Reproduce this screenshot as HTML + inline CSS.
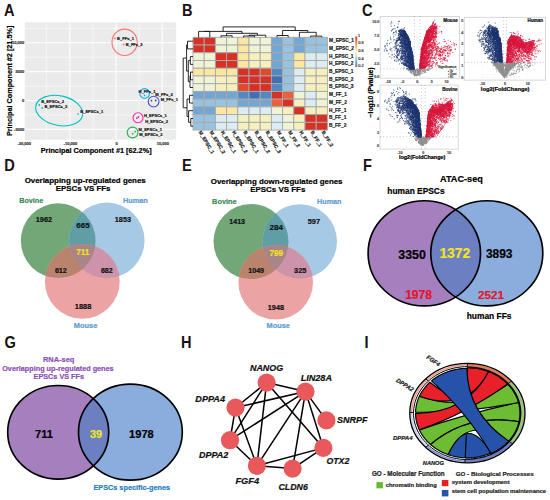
<!DOCTYPE html><html><head><meta charset="utf-8"><style>html,body{margin:0;padding:0;background:#fff;width:550px;height:500px;overflow:hidden}svg{display:block}text{font-family:"Liberation Sans",sans-serif}</style></head><body><svg width="550" height="500" viewBox="0 0 550 500" font-family="Liberation Sans, sans-serif">
<rect width="550" height="500" fill="#fff"/>
<text transform="translate(3.89,15.90) scale(0.9,1)" font-size="16.2" font-weight="bold" fill="#1a1212">A</text>
<rect x="24.8" y="22.3" width="151.4" height="117.4" fill="#ebebeb"/>
<g stroke="#fff">
<line x1="46.7" y1="22.3" x2="46.7" y2="139.7" stroke-width="0.5"/>
<line x1="69.8" y1="22.3" x2="69.8" y2="139.7" stroke-width="1.0"/>
<line x1="92.9" y1="22.3" x2="92.9" y2="139.7" stroke-width="0.5"/>
<line x1="116.0" y1="22.3" x2="116.0" y2="139.7" stroke-width="1.0"/>
<line x1="139.1" y1="22.3" x2="139.1" y2="139.7" stroke-width="0.5"/>
<line x1="162.2" y1="22.3" x2="162.2" y2="139.7" stroke-width="1.0"/>
<line x1="24.8" y1="129.3" x2="176.2" y2="129.3" stroke-width="1.0"/>
<line x1="24.8" y1="114.9" x2="176.2" y2="114.9" stroke-width="0.5"/>
<line x1="24.8" y1="100.5" x2="176.2" y2="100.5" stroke-width="1.0"/>
<line x1="24.8" y1="86.1" x2="176.2" y2="86.1" stroke-width="0.5"/>
<line x1="24.8" y1="71.7" x2="176.2" y2="71.7" stroke-width="1.0"/>
<line x1="24.8" y1="57.2" x2="176.2" y2="57.2" stroke-width="0.5"/>
<line x1="24.8" y1="42.8" x2="176.2" y2="42.8" stroke-width="1.0"/>
<line x1="24.8" y1="28.4" x2="176.2" y2="28.4" stroke-width="0.5"/>
</g>
<text x="24.20" y="145.30" font-size="4.00" font-weight="bold" fill="#3a3a3a" text-anchor="middle" stroke="#3a3a3a" stroke-width="0.2" >-20,000</text>
<text x="70.40" y="145.30" font-size="4.00" font-weight="bold" fill="#3a3a3a" text-anchor="middle" stroke="#3a3a3a" stroke-width="0.2" >-10,000</text>
<text x="116.60" y="145.30" font-size="4.00" font-weight="bold" fill="#3a3a3a" text-anchor="middle" stroke="#3a3a3a" stroke-width="0.2" >0</text>
<text x="162.80" y="145.30" font-size="4.00" font-weight="bold" fill="#3a3a3a" text-anchor="middle" stroke="#3a3a3a" stroke-width="0.2" >10,000</text>
<text x="24.30" y="44.30" font-size="4.00" font-weight="bold" fill="#3a3a3a" text-anchor="end" stroke="#3a3a3a" stroke-width="0.2" >10,000</text>
<text x="24.30" y="73.15" font-size="4.00" font-weight="bold" fill="#3a3a3a" text-anchor="end" stroke="#3a3a3a" stroke-width="0.2" >5000</text>
<text x="24.30" y="102.00" font-size="4.00" font-weight="bold" fill="#3a3a3a" text-anchor="end" stroke="#3a3a3a" stroke-width="0.2" >0</text>
<text x="24.30" y="130.85" font-size="4.00" font-weight="bold" fill="#3a3a3a" text-anchor="end" stroke="#3a3a3a" stroke-width="0.2" >-5000</text>
<text x="40.71" y="152.50" font-size="7.29" font-weight="bold" fill="#000" stroke="#000" stroke-width="0.2" >Principal Component #1 [62.2%]</text>
<text transform="translate(12,80.9) rotate(-90)" font-size="7.25" font-weight="bold" text-anchor="middle" stroke="#000" stroke-width="0.2">Principal Component #2 [21.5%]</text>
<g fill="none" stroke-width="0.9">
<ellipse cx="124.6" cy="42.3" rx="12.6" ry="13.2" stroke="#f8766d" stroke-width="1.1"/>
<ellipse cx="59.2" cy="110.6" rx="23.8" ry="14.8" transform="rotate(12 59.2 110.6)" stroke="#00bfc4" stroke-width="1.1"/>
<circle cx="144.6" cy="93.4" r="4.8" stroke="#00b0f6" stroke-width="1.1"/>
<circle cx="153.6" cy="101.6" r="5.4" stroke="#5050b8" stroke-width="1.1"/>
<circle cx="138" cy="117.8" r="5" stroke="#ff2aa8" stroke-width="1.1"/>
<circle cx="132.6" cy="132.5" r="5.4" stroke="#22b24c" stroke-width="1.1"/>
</g>
<circle cx="114.9" cy="38.4" r="0.9" fill="#f8766d"/>
<circle cx="123.6" cy="44.5" r="0.9" fill="#f8766d"/>
<circle cx="39.3" cy="105" r="0.9" fill="#00bfc4"/>
<circle cx="42.2" cy="107.9" r="0.9" fill="#00bfc4"/>
<circle cx="78" cy="114.1" r="0.9" fill="#00bfc4"/>
<circle cx="144.6" cy="95.4" r="0.9" fill="#00b0f6"/>
<circle cx="151.5" cy="100.6" r="0.9" fill="#3030a0"/>
<circle cx="155.7" cy="100.4" r="0.9" fill="#3030a0"/>
<circle cx="136.8" cy="118.2" r="0.9" fill="#e7298a"/>
<circle cx="138.5" cy="117.0" r="0.9" fill="#e7298a"/>
<circle cx="135.2" cy="131.6" r="0.9" fill="#22b24c"/>
<circle cx="132.6" cy="133.6" r="0.9" fill="#22b24c"/>
<text x="117.03" y="39.80" font-size="4.05" font-weight="bold" fill="#1a1a1a" stroke="#1a1a1a" stroke-width="0.2" >B_FFs_1</text>
<text x="125.73" y="46.00" font-size="4.05" font-weight="bold" fill="#1a1a1a" stroke="#1a1a1a" stroke-width="0.2" >B_FFs_2</text>
<text x="41.13" y="102.80" font-size="4.05" font-weight="bold" fill="#1a1a1a" stroke="#1a1a1a" stroke-width="0.2" >B_EPSCs_2</text>
<text x="44.43" y="107.80" font-size="4.05" font-weight="bold" fill="#1a1a1a" stroke="#1a1a1a" stroke-width="0.2" >B_EPSCs_3</text>
<text x="80.23" y="112.80" font-size="4.05" font-weight="bold" fill="#1a1a1a" stroke="#1a1a1a" stroke-width="0.2" >B_EPSCs_1</text>
<text x="138.53" y="93.40" font-size="4.05" font-weight="bold" fill="#1a1a1a" stroke="#1a1a1a" stroke-width="0.2" >H_FFs_1</text>
<text x="155.33" y="96.00" font-size="4.05" font-weight="bold" fill="#1a1a1a" stroke="#1a1a1a" stroke-width="0.2" >M_FFs_2</text>
<text x="160.73" y="101.20" font-size="4.05" font-weight="bold" fill="#1a1a1a" stroke="#1a1a1a" stroke-width="0.2" >M_FFs_1</text>
<text x="143.93" y="117.40" font-size="4.05" font-weight="bold" fill="#1a1a1a" stroke="#1a1a1a" stroke-width="0.2" >H_EPSCs_1</text>
<text x="145.13" y="122.60" font-size="4.05" font-weight="bold" fill="#1a1a1a" stroke="#1a1a1a" stroke-width="0.2" >H_EPSCs_2</text>
<text x="138.53" y="130.90" font-size="4.05" font-weight="bold" fill="#1a1a1a" stroke="#1a1a1a" stroke-width="0.2" >M_EPSCs_1</text>
<text x="139.13" y="136.00" font-size="4.05" font-weight="bold" fill="#1a1a1a" stroke="#1a1a1a" stroke-width="0.2" >M_EPSCs_2</text>
<text transform="translate(182.12,15.90) scale(0.9,1)" font-size="16.2" font-weight="bold" fill="#1a1212">B</text>
<rect x="193.00" y="37.30" width="11.20" height="7.73" fill="#d73027" stroke="#a8a8a8" stroke-width="0.9"/>
<rect x="204.20" y="37.30" width="11.20" height="7.73" fill="#d73027" stroke="#a8a8a8" stroke-width="0.9"/>
<rect x="215.40" y="37.30" width="11.20" height="7.73" fill="#eff3d7" stroke="#a8a8a8" stroke-width="0.9"/>
<rect x="226.60" y="37.30" width="11.20" height="7.73" fill="#eff3d7" stroke="#a8a8a8" stroke-width="0.9"/>
<rect x="237.80" y="37.30" width="11.20" height="7.73" fill="#fbe7a2" stroke="#a8a8a8" stroke-width="0.9"/>
<rect x="249.00" y="37.30" width="11.20" height="7.73" fill="#eff3d7" stroke="#a8a8a8" stroke-width="0.9"/>
<rect x="260.20" y="37.30" width="11.20" height="7.73" fill="#eff3d7" stroke="#a8a8a8" stroke-width="0.9"/>
<rect x="271.40" y="37.30" width="11.20" height="7.73" fill="#74a6d3" stroke="#a8a8a8" stroke-width="0.9"/>
<rect x="282.60" y="37.30" width="11.20" height="7.73" fill="#98c3e0" stroke="#a8a8a8" stroke-width="0.9"/>
<rect x="293.80" y="37.30" width="11.20" height="7.73" fill="#74a6d3" stroke="#a8a8a8" stroke-width="0.9"/>
<rect x="305.00" y="37.30" width="11.20" height="7.73" fill="#98c3e0" stroke="#a8a8a8" stroke-width="0.9"/>
<rect x="316.20" y="37.30" width="11.20" height="7.73" fill="#98c3e0" stroke="#a8a8a8" stroke-width="0.9"/>
<rect x="193.00" y="45.03" width="11.20" height="7.73" fill="#d73027" stroke="#a8a8a8" stroke-width="0.9"/>
<rect x="204.20" y="45.03" width="11.20" height="7.73" fill="#d73027" stroke="#a8a8a8" stroke-width="0.9"/>
<rect x="215.40" y="45.03" width="11.20" height="7.73" fill="#eff3d7" stroke="#a8a8a8" stroke-width="0.9"/>
<rect x="226.60" y="45.03" width="11.20" height="7.73" fill="#eff3d7" stroke="#a8a8a8" stroke-width="0.9"/>
<rect x="237.80" y="45.03" width="11.20" height="7.73" fill="#fbe7a2" stroke="#a8a8a8" stroke-width="0.9"/>
<rect x="249.00" y="45.03" width="11.20" height="7.73" fill="#eff3d7" stroke="#a8a8a8" stroke-width="0.9"/>
<rect x="260.20" y="45.03" width="11.20" height="7.73" fill="#eff3d7" stroke="#a8a8a8" stroke-width="0.9"/>
<rect x="271.40" y="45.03" width="11.20" height="7.73" fill="#74a6d3" stroke="#a8a8a8" stroke-width="0.9"/>
<rect x="282.60" y="45.03" width="11.20" height="7.73" fill="#98c3e0" stroke="#a8a8a8" stroke-width="0.9"/>
<rect x="293.80" y="45.03" width="11.20" height="7.73" fill="#74a6d3" stroke="#a8a8a8" stroke-width="0.9"/>
<rect x="305.00" y="45.03" width="11.20" height="7.73" fill="#98c3e0" stroke="#a8a8a8" stroke-width="0.9"/>
<rect x="316.20" y="45.03" width="11.20" height="7.73" fill="#98c3e0" stroke="#a8a8a8" stroke-width="0.9"/>
<rect x="193.00" y="52.76" width="11.20" height="7.73" fill="#eff3d7" stroke="#a8a8a8" stroke-width="0.9"/>
<rect x="204.20" y="52.76" width="11.20" height="7.73" fill="#eff3d7" stroke="#a8a8a8" stroke-width="0.9"/>
<rect x="215.40" y="52.76" width="11.20" height="7.73" fill="#d73027" stroke="#a8a8a8" stroke-width="0.9"/>
<rect x="226.60" y="52.76" width="11.20" height="7.73" fill="#d73027" stroke="#a8a8a8" stroke-width="0.9"/>
<rect x="237.80" y="52.76" width="11.20" height="7.73" fill="#fbe7a2" stroke="#a8a8a8" stroke-width="0.9"/>
<rect x="249.00" y="52.76" width="11.20" height="7.73" fill="#f5f0bd" stroke="#a8a8a8" stroke-width="0.9"/>
<rect x="260.20" y="52.76" width="11.20" height="7.73" fill="#f5f0bd" stroke="#a8a8a8" stroke-width="0.9"/>
<rect x="271.40" y="52.76" width="11.20" height="7.73" fill="#74a6d3" stroke="#a8a8a8" stroke-width="0.9"/>
<rect x="282.60" y="52.76" width="11.20" height="7.73" fill="#98c3e0" stroke="#a8a8a8" stroke-width="0.9"/>
<rect x="293.80" y="52.76" width="11.20" height="7.73" fill="#fbe7a2" stroke="#a8a8a8" stroke-width="0.9"/>
<rect x="305.00" y="52.76" width="11.20" height="7.73" fill="#dcedf2" stroke="#a8a8a8" stroke-width="0.9"/>
<rect x="316.20" y="52.76" width="11.20" height="7.73" fill="#dcedf2" stroke="#a8a8a8" stroke-width="0.9"/>
<rect x="193.00" y="60.49" width="11.20" height="7.73" fill="#eff3d7" stroke="#a8a8a8" stroke-width="0.9"/>
<rect x="204.20" y="60.49" width="11.20" height="7.73" fill="#eff3d7" stroke="#a8a8a8" stroke-width="0.9"/>
<rect x="215.40" y="60.49" width="11.20" height="7.73" fill="#d73027" stroke="#a8a8a8" stroke-width="0.9"/>
<rect x="226.60" y="60.49" width="11.20" height="7.73" fill="#d73027" stroke="#a8a8a8" stroke-width="0.9"/>
<rect x="237.80" y="60.49" width="11.20" height="7.73" fill="#fbe7a2" stroke="#a8a8a8" stroke-width="0.9"/>
<rect x="249.00" y="60.49" width="11.20" height="7.73" fill="#f5f0bd" stroke="#a8a8a8" stroke-width="0.9"/>
<rect x="260.20" y="60.49" width="11.20" height="7.73" fill="#f5f0bd" stroke="#a8a8a8" stroke-width="0.9"/>
<rect x="271.40" y="60.49" width="11.20" height="7.73" fill="#74a6d3" stroke="#a8a8a8" stroke-width="0.9"/>
<rect x="282.60" y="60.49" width="11.20" height="7.73" fill="#98c3e0" stroke="#a8a8a8" stroke-width="0.9"/>
<rect x="293.80" y="60.49" width="11.20" height="7.73" fill="#fbe7a2" stroke="#a8a8a8" stroke-width="0.9"/>
<rect x="305.00" y="60.49" width="11.20" height="7.73" fill="#dcedf2" stroke="#a8a8a8" stroke-width="0.9"/>
<rect x="316.20" y="60.49" width="11.20" height="7.73" fill="#dcedf2" stroke="#a8a8a8" stroke-width="0.9"/>
<rect x="193.00" y="68.22" width="11.20" height="7.73" fill="#fbe7a2" stroke="#a8a8a8" stroke-width="0.9"/>
<rect x="204.20" y="68.22" width="11.20" height="7.73" fill="#fbe7a2" stroke="#a8a8a8" stroke-width="0.9"/>
<rect x="215.40" y="68.22" width="11.20" height="7.73" fill="#fbe7a2" stroke="#a8a8a8" stroke-width="0.9"/>
<rect x="226.60" y="68.22" width="11.20" height="7.73" fill="#fbe7a2" stroke="#a8a8a8" stroke-width="0.9"/>
<rect x="237.80" y="68.22" width="11.20" height="7.73" fill="#d73027" stroke="#a8a8a8" stroke-width="0.9"/>
<rect x="249.00" y="68.22" width="11.20" height="7.73" fill="#d73027" stroke="#a8a8a8" stroke-width="0.9"/>
<rect x="260.20" y="68.22" width="11.20" height="7.73" fill="#df4a2e" stroke="#a8a8a8" stroke-width="0.9"/>
<rect x="271.40" y="68.22" width="11.20" height="7.73" fill="#5289c4" stroke="#a8a8a8" stroke-width="0.9"/>
<rect x="282.60" y="68.22" width="11.20" height="7.73" fill="#98c3e0" stroke="#a8a8a8" stroke-width="0.9"/>
<rect x="293.80" y="68.22" width="11.20" height="7.73" fill="#dcedf2" stroke="#a8a8a8" stroke-width="0.9"/>
<rect x="305.00" y="68.22" width="11.20" height="7.73" fill="#f5f0bd" stroke="#a8a8a8" stroke-width="0.9"/>
<rect x="316.20" y="68.22" width="11.20" height="7.73" fill="#f5f0bd" stroke="#a8a8a8" stroke-width="0.9"/>
<rect x="193.00" y="75.95" width="11.20" height="7.73" fill="#eff3d7" stroke="#a8a8a8" stroke-width="0.9"/>
<rect x="204.20" y="75.95" width="11.20" height="7.73" fill="#eff3d7" stroke="#a8a8a8" stroke-width="0.9"/>
<rect x="215.40" y="75.95" width="11.20" height="7.73" fill="#f5f0bd" stroke="#a8a8a8" stroke-width="0.9"/>
<rect x="226.60" y="75.95" width="11.20" height="7.73" fill="#f5f0bd" stroke="#a8a8a8" stroke-width="0.9"/>
<rect x="237.80" y="75.95" width="11.20" height="7.73" fill="#d73027" stroke="#a8a8a8" stroke-width="0.9"/>
<rect x="249.00" y="75.95" width="11.20" height="7.73" fill="#d73027" stroke="#a8a8a8" stroke-width="0.9"/>
<rect x="260.20" y="75.95" width="11.20" height="7.73" fill="#d73027" stroke="#a8a8a8" stroke-width="0.9"/>
<rect x="271.40" y="75.95" width="11.20" height="7.73" fill="#3f71b4" stroke="#a8a8a8" stroke-width="0.9"/>
<rect x="282.60" y="75.95" width="11.20" height="7.73" fill="#98c3e0" stroke="#a8a8a8" stroke-width="0.9"/>
<rect x="293.80" y="75.95" width="11.20" height="7.73" fill="#dcedf2" stroke="#a8a8a8" stroke-width="0.9"/>
<rect x="305.00" y="75.95" width="11.20" height="7.73" fill="#f5f0bd" stroke="#a8a8a8" stroke-width="0.9"/>
<rect x="316.20" y="75.95" width="11.20" height="7.73" fill="#f5f0bd" stroke="#a8a8a8" stroke-width="0.9"/>
<rect x="193.00" y="83.68" width="11.20" height="7.73" fill="#eff3d7" stroke="#a8a8a8" stroke-width="0.9"/>
<rect x="204.20" y="83.68" width="11.20" height="7.73" fill="#eff3d7" stroke="#a8a8a8" stroke-width="0.9"/>
<rect x="215.40" y="83.68" width="11.20" height="7.73" fill="#f5f0bd" stroke="#a8a8a8" stroke-width="0.9"/>
<rect x="226.60" y="83.68" width="11.20" height="7.73" fill="#f5f0bd" stroke="#a8a8a8" stroke-width="0.9"/>
<rect x="237.80" y="83.68" width="11.20" height="7.73" fill="#df4a2e" stroke="#a8a8a8" stroke-width="0.9"/>
<rect x="249.00" y="83.68" width="11.20" height="7.73" fill="#d73027" stroke="#a8a8a8" stroke-width="0.9"/>
<rect x="260.20" y="83.68" width="11.20" height="7.73" fill="#d73027" stroke="#a8a8a8" stroke-width="0.9"/>
<rect x="271.40" y="83.68" width="11.20" height="7.73" fill="#5289c4" stroke="#a8a8a8" stroke-width="0.9"/>
<rect x="282.60" y="83.68" width="11.20" height="7.73" fill="#98c3e0" stroke="#a8a8a8" stroke-width="0.9"/>
<rect x="293.80" y="83.68" width="11.20" height="7.73" fill="#dcedf2" stroke="#a8a8a8" stroke-width="0.9"/>
<rect x="305.00" y="83.68" width="11.20" height="7.73" fill="#f5f0bd" stroke="#a8a8a8" stroke-width="0.9"/>
<rect x="316.20" y="83.68" width="11.20" height="7.73" fill="#f5f0bd" stroke="#a8a8a8" stroke-width="0.9"/>
<rect x="193.00" y="91.41" width="11.20" height="7.73" fill="#74a6d3" stroke="#a8a8a8" stroke-width="0.9"/>
<rect x="204.20" y="91.41" width="11.20" height="7.73" fill="#74a6d3" stroke="#a8a8a8" stroke-width="0.9"/>
<rect x="215.40" y="91.41" width="11.20" height="7.73" fill="#74a6d3" stroke="#a8a8a8" stroke-width="0.9"/>
<rect x="226.60" y="91.41" width="11.20" height="7.73" fill="#74a6d3" stroke="#a8a8a8" stroke-width="0.9"/>
<rect x="237.80" y="91.41" width="11.20" height="7.73" fill="#5289c4" stroke="#a8a8a8" stroke-width="0.9"/>
<rect x="249.00" y="91.41" width="11.20" height="7.73" fill="#3f71b4" stroke="#a8a8a8" stroke-width="0.9"/>
<rect x="260.20" y="91.41" width="11.20" height="7.73" fill="#5289c4" stroke="#a8a8a8" stroke-width="0.9"/>
<rect x="271.40" y="91.41" width="11.20" height="7.73" fill="#d73027" stroke="#a8a8a8" stroke-width="0.9"/>
<rect x="282.60" y="91.41" width="11.20" height="7.73" fill="#e9603c" stroke="#a8a8a8" stroke-width="0.9"/>
<rect x="293.80" y="91.41" width="11.20" height="7.73" fill="#eff3d7" stroke="#a8a8a8" stroke-width="0.9"/>
<rect x="305.00" y="91.41" width="11.20" height="7.73" fill="#dcedf2" stroke="#a8a8a8" stroke-width="0.9"/>
<rect x="316.20" y="91.41" width="11.20" height="7.73" fill="#eff3d7" stroke="#a8a8a8" stroke-width="0.9"/>
<rect x="193.00" y="99.14" width="11.20" height="7.73" fill="#98c3e0" stroke="#a8a8a8" stroke-width="0.9"/>
<rect x="204.20" y="99.14" width="11.20" height="7.73" fill="#98c3e0" stroke="#a8a8a8" stroke-width="0.9"/>
<rect x="215.40" y="99.14" width="11.20" height="7.73" fill="#98c3e0" stroke="#a8a8a8" stroke-width="0.9"/>
<rect x="226.60" y="99.14" width="11.20" height="7.73" fill="#98c3e0" stroke="#a8a8a8" stroke-width="0.9"/>
<rect x="237.80" y="99.14" width="11.20" height="7.73" fill="#74a6d3" stroke="#a8a8a8" stroke-width="0.9"/>
<rect x="249.00" y="99.14" width="11.20" height="7.73" fill="#74a6d3" stroke="#a8a8a8" stroke-width="0.9"/>
<rect x="260.20" y="99.14" width="11.20" height="7.73" fill="#74a6d3" stroke="#a8a8a8" stroke-width="0.9"/>
<rect x="271.40" y="99.14" width="11.20" height="7.73" fill="#e9603c" stroke="#a8a8a8" stroke-width="0.9"/>
<rect x="282.60" y="99.14" width="11.20" height="7.73" fill="#d73027" stroke="#a8a8a8" stroke-width="0.9"/>
<rect x="293.80" y="99.14" width="11.20" height="7.73" fill="#f5f0bd" stroke="#a8a8a8" stroke-width="0.9"/>
<rect x="305.00" y="99.14" width="11.20" height="7.73" fill="#dcedf2" stroke="#a8a8a8" stroke-width="0.9"/>
<rect x="316.20" y="99.14" width="11.20" height="7.73" fill="#eff3d7" stroke="#a8a8a8" stroke-width="0.9"/>
<rect x="193.00" y="106.87" width="11.20" height="7.73" fill="#74a6d3" stroke="#a8a8a8" stroke-width="0.9"/>
<rect x="204.20" y="106.87" width="11.20" height="7.73" fill="#74a6d3" stroke="#a8a8a8" stroke-width="0.9"/>
<rect x="215.40" y="106.87" width="11.20" height="7.73" fill="#fbe7a2" stroke="#a8a8a8" stroke-width="0.9"/>
<rect x="226.60" y="106.87" width="11.20" height="7.73" fill="#fbe7a2" stroke="#a8a8a8" stroke-width="0.9"/>
<rect x="237.80" y="106.87" width="11.20" height="7.73" fill="#dcedf2" stroke="#a8a8a8" stroke-width="0.9"/>
<rect x="249.00" y="106.87" width="11.20" height="7.73" fill="#dcedf2" stroke="#a8a8a8" stroke-width="0.9"/>
<rect x="260.20" y="106.87" width="11.20" height="7.73" fill="#dcedf2" stroke="#a8a8a8" stroke-width="0.9"/>
<rect x="271.40" y="106.87" width="11.20" height="7.73" fill="#eff3d7" stroke="#a8a8a8" stroke-width="0.9"/>
<rect x="282.60" y="106.87" width="11.20" height="7.73" fill="#f5f0bd" stroke="#a8a8a8" stroke-width="0.9"/>
<rect x="293.80" y="106.87" width="11.20" height="7.73" fill="#d73027" stroke="#a8a8a8" stroke-width="0.9"/>
<rect x="305.00" y="106.87" width="11.20" height="7.73" fill="#f5f0bd" stroke="#a8a8a8" stroke-width="0.9"/>
<rect x="316.20" y="106.87" width="11.20" height="7.73" fill="#f5f0bd" stroke="#a8a8a8" stroke-width="0.9"/>
<rect x="193.00" y="114.60" width="11.20" height="7.73" fill="#98c3e0" stroke="#a8a8a8" stroke-width="0.9"/>
<rect x="204.20" y="114.60" width="11.20" height="7.73" fill="#98c3e0" stroke="#a8a8a8" stroke-width="0.9"/>
<rect x="215.40" y="114.60" width="11.20" height="7.73" fill="#dcedf2" stroke="#a8a8a8" stroke-width="0.9"/>
<rect x="226.60" y="114.60" width="11.20" height="7.73" fill="#dcedf2" stroke="#a8a8a8" stroke-width="0.9"/>
<rect x="237.80" y="114.60" width="11.20" height="7.73" fill="#f5f0bd" stroke="#a8a8a8" stroke-width="0.9"/>
<rect x="249.00" y="114.60" width="11.20" height="7.73" fill="#f5f0bd" stroke="#a8a8a8" stroke-width="0.9"/>
<rect x="260.20" y="114.60" width="11.20" height="7.73" fill="#f5f0bd" stroke="#a8a8a8" stroke-width="0.9"/>
<rect x="271.40" y="114.60" width="11.20" height="7.73" fill="#dcedf2" stroke="#a8a8a8" stroke-width="0.9"/>
<rect x="282.60" y="114.60" width="11.20" height="7.73" fill="#eff3d7" stroke="#a8a8a8" stroke-width="0.9"/>
<rect x="293.80" y="114.60" width="11.20" height="7.73" fill="#f5f0bd" stroke="#a8a8a8" stroke-width="0.9"/>
<rect x="305.00" y="114.60" width="11.20" height="7.73" fill="#d73027" stroke="#a8a8a8" stroke-width="0.9"/>
<rect x="316.20" y="114.60" width="11.20" height="7.73" fill="#d73027" stroke="#a8a8a8" stroke-width="0.9"/>
<rect x="193.00" y="122.33" width="11.20" height="7.73" fill="#98c3e0" stroke="#a8a8a8" stroke-width="0.9"/>
<rect x="204.20" y="122.33" width="11.20" height="7.73" fill="#98c3e0" stroke="#a8a8a8" stroke-width="0.9"/>
<rect x="215.40" y="122.33" width="11.20" height="7.73" fill="#dcedf2" stroke="#a8a8a8" stroke-width="0.9"/>
<rect x="226.60" y="122.33" width="11.20" height="7.73" fill="#dcedf2" stroke="#a8a8a8" stroke-width="0.9"/>
<rect x="237.80" y="122.33" width="11.20" height="7.73" fill="#f5f0bd" stroke="#a8a8a8" stroke-width="0.9"/>
<rect x="249.00" y="122.33" width="11.20" height="7.73" fill="#f5f0bd" stroke="#a8a8a8" stroke-width="0.9"/>
<rect x="260.20" y="122.33" width="11.20" height="7.73" fill="#f5f0bd" stroke="#a8a8a8" stroke-width="0.9"/>
<rect x="271.40" y="122.33" width="11.20" height="7.73" fill="#dcedf2" stroke="#a8a8a8" stroke-width="0.9"/>
<rect x="282.60" y="122.33" width="11.20" height="7.73" fill="#eff3d7" stroke="#a8a8a8" stroke-width="0.9"/>
<rect x="293.80" y="122.33" width="11.20" height="7.73" fill="#f5f0bd" stroke="#a8a8a8" stroke-width="0.9"/>
<rect x="305.00" y="122.33" width="11.20" height="7.73" fill="#d73027" stroke="#a8a8a8" stroke-width="0.9"/>
<rect x="316.20" y="122.33" width="11.20" height="7.73" fill="#d73027" stroke="#a8a8a8" stroke-width="0.9"/>
<text x="328.98" y="42.06" font-size="4.80" font-weight="bold" fill="#1a1a1a" stroke="#1a1a1a" stroke-width="0.2" >M_EPSC_1</text>
<text x="328.98" y="49.79" font-size="4.80" font-weight="bold" fill="#1a1a1a" stroke="#1a1a1a" stroke-width="0.2" >M_EPSC_2</text>
<text x="328.98" y="57.52" font-size="4.80" font-weight="bold" fill="#1a1a1a" stroke="#1a1a1a" stroke-width="0.2" >H_EPSC_1</text>
<text x="328.98" y="65.25" font-size="4.80" font-weight="bold" fill="#1a1a1a" stroke="#1a1a1a" stroke-width="0.2" >H_EPSC_2</text>
<text x="328.98" y="72.99" font-size="4.80" font-weight="bold" fill="#1a1a1a" stroke="#1a1a1a" stroke-width="0.2" >B_EPSC_1</text>
<text x="328.98" y="80.72" font-size="4.80" font-weight="bold" fill="#1a1a1a" stroke="#1a1a1a" stroke-width="0.2" >B_EPSC_2</text>
<text x="328.98" y="88.45" font-size="4.80" font-weight="bold" fill="#1a1a1a" stroke="#1a1a1a" stroke-width="0.2" >B_EPSC_3</text>
<text x="328.98" y="96.18" font-size="4.80" font-weight="bold" fill="#1a1a1a" stroke="#1a1a1a" stroke-width="0.2" >M_FF_1</text>
<text x="328.98" y="103.91" font-size="4.80" font-weight="bold" fill="#1a1a1a" stroke="#1a1a1a" stroke-width="0.2" >M_FF_2</text>
<text x="328.98" y="111.64" font-size="4.80" font-weight="bold" fill="#1a1a1a" stroke="#1a1a1a" stroke-width="0.2" >H_FF_1</text>
<text x="328.98" y="119.37" font-size="4.80" font-weight="bold" fill="#1a1a1a" stroke="#1a1a1a" stroke-width="0.2" >B_FF_1</text>
<text x="328.98" y="127.10" font-size="4.80" font-weight="bold" fill="#1a1a1a" stroke="#1a1a1a" stroke-width="0.2" >B_FF_2</text>
<text transform="translate(198.40,132.06) rotate(59)" font-size="4.9" font-weight="bold" fill="#1a1a1a" stroke="#1a1a1a" stroke-width="0.2">M_EPSC_1</text>
<text transform="translate(209.60,132.06) rotate(59)" font-size="4.9" font-weight="bold" fill="#1a1a1a" stroke="#1a1a1a" stroke-width="0.2">M_EPSC_2</text>
<text transform="translate(220.80,132.06) rotate(59)" font-size="4.9" font-weight="bold" fill="#1a1a1a" stroke="#1a1a1a" stroke-width="0.2">H_EPSC_1</text>
<text transform="translate(232.00,132.06) rotate(59)" font-size="4.9" font-weight="bold" fill="#1a1a1a" stroke="#1a1a1a" stroke-width="0.2">H_EPSC_2</text>
<text transform="translate(243.20,132.06) rotate(59)" font-size="4.9" font-weight="bold" fill="#1a1a1a" stroke="#1a1a1a" stroke-width="0.2">B_EPSC_1</text>
<text transform="translate(254.40,132.06) rotate(59)" font-size="4.9" font-weight="bold" fill="#1a1a1a" stroke="#1a1a1a" stroke-width="0.2">B_EPSC_2</text>
<text transform="translate(265.60,132.06) rotate(59)" font-size="4.9" font-weight="bold" fill="#1a1a1a" stroke="#1a1a1a" stroke-width="0.2">B_EPSC_3</text>
<text transform="translate(276.80,132.06) rotate(59)" font-size="4.9" font-weight="bold" fill="#1a1a1a" stroke="#1a1a1a" stroke-width="0.2">M_FF_1</text>
<text transform="translate(288.00,132.06) rotate(59)" font-size="4.9" font-weight="bold" fill="#1a1a1a" stroke="#1a1a1a" stroke-width="0.2">M_FF_2</text>
<text transform="translate(299.20,132.06) rotate(59)" font-size="4.9" font-weight="bold" fill="#1a1a1a" stroke="#1a1a1a" stroke-width="0.2">H_FF_1</text>
<text transform="translate(310.40,132.06) rotate(59)" font-size="4.9" font-weight="bold" fill="#1a1a1a" stroke="#1a1a1a" stroke-width="0.2">B_FF_1</text>
<text transform="translate(321.60,132.06) rotate(59)" font-size="4.9" font-weight="bold" fill="#1a1a1a" stroke="#1a1a1a" stroke-width="0.2">B_FF_2</text>
<g stroke="#111" stroke-width="0.9" fill="none">
<path d="M198.6 37.3V31.4H209.8V37.3"/>
<path d="M221.0 37.3V35.8H232.2V37.3"/>
<path d="M243.4 37.3V36.0H254.6V37.3"/>
<path d="M249.0 36.0V35.2H265.8V37.3"/>
<path d="M226.6 35.8V33.3H257.4V35.2"/>
<path d="M204.2 31.4V31.4H242.0V33.3"/>
<path d="M277.0 37.3V35.5H288.2V37.3"/>
<path d="M310.6 37.3V36.1H321.8V37.3"/>
<path d="M299.4 37.3V32.3H316.2V36.1"/>
<path d="M282.6 35.5V30.5H307.8V32.3"/>
<path d="M223.1 31.4V26.9H295.2V30.5"/>
<path d="M193.0 41.2H187.5V48.9H193.0"/>
<path d="M193.0 56.6H190.3V64.4H193.0"/>
<path d="M193.0 72.1H190.5V79.8H193.0"/>
<path d="M190.5 76.0H190.0V87.5H193.0"/>
<path d="M190.3 60.5H188.3V81.7H190.0"/>
<path d="M187.5 45.0H186.6V71.1H188.3"/>
<path d="M193.0 95.3H189.5V103.0H193.0"/>
<path d="M193.0 118.5H190.8V126.2H193.0"/>
<path d="M193.0 110.7H188.6V122.3H190.8"/>
<path d="M189.5 99.1H187.0V116.5H188.6"/>
<path d="M186.6 58.1H183.2V107.8H187.0"/>
</g>
<defs><linearGradient id="lg" x1="0" y1="1" x2="0" y2="0"><stop offset="0" stop-color="#4575b4"/><stop offset="0.25" stop-color="#91bfdb"/><stop offset="0.5" stop-color="#ffffbf"/><stop offset="0.75" stop-color="#fc8d59"/><stop offset="1" stop-color="#d73027"/></linearGradient></defs>
<rect x="355.3" y="36.5" width="1.9" height="30.5" fill="url(#lg)"/>
<text x="358.11" y="36.90" font-size="3.80"  fill="#333" stroke="#333" stroke-width="0.2" >1</text>
<text x="358.25" y="44.40" font-size="3.80"  fill="#333" stroke="#333" stroke-width="0.2" >0.8</text>
<text x="358.25" y="51.90" font-size="3.80"  fill="#333" stroke="#333" stroke-width="0.2" >0.6</text>
<text x="358.25" y="59.90" font-size="3.80"  fill="#333" stroke="#333" stroke-width="0.2" >0.4</text>
<text x="358.25" y="66.90" font-size="3.80"  fill="#333" stroke="#333" stroke-width="0.2" >0.2</text>
<text transform="translate(362.02,16.10) scale(0.9,1)" font-size="16.2" font-weight="bold" fill="#1a1212">C</text>
<rect x="380.2" y="16.4" width="79.3" height="61.8" fill="#fff" stroke="#cfcfcf" stroke-width="0.8"/>
<g stroke="#e3e3e3" stroke-width="0.5" stroke-dasharray="0.6 2.0">
<line x1="388.2" y1="16.4" x2="388.2" y2="78.2"/>
<line x1="402.7" y1="16.4" x2="402.7" y2="78.2"/>
<line x1="417.3" y1="16.4" x2="417.3" y2="78.2"/>
<line x1="431.8" y1="16.4" x2="431.8" y2="78.2"/>
<line x1="446.4" y1="16.4" x2="446.4" y2="78.2"/>
<line x1="380.2" y1="21.5" x2="459.5" y2="21.5"/>
<line x1="380.2" y1="35.5" x2="459.5" y2="35.5"/>
<line x1="380.2" y1="49.5" x2="459.5" y2="49.5"/>
<line x1="380.2" y1="63.6" x2="459.5" y2="63.6"/>
<line x1="380.2" y1="77.0" x2="459.5" y2="77.0"/>
</g>
<g stroke="#777" stroke-width="0.6" stroke-dasharray="0.7 2.6">
<line x1="380.2" y1="69.0" x2="459.5" y2="69.0"/>
<line x1="414.4" y1="16.4" x2="414.4" y2="78.2"/>
<line x1="420.2" y1="16.4" x2="420.2" y2="78.2"/>
</g>
<path d="M413.7 69.2h.01M422.6 68.6h.01M419.5 70.9h.01M406.9 68.7h.01M416.5 74.6h.01M408.3 69.8h.01M420.6 71.2h.01M431.4 68.4h.01M428.2 70.3h.01M408.9 68.9h.01M413.3 74.5h.01M422.3 71.0h.01M419.8 68.5h.01M423.4 71.4h.01M413.5 72.7h.01M417.2 70.4h.01M411.6 72.6h.01M419.2 75.0h.01M424.7 70.3h.01M416.3 74.1h.01M428.6 70.5h.01M423.8 72.8h.01M420.7 71.6h.01M417.8 73.3h.01M427.2 70.3h.01M415.4 73.3h.01M409.5 68.9h.01M408.5 70.0h.01M415.6 75.0h.01M419.8 75.1h.01M412.5 71.3h.01M414.7 75.1h.01M409.8 69.9h.01M411.3 71.9h.01M420.9 70.1h.01M415.0 72.5h.01M418.9 72.9h.01M423.3 68.4h.01M415.6 71.2h.01M406.7 68.5h.01M410.6 69.3h.01M414.2 68.4h.01M421.6 69.2h.01M411.8 70.8h.01M414.8 69.0h.01M417.6 71.9h.01M407.3 68.8h.01M414.3 70.1h.01M427.4 69.3h.01M419.3 69.2h.01M412.1 70.9h.01M419.4 74.2h.01M413.9 69.8h.01M411.1 72.1h.01M412.0 73.5h.01M411.0 69.8h.01M410.3 69.6h.01M425.3 71.8h.01M414.0 74.4h.01M415.8 75.6h.01M424.6 69.4h.01M408.4 69.2h.01M414.5 72.4h.01M416.7 75.0h.01M427.3 69.7h.01M411.8 70.3h.01M411.5 72.7h.01M412.0 71.4h.01M414.6 71.7h.01M416.4 75.3h.01M418.5 72.3h.01M416.9 69.5h.01M424.6 72.5h.01M413.8 72.1h.01M420.0 74.3h.01M411.7 70.2h.01M425.9 72.1h.01M420.2 74.1h.01M421.5 72.0h.01M418.8 73.5h.01M417.2 72.3h.01M417.9 75.5h.01M427.7 69.1h.01M422.8 69.1h.01M415.8 71.9h.01M418.9 70.7h.01M410.3 70.5h.01M424.5 68.2h.01M420.0 71.5h.01M421.8 72.1h.01M407.8 70.1h.01M412.3 69.0h.01M416.4 75.3h.01M427.1 70.1h.01M420.4 73.6h.01M407.4 68.5h.01M423.6 71.4h.01M417.3 70.7h.01M412.2 69.0h.01M419.2 69.9h.01M408.0 69.3h.01M413.4 70.4h.01M425.5 70.3h.01M418.5 69.4h.01M424.8 72.4h.01M410.1 71.8h.01M430.2 68.9h.01M418.4 74.7h.01M415.6 72.1h.01M414.3 74.7h.01M415.9 70.8h.01M406.5 69.0h.01M411.9 69.3h.01M412.6 69.9h.01M412.9 71.7h.01M413.4 70.9h.01M417.8 72.0h.01M410.4 72.0h.01M413.2 69.9h.01M420.8 72.2h.01M415.5 70.6h.01M418.6 74.7h.01M420.1 73.0h.01M421.9 73.4h.01M418.6 72.3h.01M422.8 68.5h.01M424.9 70.0h.01M424.7 69.6h.01M418.3 71.1h.01M417.9 73.5h.01M422.4 68.6h.01M409.0 70.0h.01M425.1 70.4h.01M423.2 70.3h.01M418.9 71.7h.01M417.6 68.9h.01M429.1 69.6h.01M417.1 70.1h.01M410.7 72.7h.01M417.2 70.4h.01M408.8 70.8h.01M413.5 74.7h.01M427.7 69.0h.01M415.0 71.1h.01M414.7 71.4h.01M412.4 68.4h.01M411.7 70.1h.01M418.8 69.5h.01M415.1 75.6h.01M424.4 68.4h.01M424.8 71.6h.01M412.7 68.4h.01M430.0 69.0h.01M417.7 70.7h.01M413.0 73.9h.01M422.7 70.4h.01M420.0 71.2h.01M409.5 69.3h.01M418.4 69.8h.01M417.1 69.1h.01M410.2 68.7h.01M414.2 68.7h.01M411.5 70.1h.01M425.2 71.3h.01M416.2 72.2h.01M415.2 70.7h.01M418.6 73.0h.01M428.3 69.7h.01M412.3 70.0h.01M415.8 71.6h.01M428.6 68.2h.01M415.6 75.4h.01M407.9 69.2h.01M419.1 73.5h.01M417.3 72.4h.01M422.4 70.4h.01M408.5 70.0h.01M422.2 73.6h.01M408.0 68.6h.01M419.2 72.7h.01M415.5 69.8h.01M413.1 71.7h.01M411.3 70.0h.01M418.5 73.4h.01M416.3 70.1h.01M414.1 71.4h.01M423.4 69.6h.01M418.6 69.6h.01M427.1 69.8h.01M418.4 69.5h.01M411.0 71.3h.01M425.2 68.3h.01M422.9 71.0h.01M415.1 70.7h.01M412.6 70.8h.01M414.6 74.6h.01M415.1 75.4h.01M410.2 70.9h.01M429.2 68.2h.01M416.1 74.5h.01" stroke="#808080" stroke-width="0.7" stroke-linecap="square"/>
<path d="M410.5 69.0L414.3 69.0L416.3 74.5L418.5 69.0L422.5 69.0L418.5 74.0L417.0 76.2L415.8 76.2L413.0 72.8Z" fill="#8f8f8f"/>
<path d="M406.6 64.1h.01M394.2 32.4h.01M391.8 54.9h.01M393.5 32.5h.01M391.0 42.6h.01M413.0 66.9h.01M395.6 31.3h.01M397.0 43.6h.01M408.3 56.0h.01M409.0 57.7h.01M402.4 35.2h.01M393.6 36.9h.01M389.9 56.7h.01M391.4 21.8h.01M384.9 46.5h.01M410.8 68.6h.01M391.9 22.8h.01M386.8 43.8h.01M405.5 41.2h.01M391.0 39.7h.01M402.8 52.7h.01M406.7 61.5h.01M401.1 37.5h.01M391.4 31.0h.01M401.5 35.1h.01M399.3 30.3h.01M408.5 51.6h.01M398.3 60.0h.01M409.5 64.9h.01M410.3 41.3h.01M391.8 58.0h.01M402.0 50.0h.01M390.5 37.2h.01M391.6 48.9h.01M403.7 28.9h.01M404.5 27.9h.01M393.4 28.9h.01M408.1 46.3h.01M395.9 46.4h.01M388.8 53.8h.01M396.3 32.9h.01M393.4 47.3h.01M394.7 39.7h.01M410.2 69.0h.01M394.9 28.6h.01M396.8 60.1h.01M397.9 26.8h.01M403.4 64.6h.01M386.6 50.1h.01M395.2 44.1h.01M387.2 43.4h.01M408.4 67.5h.01M412.6 68.0h.01M398.6 21.3h.01M411.4 50.0h.01M396.2 61.4h.01M390.5 38.8h.01M399.6 38.0h.01M406.0 64.0h.01M385.1 47.0h.01M402.1 46.4h.01M403.0 34.1h.01M396.7 48.1h.01M396.8 51.9h.01M397.5 40.8h.01M384.6 49.9h.01M398.8 30.5h.01M407.1 58.1h.01M397.8 27.7h.01M398.3 24.0h.01M387.8 40.4h.01M406.2 57.9h.01M399.5 21.3h.01M399.2 37.7h.01M410.0 69.0h.01M406.2 59.8h.01M407.9 65.7h.01M399.3 34.7h.01M404.6 63.9h.01M387.4 45.4h.01M403.3 36.8h.01M410.5 46.7h.01M401.5 63.3h.01M403.1 38.5h.01M394.8 57.3h.01M397.3 27.5h.01M401.7 52.2h.01M402.6 40.5h.01M399.5 63.9h.01M390.7 48.1h.01M401.8 28.9h.01M402.9 42.6h.01M391.3 26.1h.01M386.8 50.9h.01M410.4 58.2h.01M396.1 31.9h.01M384.2 51.2h.01M401.0 36.3h.01M403.5 41.0h.01M385.2 45.5h.01M396.2 30.6h.01M389.9 49.4h.01M399.3 51.1h.01M393.3 33.8h.01M407.7 54.8h.01M406.6 42.1h.01M406.5 41.5h.01M390.7 23.9h.01M394.1 56.5h.01M405.1 61.4h.01M405.6 32.0h.01M400.7 40.6h.01M407.9 45.1h.01M391.9 51.1h.01M391.8 30.5h.01M406.5 66.4h.01M406.6 35.1h.01M403.1 53.7h.01M404.1 68.1h.01M398.2 61.1h.01M405.1 62.0h.01M397.2 55.3h.01M401.2 34.1h.01M390.3 50.1h.01M394.4 25.7h.01M405.0 50.7h.01M405.1 55.9h.01M385.9 48.5h.01M394.9 60.0h.01M408.9 63.7h.01M411.7 66.4h.01M409.7 59.7h.01M403.2 60.3h.01M403.1 33.1h.01M393.6 40.0h.01M392.5 54.8h.01M395.1 34.8h.01M409.8 49.9h.01M397.2 57.7h.01M394.4 54.2h.01M400.3 29.5h.01M407.1 68.1h.01M398.8 58.9h.01M389.5 43.6h.01M394.4 60.7h.01M392.5 29.4h.01M405.2 43.8h.01M387.2 50.8h.01M405.1 58.4h.01M403.0 36.6h.01" stroke="#1d3570" stroke-width="0.75" stroke-linecap="square"/>
<path d="M435.2 38.3h.01M427.5 31.7h.01M454.7 43.6h.01M434.3 62.8h.01M428.6 41.6h.01M440.3 56.3h.01M448.9 50.9h.01M433.1 34.9h.01M425.6 60.7h.01M445.4 55.7h.01M426.1 40.5h.01M449.7 47.5h.01M424.4 41.7h.01M427.0 33.6h.01M447.0 60.7h.01M429.2 34.9h.01M439.9 26.6h.01M432.3 28.0h.01M423.5 66.7h.01M448.2 40.3h.01M427.2 50.5h.01M434.7 20.3h.01M435.1 58.1h.01M446.6 43.6h.01M444.2 41.7h.01M425.0 48.7h.01M435.3 55.6h.01M441.9 56.0h.01M436.0 30.0h.01M449.8 53.6h.01M452.8 52.5h.01M444.6 41.3h.01M431.7 50.0h.01M450.1 54.2h.01M436.1 41.3h.01M426.6 51.3h.01M425.8 57.7h.01M456.3 44.5h.01M423.4 47.3h.01M440.6 54.4h.01M439.5 50.5h.01M451.9 44.6h.01M435.5 66.0h.01M427.7 52.8h.01M434.8 56.7h.01M424.3 67.8h.01M433.4 21.4h.01M430.2 38.5h.01M435.9 53.5h.01M433.3 31.8h.01M428.3 55.6h.01M456.2 44.9h.01M428.0 58.6h.01M434.8 29.2h.01M424.5 57.4h.01M451.1 50.3h.01M437.8 46.7h.01M428.3 66.8h.01M433.3 50.5h.01M437.8 33.3h.01M434.2 31.2h.01M436.1 27.9h.01M430.5 30.8h.01M431.3 42.5h.01M436.2 50.4h.01M421.7 60.0h.01M425.0 60.1h.01M419.9 66.2h.01M428.6 57.4h.01M433.0 26.2h.01M426.1 63.1h.01M443.3 57.6h.01M427.2 53.2h.01M440.2 55.7h.01M436.6 62.7h.01M441.2 31.8h.01M437.8 25.8h.01M438.7 43.5h.01M440.6 61.7h.01M437.8 46.7h.01M445.5 60.6h.01M434.1 39.5h.01M444.4 50.4h.01M432.4 67.6h.01M439.5 42.8h.01M447.6 49.8h.01M432.7 61.6h.01M433.8 42.3h.01M440.0 57.1h.01M427.7 40.3h.01M436.0 46.3h.01M439.2 32.1h.01M445.1 58.2h.01M432.4 34.4h.01M431.2 47.9h.01M444.3 57.8h.01M454.1 45.8h.01M455.5 49.0h.01M445.2 58.0h.01M455.1 49.2h.01M443.6 49.9h.01M446.7 48.4h.01M445.6 41.5h.01M441.5 31.5h.01M431.3 39.7h.01M431.9 40.1h.01M451.2 47.3h.01M435.6 23.7h.01M424.2 66.9h.01M422.9 62.0h.01M421.4 57.3h.01M447.4 61.3h.01M444.1 54.0h.01M437.5 65.2h.01M429.4 66.8h.01M431.7 55.0h.01M426.0 61.6h.01M433.9 47.3h.01M436.6 52.4h.01M425.2 58.4h.01M433.7 50.8h.01M444.1 39.5h.01M434.6 57.9h.01M441.7 33.2h.01M421.9 67.3h.01M447.0 59.9h.01M432.5 48.9h.01M436.2 63.0h.01M434.2 52.8h.01M443.0 63.4h.01M436.0 47.9h.01M421.1 60.2h.01M433.1 22.8h.01M441.1 58.4h.01M427.3 56.1h.01M443.2 52.4h.01M437.7 28.9h.01M429.4 56.1h.01M450.4 41.5h.01M422.9 58.9h.01M442.2 63.4h.01M454.1 44.7h.01M438.1 48.0h.01M426.6 53.6h.01M433.7 46.8h.01M435.2 44.4h.01M423.6 50.2h.01M420.8 68.1h.01M453.4 42.9h.01M441.7 31.6h.01" stroke="#d8173c" stroke-width="0.75" stroke-linecap="square"/>
<path d="M398.8 31.6h.01M406.0 45.6h.01M407.5 45.5h.01M412.4 62.8h.01M412.9 63.0h.01M403.4 54.7h.01M408.4 51.7h.01M402.1 36.2h.01M412.2 56.2h.01M403.4 41.3h.01M400.6 35.6h.01M410.9 50.7h.01M408.3 37.8h.01M411.5 49.4h.01M410.5 63.9h.01M398.1 37.2h.01M408.1 37.7h.01M411.6 58.1h.01M409.7 43.3h.01M404.6 32.8h.01M404.0 30.9h.01M406.4 39.9h.01M404.6 35.9h.01M399.5 39.6h.01M405.4 55.5h.01M406.3 48.4h.01M401.5 53.0h.01M402.7 32.5h.01M402.7 58.9h.01M408.3 65.9h.01M409.5 53.0h.01M403.9 47.5h.01M411.0 67.6h.01M407.6 50.6h.01M410.7 50.1h.01M412.2 57.1h.01M402.3 36.2h.01M404.2 49.8h.01M405.7 56.2h.01M405.5 46.2h.01M406.3 61.6h.01M412.3 52.9h.01M402.9 45.2h.01M412.2 62.0h.01M405.2 34.6h.01M401.5 45.9h.01M400.8 39.7h.01M399.4 39.4h.01M407.3 43.5h.01M405.7 44.5h.01M400.0 45.4h.01M396.2 40.9h.01M407.7 56.1h.01M408.8 58.0h.01M409.7 41.3h.01M411.3 53.9h.01M406.6 47.8h.01M408.1 46.9h.01M408.1 61.6h.01M406.8 51.4h.01M407.5 39.4h.01M402.8 34.5h.01M403.3 44.3h.01M397.4 51.3h.01M412.7 55.3h.01M398.7 39.7h.01M403.9 36.3h.01M405.6 33.2h.01M411.3 60.9h.01M405.2 43.7h.01M413.8 65.6h.01M413.8 67.7h.01M407.6 53.9h.01M407.6 47.6h.01M401.7 34.6h.01M412.1 51.5h.01M405.4 34.5h.01M405.8 33.2h.01M405.2 60.4h.01M398.4 44.7h.01M405.9 38.4h.01M412.6 64.2h.01M407.7 62.4h.01M406.1 34.0h.01M412.8 56.5h.01M405.6 34.5h.01M407.8 45.0h.01M411.8 51.2h.01M410.4 67.2h.01M411.7 61.4h.01M407.7 45.5h.01M405.0 46.0h.01M399.8 36.7h.01M405.7 33.2h.01M399.2 40.2h.01M394.7 46.3h.01M406.0 40.2h.01M400.3 33.8h.01M401.1 35.9h.01M408.9 66.1h.01M410.2 48.1h.01M412.7 67.1h.01M402.5 39.2h.01M409.3 55.2h.01M409.2 62.3h.01M410.0 57.1h.01M403.6 35.4h.01M408.9 49.7h.01M411.9 58.7h.01M397.2 40.5h.01M405.1 44.3h.01M411.7 58.2h.01M406.2 44.8h.01M411.3 50.0h.01M408.3 45.5h.01M406.6 51.3h.01M403.4 38.8h.01M412.1 64.0h.01M410.2 50.5h.01M408.0 47.7h.01M410.1 59.8h.01M407.7 44.5h.01M401.4 30.8h.01M405.4 32.4h.01M408.5 40.8h.01M406.4 44.6h.01M410.4 43.9h.01M412.3 59.7h.01M409.2 52.2h.01M410.5 64.2h.01M400.4 50.4h.01M411.4 51.8h.01M402.2 32.1h.01M398.8 38.0h.01M410.2 49.6h.01M407.6 41.6h.01M409.9 67.3h.01M407.8 36.2h.01M406.9 38.8h.01M402.4 56.6h.01M406.0 51.2h.01M409.9 41.8h.01M405.1 33.8h.01M409.9 53.4h.01M407.0 35.3h.01M411.1 64.3h.01M403.8 51.1h.01M404.1 44.4h.01M401.9 38.1h.01M403.9 64.9h.01M396.7 40.4h.01M409.8 57.9h.01M402.1 46.0h.01M413.9 69.1h.01M412.4 59.5h.01M408.5 43.8h.01M409.9 64.2h.01M413.1 62.4h.01M410.4 46.5h.01M403.0 43.2h.01M406.4 41.5h.01M407.3 61.7h.01M396.9 50.7h.01M411.5 50.2h.01M412.9 65.1h.01M405.7 52.7h.01M408.3 57.1h.01M410.0 43.7h.01M409.7 42.4h.01M409.3 48.5h.01M407.5 59.5h.01M399.0 39.6h.01M409.0 43.5h.01M410.3 43.8h.01M411.7 50.9h.01M407.5 65.4h.01M409.9 62.9h.01M408.2 54.0h.01M401.0 57.5h.01M396.4 40.9h.01M406.6 43.4h.01M410.4 51.1h.01M404.0 46.7h.01M403.4 35.3h.01M404.2 47.3h.01M408.2 37.8h.01M408.6 58.2h.01M411.5 58.3h.01M399.9 31.8h.01M410.3 47.9h.01M412.5 61.2h.01M397.8 40.0h.01M405.7 44.9h.01M410.8 60.8h.01M404.6 32.9h.01M406.8 38.1h.01M407.5 58.0h.01M410.4 48.0h.01M407.0 38.2h.01M404.9 43.9h.01M408.2 40.0h.01M400.7 42.8h.01M412.0 66.1h.01M410.1 50.9h.01M398.7 40.2h.01M407.9 38.3h.01M408.0 42.0h.01M401.0 35.7h.01M402.8 58.6h.01M399.3 30.5h.01M401.1 50.6h.01M403.3 64.1h.01M407.3 62.8h.01M403.5 36.9h.01M402.7 34.7h.01M405.1 32.9h.01M413.6 63.6h.01M403.1 58.7h.01M402.9 42.5h.01M407.3 44.2h.01M407.1 50.2h.01M407.1 35.8h.01M401.9 56.7h.01M407.1 50.2h.01M412.2 52.4h.01M407.9 40.1h.01M408.8 44.2h.01M401.9 46.6h.01M405.8 37.9h.01M397.1 57.3h.01M406.5 57.3h.01M410.0 58.6h.01M405.2 32.1h.01M410.3 61.0h.01M405.3 35.5h.01M405.6 34.3h.01M404.6 58.4h.01M408.6 38.7h.01M410.1 42.2h.01M406.2 33.6h.01M407.4 38.8h.01M409.6 47.2h.01M402.4 43.3h.01M412.1 65.5h.01M401.4 34.4h.01M409.2 61.9h.01M395.6 42.9h.01M412.3 58.8h.01M411.7 52.5h.01M407.4 38.2h.01M410.6 60.9h.01M411.9 68.9h.01M409.3 64.1h.01M405.2 35.7h.01M410.3 46.7h.01M404.2 48.4h.01M408.4 59.4h.01M406.1 65.5h.01M408.3 57.9h.01M411.0 66.3h.01M410.1 56.6h.01M406.4 42.0h.01M407.9 45.4h.01M411.5 52.5h.01M411.2 58.6h.01M404.9 45.8h.01M406.8 48.8h.01M404.7 40.9h.01M412.5 67.1h.01M408.3 54.7h.01M400.8 58.9h.01M404.5 56.7h.01M406.0 43.3h.01M405.2 35.7h.01M401.5 57.1h.01M410.2 60.8h.01M413.4 66.4h.01M408.7 55.5h.01M407.1 41.0h.01M396.5 56.7h.01M406.8 44.8h.01M409.6 54.8h.01M413.6 66.2h.01M405.8 62.3h.01M401.9 57.4h.01M410.8 68.5h.01M409.1 40.7h.01M414.2 69.0h.01M407.1 36.4h.01M398.8 35.6h.01M406.1 37.2h.01M407.0 46.7h.01M408.2 46.9h.01M411.2 55.4h.01M404.1 43.2h.01M404.0 49.2h.01M410.5 48.6h.01M401.4 56.4h.01M411.7 69.1h.01M405.8 38.8h.01M407.3 37.4h.01M409.8 50.3h.01M408.7 38.4h.01M409.2 58.8h.01M408.0 40.8h.01M408.9 49.2h.01M411.3 64.9h.01M401.6 44.9h.01M407.7 54.5h.01M406.2 41.6h.01M411.3 65.7h.01M405.7 44.9h.01M410.1 61.8h.01M411.1 51.5h.01M403.1 38.4h.01M403.3 37.8h.01M406.9 57.2h.01M406.9 35.4h.01M405.0 35.3h.01M406.3 35.4h.01M409.8 52.4h.01M409.2 44.3h.01M413.0 68.1h.01M406.5 34.8h.01M412.8 61.8h.01M409.0 64.4h.01M401.6 35.9h.01M405.5 37.5h.01M405.4 51.1h.01M409.8 42.1h.01M401.2 48.9h.01M406.9 57.1h.01M405.0 58.8h.01M411.0 64.1h.01M409.9 58.4h.01M409.8 69.0h.01M401.7 42.3h.01M410.8 48.7h.01M405.1 63.9h.01M403.3 35.2h.01M408.4 58.6h.01M410.0 42.1h.01M408.6 44.5h.01M405.2 46.4h.01M396.1 48.6h.01M396.6 38.8h.01M402.2 40.0h.01M406.0 63.9h.01M403.8 37.4h.01M410.2 49.5h.01M408.5 44.7h.01M410.9 64.5h.01M409.9 48.7h.01M411.1 56.3h.01M400.5 34.1h.01M398.2 40.0h.01M405.6 49.8h.01M405.0 61.9h.01M412.7 61.9h.01M401.2 34.1h.01M407.7 65.0h.01M413.3 69.1h.01M410.0 54.8h.01M395.0 47.8h.01M405.7 39.4h.01M400.5 30.6h.01M405.7 52.8h.01M403.7 45.9h.01M410.7 65.1h.01M405.5 44.9h.01M409.4 54.2h.01M408.2 67.1h.01M409.7 67.3h.01M413.1 61.8h.01M410.9 68.6h.01M410.9 66.1h.01M405.3 40.9h.01M408.0 56.4h.01M409.7 60.1h.01M402.0 47.7h.01M408.9 38.5h.01M412.7 66.8h.01M412.8 55.9h.01M412.4 66.3h.01M412.7 55.1h.01M410.6 44.7h.01M403.3 46.2h.01M410.2 58.7h.01M412.1 67.1h.01M401.1 34.3h.01M404.8 46.8h.01M409.8 47.4h.01M404.6 31.8h.01M412.7 62.2h.01M406.5 41.0h.01M410.5 47.8h.01M408.5 41.9h.01M410.5 68.6h.01M398.0 48.6h.01M407.4 38.2h.01M406.0 58.6h.01M400.0 43.5h.01M411.9 66.8h.01M399.2 38.4h.01M401.1 34.8h.01M410.0 52.1h.01M406.2 34.0h.01M408.1 39.4h.01M397.4 57.9h.01M399.2 34.7h.01M408.6 42.5h.01M402.0 59.5h.01M399.8 51.4h.01M413.2 67.5h.01M399.1 31.7h.01M407.4 52.9h.01M411.0 58.7h.01M402.2 40.5h.01M400.3 42.3h.01M408.7 59.8h.01M408.7 38.2h.01M405.9 60.4h.01M410.3 68.3h.01M401.1 39.5h.01M411.7 66.8h.01M403.2 42.8h.01M412.1 62.8h.01M408.4 48.1h.01M406.1 34.4h.01M405.2 36.8h.01M409.3 45.9h.01M404.5 38.2h.01M402.5 32.8h.01M405.0 42.9h.01M412.0 55.7h.01M405.7 46.9h.01M407.7 41.1h.01M407.2 50.1h.01M401.9 35.1h.01M402.0 51.1h.01M407.9 44.6h.01M409.3 51.8h.01M410.4 50.8h.01M407.9 66.5h.01M404.6 60.2h.01M411.9 56.9h.01M412.2 58.0h.01M405.4 42.7h.01M411.0 51.9h.01M413.8 67.5h.01M410.9 67.6h.01M403.2 41.3h.01M410.5 49.2h.01M408.3 55.6h.01M408.0 43.7h.01M413.7 66.3h.01M405.8 46.9h.01M411.5 64.6h.01M406.0 44.4h.01M409.1 56.3h.01M406.2 46.7h.01M408.9 39.8h.01M407.1 64.0h.01M412.9 56.3h.01M403.9 31.5h.01M406.2 61.7h.01M409.7 45.4h.01M412.7 66.0h.01M407.5 54.8h.01M404.6 30.9h.01M412.3 62.0h.01M410.8 50.3h.01M409.5 43.3h.01M408.9 52.5h.01M405.3 33.1h.01M400.0 34.9h.01M406.4 39.0h.01M401.7 40.6h.01M409.9 44.4h.01M401.4 38.1h.01M408.9 49.4h.01M403.9 52.0h.01M404.6 36.7h.01M405.3 53.6h.01M413.5 68.1h.01M414.1 69.2h.01M404.6 42.2h.01M403.6 32.9h.01M404.5 45.3h.01M404.6 52.9h.01M409.0 44.7h.01M408.4 61.1h.01M403.4 40.2h.01M403.8 32.1h.01M411.7 52.5h.01M412.7 58.4h.01M400.9 58.1h.01M404.2 51.2h.01M410.8 57.1h.01M413.7 63.9h.01M410.0 59.9h.01M404.3 34.6h.01M410.1 51.5h.01M403.4 58.0h.01M410.6 48.4h.01M403.9 44.0h.01M407.7 43.3h.01M407.7 36.4h.01M403.7 30.2h.01M410.9 53.6h.01M412.8 63.9h.01M406.4 64.4h.01M405.5 37.2h.01M396.6 48.2h.01M408.4 39.0h.01M403.6 55.8h.01M411.6 60.5h.01M407.4 50.5h.01M412.4 55.7h.01M403.9 40.2h.01M412.3 68.0h.01M404.2 34.2h.01M409.4 44.3h.01M411.1 63.6h.01M407.0 55.7h.01M397.5 54.9h.01M405.2 59.0h.01M406.6 56.3h.01M409.2 47.1h.01M407.1 46.9h.01M407.2 47.3h.01M401.3 55.1h.01M409.6 63.9h.01M411.7 54.2h.01M402.6 46.7h.01M404.9 40.8h.01M407.0 51.8h.01M398.3 54.9h.01M403.8 34.5h.01M405.6 43.7h.01M406.1 51.7h.01M396.9 52.2h.01M407.3 50.5h.01M410.9 48.7h.01M413.7 67.2h.01M410.2 47.9h.01M410.1 55.7h.01M402.1 57.1h.01M404.8 43.9h.01M407.3 49.4h.01M404.3 31.7h.01M404.1 36.9h.01M404.3 55.4h.01M411.7 52.0h.01M409.4 41.0h.01M407.4 36.7h.01M413.6 63.1h.01M412.6 65.1h.01M404.5 36.7h.01M411.2 50.0h.01M408.5 52.9h.01M399.7 59.5h.01M411.9 58.9h.01M410.6 64.7h.01M403.2 33.1h.01M404.8 56.7h.01M407.6 37.6h.01M400.1 50.7h.01M410.9 60.9h.01M407.9 43.4h.01M410.1 42.4h.01M409.7 56.4h.01M399.2 37.3h.01M411.2 66.1h.01M399.8 32.7h.01M404.0 30.7h.01M410.2 64.5h.01M412.6 59.6h.01M407.4 56.4h.01M409.7 50.2h.01M411.7 58.2h.01M409.8 56.7h.01M401.2 30.4h.01M409.2 64.4h.01M404.9 32.1h.01M396.5 53.2h.01M410.4 59.4h.01M405.0 33.3h.01M411.2 57.6h.01M408.5 56.8h.01M411.0 65.2h.01M403.7 31.4h.01M412.1 56.0h.01M405.4 59.5h.01M405.9 37.5h.01M406.8 65.7h.01M406.5 51.0h.01M402.4 55.8h.01M402.2 31.0h.01M407.6 45.9h.01M408.2 53.7h.01M405.3 33.6h.01M397.6 54.2h.01M413.3 67.2h.01M411.0 66.9h.01M408.3 47.6h.01M414.0 69.0h.01M413.5 67.5h.01M396.2 48.1h.01M410.4 61.2h.01M403.9 63.1h.01M408.8 52.6h.01M410.2 43.3h.01M412.8 66.6h.01M409.0 53.4h.01M404.5 41.6h.01M398.2 50.7h.01M407.7 65.9h.01M409.2 45.4h.01M405.7 48.1h.01M409.1 54.5h.01M410.7 47.5h.01M403.9 44.7h.01M407.9 54.6h.01M413.7 68.3h.01M406.9 35.3h.01M411.9 64.7h.01M408.0 59.9h.01M408.9 61.2h.01M412.7 67.4h.01M409.4 48.8h.01M410.3 49.4h.01M413.1 60.5h.01M411.8 58.3h.01M409.6 45.0h.01M408.6 62.6h.01M402.1 63.3h.01M409.4 64.3h.01M403.9 38.7h.01M411.3 55.2h.01M406.8 37.3h.01M404.8 42.8h.01M409.1 44.8h.01M411.1 51.7h.01M412.2 53.4h.01M405.6 58.4h.01M407.9 36.4h.01M412.5 59.6h.01M407.6 38.8h.01M411.7 61.0h.01M399.8 49.2h.01M408.5 59.2h.01M398.7 53.5h.01M413.0 58.3h.01M406.5 65.8h.01M398.8 33.7h.01M401.4 40.1h.01M407.9 47.1h.01M408.8 46.8h.01M411.9 59.4h.01M406.9 43.7h.01M407.2 37.8h.01M407.8 36.6h.01M406.3 37.3h.01M410.9 54.3h.01M402.4 30.2h.01M411.1 47.9h.01M402.9 32.2h.01M410.8 59.8h.01M408.4 46.4h.01M409.0 67.2h.01M407.9 61.6h.01M413.8 64.7h.01M397.0 41.5h.01M395.2 43.0h.01M413.6 67.9h.01M412.1 56.3h.01M401.9 38.9h.01M402.4 53.6h.01M411.9 59.4h.01M404.0 32.3h.01M405.4 39.2h.01M405.2 44.4h.01M411.8 53.5h.01M405.3 65.8h.01M403.2 60.9h.01M402.7 31.3h.01M409.7 48.9h.01M401.6 55.1h.01M407.0 56.9h.01M407.7 37.0h.01M412.9 57.2h.01M405.3 54.3h.01M410.8 55.1h.01M412.4 56.4h.01M410.8 53.4h.01M402.0 34.6h.01M410.9 48.4h.01M399.5 38.4h.01M410.7 51.0h.01M403.8 48.5h.01M405.8 39.5h.01M408.9 56.9h.01M404.1 41.5h.01M413.5 68.7h.01M398.9 45.8h.01M410.8 51.9h.01M413.0 68.7h.01M405.1 34.1h.01M409.7 40.1h.01M404.4 39.7h.01M405.0 59.1h.01M408.7 44.5h.01M412.7 56.2h.01M408.8 54.1h.01M412.8 69.0h.01M403.5 38.4h.01M406.2 46.4h.01M410.2 59.9h.01M402.9 38.1h.01M408.0 44.6h.01M401.2 40.5h.01M409.4 47.0h.01M412.8 57.6h.01M402.3 47.2h.01M410.9 66.1h.01M404.6 51.6h.01M409.9 64.2h.01M405.1 40.7h.01M405.7 38.7h.01M404.8 31.8h.01M406.2 60.3h.01M411.7 66.5h.01M410.8 51.6h.01M405.3 35.4h.01M408.1 57.2h.01M405.0 55.7h.01M413.4 65.4h.01M409.6 66.0h.01M402.8 36.6h.01M412.2 61.5h.01M399.8 30.2h.01M410.6 56.6h.01M401.2 30.2h.01M405.0 31.3h.01M406.4 51.2h.01M412.9 68.1h.01M408.4 43.9h.01M404.2 43.8h.01M405.4 34.6h.01M410.1 56.7h.01M401.2 38.9h.01M406.4 65.1h.01M405.7 45.7h.01M404.0 62.1h.01M408.8 56.6h.01M410.5 51.8h.01M405.5 34.1h.01M408.3 37.7h.01M408.2 47.5h.01M401.7 33.4h.01M412.1 57.7h.01M404.6 40.4h.01M411.5 56.2h.01M410.2 67.2h.01M412.7 61.3h.01M398.8 37.7h.01M402.7 50.5h.01M407.2 39.5h.01M409.0 56.2h.01M409.7 58.9h.01M405.7 33.6h.01M410.4 55.2h.01M405.3 41.3h.01M407.8 49.8h.01M409.1 45.1h.01M402.4 45.5h.01M407.3 53.4h.01M408.5 48.0h.01M401.9 45.1h.01M402.6 52.1h.01M403.3 41.6h.01M405.3 48.1h.01M412.5 65.4h.01M397.1 57.7h.01M408.2 45.2h.01M407.6 36.2h.01M412.9 62.9h.01M410.8 55.2h.01M413.3 61.0h.01M403.9 47.4h.01M406.8 60.9h.01M404.5 30.8h.01M410.4 45.2h.01M405.6 34.4h.01M408.5 49.5h.01M402.8 30.3h.01M401.8 56.3h.01M405.7 53.7h.01M408.8 56.7h.01M402.0 50.0h.01M405.3 40.5h.01M408.5 46.9h.01M408.5 39.0h.01M410.2 52.8h.01M407.8 46.3h.01M411.2 58.2h.01M406.9 35.5h.01M412.2 57.0h.01M404.6 65.5h.01M407.0 49.2h.01M409.4 46.3h.01M399.2 54.3h.01M405.8 35.2h.01M411.5 60.4h.01M401.4 31.6h.01M412.4 63.6h.01M406.7 51.7h.01M400.3 56.3h.01M412.6 59.2h.01M409.0 45.0h.01M412.1 56.1h.01M409.8 42.1h.01M405.9 55.0h.01M412.5 68.1h.01M398.3 49.5h.01M407.3 45.8h.01M404.6 36.4h.01M412.2 62.7h.01M405.8 37.8h.01M398.1 38.1h.01M411.5 63.9h.01M404.6 43.0h.01M409.8 69.1h.01M411.6 69.1h.01M399.1 39.8h.01M405.5 49.3h.01M406.8 50.2h.01M406.0 40.7h.01M410.9 64.8h.01M403.1 31.5h.01M404.1 32.2h.01M411.4 49.4h.01M404.7 48.4h.01M402.7 32.9h.01M402.9 30.1h.01M401.6 32.1h.01M410.0 56.0h.01M404.6 38.2h.01M408.3 66.4h.01M407.3 39.5h.01M402.2 36.7h.01M406.3 42.1h.01M402.4 42.7h.01M406.3 37.9h.01M409.8 47.6h.01M401.1 41.5h.01M410.3 65.2h.01M406.3 64.2h.01M411.9 68.7h.01M410.2 57.9h.01M411.5 66.0h.01M398.9 34.0h.01M405.8 35.8h.01M403.9 36.8h.01M412.2 54.8h.01M409.8 67.5h.01M407.5 38.3h.01M401.2 43.4h.01M413.8 66.5h.01M402.6 36.0h.01M406.1 64.6h.01M407.8 47.3h.01M396.3 48.9h.01M403.1 48.1h.01M411.0 56.0h.01M410.5 59.7h.01M404.8 61.3h.01M403.8 30.7h.01M411.8 65.2h.01M407.8 36.3h.01M396.7 42.8h.01M400.0 38.2h.01M413.8 65.9h.01M394.8 50.2h.01M404.8 37.7h.01M403.5 43.6h.01M404.3 43.6h.01M408.8 54.8h.01M405.1 39.1h.01M408.5 45.6h.01M408.1 48.4h.01M408.2 46.5h.01M412.0 66.4h.01M412.5 60.5h.01M407.9 42.2h.01M406.4 34.1h.01M410.6 56.7h.01M411.0 68.8h.01M412.1 60.1h.01M399.3 36.3h.01M404.8 50.6h.01M404.5 33.2h.01M407.4 36.0h.01M412.7 67.8h.01M410.0 42.9h.01M406.8 54.4h.01M400.9 30.6h.01M402.8 31.2h.01M403.6 30.6h.01M405.7 49.1h.01M405.4 32.7h.01M406.2 37.5h.01M413.0 64.9h.01M408.2 44.7h.01M402.7 47.1h.01M404.0 50.0h.01M408.0 38.2h.01M400.0 33.8h.01M401.7 59.5h.01M400.3 36.9h.01M408.3 48.2h.01M401.5 58.8h.01M407.1 37.6h.01M411.1 68.2h.01M411.0 63.1h.01M412.5 65.4h.01M408.8 63.7h.01M412.6 60.6h.01M411.6 65.5h.01M405.0 42.7h.01M405.6 64.1h.01M412.2 68.7h.01M411.0 67.3h.01M403.9 32.5h.01M397.2 45.6h.01M408.9 57.1h.01M413.1 64.3h.01M408.4 46.9h.01M399.6 32.2h.01M411.9 59.4h.01M409.5 57.3h.01M404.9 50.9h.01M408.4 53.3h.01M413.2 67.9h.01M404.0 36.4h.01M405.6 40.0h.01M405.4 32.7h.01M404.4 34.0h.01M406.6 37.4h.01M408.7 65.6h.01M402.0 42.7h.01M406.7 35.7h.01M404.9 34.7h.01M407.7 52.9h.01M403.0 35.6h.01M409.5 53.2h.01M407.5 61.7h.01M412.1 53.2h.01M405.0 37.5h.01M403.7 32.2h.01M410.9 47.7h.01M407.4 41.8h.01M403.6 64.0h.01M401.5 42.1h.01M412.7 61.5h.01M407.4 49.8h.01M405.9 45.1h.01M411.1 68.1h.01M403.8 63.3h.01M410.9 56.3h.01M412.7 60.7h.01M409.7 62.6h.01M405.7 54.2h.01M412.6 54.7h.01M406.8 35.8h.01M408.0 43.2h.01M405.4 32.0h.01M406.8 40.5h.01M411.1 48.6h.01M398.4 35.6h.01M396.3 42.6h.01M406.7 38.4h.01M408.2 58.0h.01M405.3 34.7h.01M403.4 55.5h.01M408.7 44.8h.01M409.1 64.1h.01M407.7 56.3h.01M408.0 55.5h.01M403.8 36.0h.01M404.5 42.9h.01M402.1 41.6h.01M406.7 47.5h.01M409.9 66.5h.01M403.5 31.1h.01M408.4 62.2h.01M409.3 57.4h.01M400.6 48.7h.01M408.3 41.3h.01M407.4 40.1h.01M408.0 47.1h.01M406.0 35.2h.01M404.3 60.4h.01M405.4 46.2h.01M398.7 55.5h.01M402.1 31.8h.01M407.5 58.2h.01M411.8 60.9h.01M411.1 48.4h.01M413.2 65.0h.01M409.3 65.0h.01M411.1 69.1h.01M410.4 62.4h.01M399.7 31.5h.01M402.0 50.0h.01M410.3 56.3h.01M409.2 53.4h.01M396.9 45.1h.01M408.1 57.3h.01M410.7 51.5h.01M400.5 42.3h.01M410.4 60.0h.01M404.2 31.0h.01M403.5 56.3h.01M410.1 57.6h.01M402.1 58.0h.01M413.5 64.6h.01M404.0 33.7h.01M408.3 46.3h.01M406.5 34.0h.01M405.5 57.0h.01M408.7 40.7h.01M395.8 45.8h.01M409.2 41.4h.01M409.7 67.2h.01M405.2 63.5h.01M407.9 45.1h.01M407.8 39.7h.01M412.2 67.7h.01M405.4 36.2h.01M413.2 64.0h.01M410.4 61.1h.01M404.7 64.9h.01M400.6 46.5h.01M412.0 59.8h.01M401.8 60.1h.01M402.6 33.3h.01M400.2 39.2h.01M403.6 33.5h.01M409.1 39.3h.01M412.7 57.2h.01M403.1 36.0h.01M406.0 41.3h.01M408.3 46.5h.01M409.4 45.8h.01M409.7 48.1h.01M399.8 42.6h.01M412.1 62.5h.01M396.6 41.4h.01M406.1 48.3h.01M406.9 34.6h.01M410.5 48.8h.01M405.8 38.8h.01M403.2 44.3h.01M413.0 58.8h.01M410.3 59.2h.01M407.0 57.1h.01M410.9 51.5h.01M406.0 40.2h.01M409.8 56.5h.01M408.1 57.2h.01M400.5 43.6h.01M408.7 41.5h.01M408.5 41.1h.01M403.1 35.2h.01M413.0 62.0h.01M410.1 64.3h.01M409.3 47.0h.01M400.5 34.4h.01M411.5 59.8h.01M405.8 37.2h.01M406.0 58.1h.01M409.7 41.6h.01M405.1 63.8h.01M405.0 31.5h.01M401.1 53.5h.01M412.4 60.5h.01M407.8 63.6h.01M410.1 54.7h.01M412.4 56.3h.01M397.6 52.5h.01M408.7 42.5h.01M408.9 53.1h.01M407.0 61.8h.01M404.8 40.6h.01M408.7 66.7h.01M397.3 38.8h.01M401.9 34.7h.01M399.7 52.1h.01M409.1 62.7h.01M413.2 64.5h.01M401.6 32.3h.01M410.0 45.3h.01M408.0 62.8h.01M410.0 53.0h.01M409.7 49.6h.01M404.8 57.1h.01M404.1 30.2h.01M411.6 52.9h.01M409.6 56.3h.01M403.0 45.9h.01M410.1 59.7h.01M406.5 45.5h.01M410.5 68.7h.01M400.4 32.7h.01M411.9 61.7h.01M410.1 42.8h.01M412.2 59.0h.01M410.0 46.6h.01M403.1 39.9h.01M410.3 48.8h.01M400.3 32.0h.01M412.2 63.6h.01M407.9 36.6h.01M411.5 62.0h.01M409.4 50.9h.01M399.6 53.1h.01M409.7 56.4h.01M410.0 68.4h.01M410.6 52.2h.01M409.3 39.8h.01M406.7 50.4h.01M403.9 34.5h.01M412.2 58.3h.01M414.1 67.2h.01M402.7 30.8h.01M406.5 47.6h.01M411.0 65.1h.01M412.2 53.0h.01M407.8 43.8h.01M407.6 38.9h.01M407.1 63.7h.01M403.0 51.6h.01M405.1 54.9h.01M410.1 59.0h.01M400.0 46.1h.01M397.0 56.7h.01M411.8 64.8h.01M408.9 39.1h.01M405.8 45.4h.01M405.6 48.6h.01M399.9 46.9h.01M404.5 45.4h.01M412.8 61.1h.01M407.8 48.2h.01M413.5 65.5h.01M403.1 42.4h.01M409.3 41.9h.01M412.6 55.2h.01M406.8 36.0h.01M410.4 62.6h.01M410.6 56.1h.01M395.7 44.2h.01M403.0 39.2h.01M412.9 58.5h.01M410.3 53.2h.01M410.6 68.7h.01M403.0 63.1h.01M402.8 53.8h.01M400.6 32.3h.01M412.6 68.4h.01M409.0 47.1h.01M410.2 61.2h.01M407.7 38.3h.01M409.0 66.8h.01M403.0 30.6h.01M409.4 65.7h.01M412.7 63.8h.01M403.3 51.3h.01M410.0 58.4h.01M408.9 57.9h.01M407.4 53.6h.01M406.7 44.2h.01M406.7 50.1h.01M401.2 33.9h.01M410.9 50.3h.01M411.8 68.6h.01M411.7 57.9h.01M408.3 39.3h.01M403.9 33.8h.01M412.0 51.6h.01M407.0 38.6h.01M409.9 46.9h.01M407.4 61.1h.01M412.4 58.0h.01M411.1 51.6h.01M413.6 67.1h.01M395.8 55.6h.01M398.8 50.8h.01M400.4 42.8h.01M409.6 51.8h.01M402.2 52.3h.01M402.0 32.1h.01M409.4 54.8h.01M409.6 43.0h.01M405.4 65.1h.01M403.9 43.6h.01M409.7 57.7h.01M409.9 41.8h.01M409.4 43.0h.01M405.2 53.1h.01M406.2 43.4h.01M413.0 59.9h.01M413.4 64.3h.01M409.1 56.7h.01M403.1 48.9h.01M403.2 36.0h.01M411.5 57.1h.01M411.6 49.4h.01M411.5 60.0h.01M400.5 58.4h.01M405.7 44.1h.01M404.0 35.4h.01M404.5 42.6h.01M410.7 47.1h.01M397.5 49.4h.01M411.7 63.8h.01M405.0 42.7h.01M407.3 62.3h.01M410.0 61.1h.01M409.5 53.4h.01M407.2 66.3h.01M406.9 49.5h.01M408.2 46.9h.01M406.8 62.4h.01M410.3 54.2h.01M404.3 35.1h.01M411.9 51.5h.01M403.9 39.7h.01M404.2 33.8h.01M402.0 44.9h.01M414.2 68.5h.01M406.3 51.9h.01M410.1 68.3h.01M407.6 47.5h.01M408.9 55.1h.01M398.9 39.0h.01M408.7 43.7h.01M410.3 62.2h.01M410.2 51.3h.01M405.1 52.6h.01M408.6 43.0h.01M410.5 45.9h.01M405.8 64.7h.01M399.7 31.0h.01M404.8 47.9h.01M402.5 49.3h.01M408.6 65.3h.01M405.0 45.6h.01M399.1 33.7h.01M409.7 49.8h.01M413.4 64.7h.01M408.0 48.0h.01M405.9 38.9h.01M400.8 33.0h.01M412.8 61.3h.01M404.7 33.4h.01M401.2 39.4h.01M412.9 65.1h.01M411.0 67.7h.01M412.0 65.5h.01M407.8 46.5h.01M407.1 61.5h.01M407.7 47.8h.01M410.5 62.1h.01M405.0 47.6h.01M409.6 67.9h.01M409.9 52.0h.01M406.1 39.6h.01M408.9 56.3h.01M406.5 47.8h.01M403.6 51.4h.01M408.6 55.7h.01M410.3 65.6h.01M407.5 39.2h.01M412.2 54.9h.01M401.8 44.3h.01M410.3 59.3h.01M411.6 53.1h.01M409.6 62.7h.01M409.8 42.0h.01M406.3 56.0h.01M404.8 31.6h.01M412.9 67.8h.01M403.0 31.4h.01M410.7 58.0h.01M411.1 54.8h.01M401.9 41.8h.01M412.6 54.6h.01M408.0 39.3h.01M405.5 40.8h.01M410.8 60.1h.01M409.9 66.8h.01M409.9 42.2h.01M402.0 43.6h.01M408.2 42.8h.01M413.2 60.1h.01M410.2 43.8h.01M412.7 57.4h.01M412.4 66.4h.01M408.3 40.4h.01M402.0 51.6h.01M410.6 68.9h.01M401.8 36.3h.01M406.6 45.3h.01M408.4 51.1h.01M412.3 55.2h.01M411.6 65.9h.01M406.2 62.3h.01M403.5 51.8h.01M407.5 60.3h.01M407.8 42.9h.01M408.0 42.6h.01M404.0 35.6h.01M405.1 47.1h.01M404.5 35.9h.01M405.9 43.8h.01M403.9 37.2h.01M411.9 51.9h.01M407.8 36.9h.01M406.1 64.6h.01M412.1 63.9h.01M406.4 60.2h.01M410.4 45.4h.01M403.0 33.2h.01M407.9 60.7h.01M402.0 48.5h.01M405.3 36.6h.01M413.0 59.3h.01M411.4 56.6h.01M401.8 62.4h.01M400.4 37.0h.01M407.4 52.0h.01M412.2 65.2h.01M404.6 53.1h.01M406.6 34.8h.01M403.0 62.4h.01M410.2 43.9h.01M404.8 37.2h.01M405.4 36.5h.01M413.7 66.8h.01M403.7 35.0h.01M408.4 60.9h.01M407.0 35.3h.01M409.1 68.0h.01M403.9 39.9h.01M406.0 38.3h.01M404.4 53.5h.01M412.6 60.7h.01M396.2 46.9h.01M412.7 57.5h.01M402.5 38.1h.01M399.4 51.7h.01M408.9 57.9h.01M403.3 54.0h.01M400.8 34.8h.01M409.1 62.8h.01M410.1 57.4h.01M406.1 46.1h.01M402.8 34.5h.01M406.7 51.6h.01M408.5 49.3h.01M403.3 53.2h.01M399.8 46.6h.01M406.4 35.4h.01M402.1 30.9h.01M411.4 52.9h.01M404.5 32.8h.01M409.4 44.9h.01M407.0 51.6h.01M411.4 56.8h.01M405.1 54.4h.01M412.2 57.8h.01M405.5 54.6h.01M410.8 61.2h.01M401.4 33.6h.01M401.7 47.0h.01M409.1 44.1h.01M412.9 65.5h.01M407.7 56.8h.01M400.2 37.3h.01M408.6 47.4h.01M412.9 64.3h.01M412.1 66.4h.01M410.5 56.9h.01M408.6 39.3h.01M411.6 49.4h.01M407.2 38.9h.01M399.2 37.6h.01M410.3 68.5h.01M400.8 34.4h.01M412.3 54.1h.01M406.6 59.2h.01M406.1 60.7h.01M409.7 51.3h.01M405.6 44.9h.01M402.0 57.4h.01M397.5 55.7h.01M396.7 42.1h.01M403.2 51.9h.01M409.7 62.8h.01M403.0 58.9h.01M405.2 41.2h.01M401.1 45.0h.01M403.7 37.8h.01M408.5 60.8h.01M408.5 50.4h.01M413.6 63.5h.01M400.6 35.9h.01M409.6 63.0h.01M405.8 53.5h.01M405.2 41.7h.01M412.0 54.0h.01M402.7 38.3h.01M407.4 36.6h.01M409.2 53.9h.01M410.8 68.6h.01M405.7 34.2h.01M407.5 56.7h.01M400.5 40.9h.01M411.4 64.0h.01M411.4 53.9h.01M408.5 42.7h.01M408.4 59.5h.01M407.7 49.9h.01M410.0 60.9h.01M401.3 30.1h.01M409.7 42.9h.01M412.7 55.1h.01M405.7 51.6h.01M410.6 68.9h.01M410.2 52.4h.01M409.9 41.5h.01M412.1 63.7h.01M412.8 63.1h.01M409.9 56.5h.01M409.0 46.4h.01M401.8 42.6h.01M407.1 48.9h.01M410.9 64.6h.01M397.2 51.9h.01M408.2 56.3h.01M411.9 65.7h.01M406.4 33.9h.01M407.1 45.2h.01M404.1 64.2h.01M409.7 47.2h.01M406.6 48.8h.01M401.2 30.1h.01M403.5 38.1h.01M413.9 67.9h.01M411.5 50.0h.01M407.8 53.1h.01M399.3 59.9h.01M400.5 61.1h.01M409.8 54.4h.01M412.5 68.6h.01M412.6 58.3h.01M410.7 61.9h.01M410.4 57.2h.01M404.7 38.0h.01M404.6 38.2h.01M403.4 32.8h.01M408.0 59.5h.01M409.3 42.4h.01M404.8 51.2h.01M412.5 61.5h.01M397.8 50.7h.01M405.3 57.6h.01M407.0 36.9h.01M399.0 31.4h.01M410.2 67.8h.01M408.7 60.1h.01M413.5 64.8h.01M412.1 66.9h.01M413.1 66.0h.01M409.0 67.8h.01M410.1 56.8h.01M412.3 66.0h.01M405.6 36.1h.01M411.8 62.9h.01M407.7 41.8h.01M409.0 50.1h.01M402.8 50.4h.01M404.8 54.1h.01M407.3 43.7h.01M410.2 64.4h.01M409.9 50.5h.01M400.1 31.5h.01" stroke="#1d3570" stroke-width="0.85" stroke-linecap="square"/>
<path d="M434.3 27.9h.01M430.3 40.2h.01M429.9 39.4h.01M448.2 53.4h.01M428.1 58.2h.01M430.3 30.8h.01M422.7 45.9h.01M424.5 46.4h.01M424.7 43.8h.01M429.2 41.5h.01M421.2 63.8h.01M440.4 55.2h.01M428.2 61.6h.01M426.9 32.7h.01M438.8 52.2h.01M423.9 43.9h.01M421.1 63.2h.01M444.6 46.1h.01M427.3 41.8h.01M425.0 64.2h.01M424.2 48.4h.01M427.9 37.1h.01M424.5 60.4h.01M430.8 31.3h.01M423.5 53.3h.01M436.9 50.6h.01M428.6 56.9h.01M428.1 66.0h.01M425.8 36.8h.01M436.6 33.6h.01M431.6 29.1h.01M429.3 60.0h.01M433.1 27.9h.01M425.3 67.6h.01M422.1 51.6h.01M423.8 67.8h.01M440.3 51.4h.01M433.5 22.8h.01M423.0 66.6h.01M441.7 52.2h.01M426.4 40.9h.01M431.2 39.7h.01M428.9 57.3h.01M424.2 45.7h.01M426.9 41.5h.01M420.2 60.9h.01M423.0 56.2h.01M424.6 37.8h.01M420.7 60.2h.01M420.8 56.7h.01M420.7 60.3h.01M422.7 53.1h.01M426.1 34.6h.01M424.6 47.1h.01M442.5 51.5h.01M420.2 63.1h.01M422.0 53.2h.01M430.9 28.7h.01M426.0 61.0h.01M424.0 42.9h.01M426.4 56.0h.01M426.4 37.7h.01M447.7 52.6h.01M429.6 35.6h.01M433.7 48.2h.01M425.4 43.1h.01M431.9 26.7h.01M427.2 41.3h.01M431.6 28.1h.01M435.8 29.1h.01M436.8 31.0h.01M429.1 48.8h.01M425.9 41.4h.01M430.4 29.0h.01M430.0 29.6h.01M428.3 40.8h.01M428.0 39.8h.01M427.8 47.3h.01M433.4 49.1h.01M442.1 61.3h.01M444.7 50.4h.01M424.8 37.8h.01M431.2 38.7h.01M421.6 68.3h.01M425.4 36.1h.01M421.7 54.4h.01M430.7 40.3h.01M426.5 42.7h.01M445.6 58.2h.01M420.1 64.3h.01M440.3 59.7h.01M422.6 49.8h.01M427.9 40.6h.01M428.7 38.4h.01M440.5 49.1h.01M423.5 66.3h.01M422.6 55.8h.01M426.5 63.6h.01M443.3 51.1h.01M428.9 42.0h.01M429.2 54.9h.01M445.6 55.6h.01M426.2 43.9h.01M423.0 46.5h.01M421.8 49.3h.01M430.9 44.1h.01M420.9 60.2h.01M434.7 26.8h.01M424.6 55.5h.01M430.9 49.7h.01M429.2 46.8h.01M428.7 57.1h.01M426.1 44.0h.01M422.4 65.3h.01M429.0 46.1h.01M427.8 38.3h.01M424.7 62.0h.01M427.5 31.6h.01M427.4 59.6h.01M449.1 48.3h.01M428.3 65.2h.01M426.6 47.6h.01M436.5 51.3h.01M436.3 26.1h.01M421.5 53.5h.01M426.3 32.3h.01M428.7 51.9h.01M431.6 52.7h.01M424.7 38.0h.01M422.3 53.9h.01M428.8 28.5h.01M426.0 36.1h.01M424.5 47.5h.01M430.6 45.7h.01M424.0 47.6h.01M432.3 37.9h.01M422.1 58.6h.01M421.0 64.1h.01M426.4 45.5h.01M425.1 52.9h.01M421.3 58.6h.01M430.1 60.6h.01M425.0 51.4h.01M433.0 63.4h.01M447.8 54.0h.01M425.0 39.1h.01M432.4 52.0h.01M424.8 47.3h.01M430.1 38.7h.01M436.3 27.8h.01M436.8 41.3h.01M428.2 37.0h.01M434.0 41.7h.01M429.1 54.1h.01M440.3 51.8h.01M421.9 63.8h.01M423.3 47.5h.01M428.5 62.7h.01M425.4 63.3h.01M421.0 64.8h.01M425.9 53.5h.01M428.5 40.0h.01M430.0 53.1h.01M430.4 32.5h.01M433.3 32.7h.01M441.9 48.4h.01M430.0 31.1h.01M421.6 49.4h.01M431.1 28.9h.01M426.8 41.4h.01M439.0 55.1h.01M426.6 39.2h.01M443.9 53.1h.01M427.7 40.7h.01M430.9 31.0h.01M447.4 46.7h.01M425.8 57.0h.01M429.4 45.2h.01M424.9 38.6h.01M427.9 32.2h.01M428.3 61.0h.01M444.8 47.6h.01M426.7 48.3h.01M444.0 59.0h.01M431.2 31.9h.01M421.5 63.5h.01M423.1 42.4h.01M434.3 31.6h.01M422.9 53.9h.01M426.9 35.1h.01M420.7 65.1h.01M424.1 44.8h.01M432.1 50.4h.01M427.1 63.2h.01M436.7 60.5h.01M434.4 58.0h.01M432.3 61.8h.01M432.3 59.2h.01M427.1 30.9h.01M448.0 48.2h.01M431.4 35.2h.01M422.5 54.8h.01M427.3 53.2h.01M422.2 51.9h.01M435.7 39.6h.01M426.8 33.0h.01M425.7 53.8h.01M442.6 51.1h.01M429.7 37.8h.01M428.4 30.5h.01M421.0 58.0h.01M429.4 30.0h.01M423.3 42.2h.01M425.8 66.5h.01M427.3 33.8h.01M425.9 34.8h.01M431.2 50.3h.01M427.2 51.5h.01M437.6 44.3h.01M424.5 42.9h.01M427.3 32.6h.01M426.9 52.1h.01M423.7 49.6h.01M428.5 29.9h.01M427.5 38.1h.01M425.3 39.7h.01M431.3 37.1h.01M429.3 35.2h.01M430.9 66.3h.01M427.5 47.9h.01M426.6 59.2h.01M426.5 37.9h.01M424.9 42.0h.01M428.6 55.2h.01M421.7 63.6h.01M427.3 59.9h.01M444.4 59.5h.01M422.9 53.0h.01M428.1 42.6h.01M422.6 49.1h.01M423.9 49.4h.01M424.1 51.9h.01M435.4 23.8h.01M429.4 52.2h.01M427.0 64.4h.01M422.5 58.6h.01M431.6 44.3h.01M435.1 37.6h.01M435.5 44.0h.01M425.7 52.3h.01M422.5 57.2h.01M429.4 31.3h.01M440.9 49.0h.01M427.6 65.6h.01M432.5 35.3h.01M423.8 57.1h.01M420.9 62.4h.01M423.4 57.9h.01M423.3 58.0h.01M426.4 41.5h.01M438.3 55.9h.01M432.0 46.4h.01M426.9 33.8h.01M420.5 59.3h.01M436.2 26.0h.01M421.0 57.1h.01M434.0 42.8h.01M424.8 39.7h.01M435.4 44.9h.01M424.4 59.3h.01M440.3 54.4h.01M428.8 53.5h.01M439.2 55.6h.01M423.3 46.2h.01M428.2 37.2h.01M421.4 50.8h.01M441.6 49.1h.01M430.1 34.6h.01M433.5 27.9h.01M428.7 31.4h.01M439.6 53.7h.01M420.1 64.8h.01M431.3 62.0h.01M421.0 54.4h.01M433.0 45.0h.01M428.0 40.1h.01M429.7 27.4h.01M424.6 64.2h.01M431.5 26.5h.01M448.0 46.0h.01M423.6 43.7h.01M448.2 56.3h.01M429.5 30.4h.01M422.1 50.2h.01M428.7 37.4h.01M426.6 59.1h.01M426.7 37.6h.01M421.5 50.1h.01M430.0 31.6h.01M421.7 56.6h.01M436.0 54.6h.01M421.0 66.6h.01M436.2 44.2h.01M423.8 57.1h.01M425.4 57.7h.01M431.2 31.0h.01M434.3 33.6h.01M432.3 26.9h.01M426.4 38.6h.01M428.2 58.9h.01M430.6 34.4h.01M441.3 49.6h.01M431.0 38.9h.01M439.3 51.6h.01M420.6 67.3h.01M435.6 28.9h.01M421.4 65.5h.01M423.7 47.8h.01M426.3 61.8h.01M433.9 30.9h.01M421.1 64.0h.01M428.4 41.2h.01M435.9 48.2h.01M433.0 35.1h.01M433.3 22.9h.01M431.7 35.8h.01M433.1 58.3h.01M423.0 45.3h.01M425.6 43.1h.01M425.0 42.7h.01M422.2 68.2h.01M420.7 61.9h.01M426.6 32.2h.01M431.4 31.9h.01M426.9 35.3h.01M429.6 60.5h.01M438.6 48.1h.01M426.9 39.6h.01M422.2 59.9h.01M445.2 49.1h.01M422.8 59.7h.01M432.8 31.2h.01M427.4 30.4h.01M422.7 46.2h.01M432.2 54.0h.01M426.6 47.9h.01M423.6 58.7h.01M433.1 30.6h.01M427.9 32.4h.01M445.4 50.8h.01M425.2 67.7h.01M425.6 37.4h.01M448.9 45.4h.01M430.6 39.2h.01M423.0 49.6h.01M420.1 63.6h.01M429.6 65.7h.01M440.4 52.1h.01M434.2 55.9h.01M427.2 35.3h.01M429.3 33.6h.01M435.1 37.8h.01M441.8 55.4h.01M427.9 48.6h.01M428.0 47.0h.01M424.7 61.0h.01M436.1 31.9h.01M426.2 49.7h.01M433.5 36.5h.01M421.6 62.8h.01M423.2 50.6h.01M421.8 51.5h.01M426.4 45.1h.01M434.6 24.7h.01M424.7 45.3h.01M436.7 26.8h.01M420.2 67.7h.01M439.6 50.8h.01M420.2 65.6h.01M434.2 34.1h.01M425.4 62.3h.01M422.1 57.3h.01M434.5 44.3h.01M447.6 53.4h.01M424.1 65.5h.01M425.3 42.0h.01M422.1 49.8h.01M425.8 39.4h.01M434.8 58.7h.01M423.8 43.3h.01M425.9 37.1h.01M425.5 62.0h.01M433.7 33.3h.01M423.8 46.0h.01M429.7 30.4h.01M429.7 30.0h.01M429.3 47.9h.01M428.7 37.3h.01M434.6 25.1h.01M425.4 43.1h.01M432.5 48.5h.01M426.8 62.1h.01M420.5 66.3h.01M421.5 58.8h.01M434.4 28.8h.01M433.9 40.4h.01M430.5 41.6h.01M425.8 39.1h.01M426.3 65.2h.01M427.5 64.3h.01M428.6 34.9h.01M427.3 34.0h.01M423.3 62.4h.01M431.0 40.3h.01M427.1 37.6h.01M425.2 41.7h.01M425.4 48.5h.01M424.4 62.0h.01M429.3 30.4h.01M423.0 49.8h.01M434.2 37.0h.01M422.2 64.5h.01M424.4 52.6h.01M429.3 63.0h.01M429.1 50.5h.01M422.2 57.8h.01M430.4 26.8h.01M427.4 39.5h.01M428.9 40.6h.01M436.8 49.6h.01M433.4 33.0h.01M434.7 46.1h.01M429.5 54.5h.01M424.2 52.5h.01M432.2 42.5h.01M430.1 40.4h.01M427.6 33.9h.01M420.7 57.0h.01M440.4 52.2h.01M422.2 54.1h.01M428.0 48.0h.01M424.0 44.5h.01M423.2 52.7h.01M430.4 26.7h.01M437.2 62.6h.01M420.9 63.3h.01M422.0 64.7h.01M434.8 43.4h.01M423.2 53.8h.01M422.5 67.9h.01M426.6 36.2h.01M425.3 61.1h.01M424.8 50.3h.01M432.5 31.0h.01M430.7 32.1h.01M428.2 30.1h.01M424.1 42.4h.01M432.4 25.3h.01M428.4 33.6h.01M428.5 64.2h.01M420.5 66.5h.01M431.5 65.5h.01M436.6 29.1h.01M422.0 61.3h.01M427.4 63.0h.01M424.2 64.7h.01M427.0 57.7h.01M422.1 55.6h.01M423.5 62.8h.01M428.0 33.2h.01M426.1 58.0h.01M426.5 33.3h.01M432.2 26.1h.01M427.1 56.9h.01M435.7 26.5h.01M425.0 60.9h.01M432.1 30.6h.01M431.0 27.6h.01M432.5 34.4h.01M422.8 56.5h.01M429.4 38.7h.01M446.7 50.7h.01M424.9 54.9h.01M425.7 51.1h.01M445.4 46.4h.01M428.0 56.9h.01M435.9 35.1h.01M422.3 52.3h.01M427.5 35.3h.01M433.0 44.2h.01M435.5 32.9h.01M423.7 52.6h.01M426.1 41.0h.01M430.1 40.9h.01M431.6 29.4h.01M432.1 45.0h.01M437.4 50.7h.01M422.1 55.9h.01M421.4 49.3h.01M440.6 51.1h.01M425.5 50.8h.01M435.0 27.5h.01M435.9 64.1h.01M430.7 45.2h.01M429.9 43.2h.01M431.0 32.6h.01M424.5 53.0h.01M436.2 32.1h.01M426.2 51.1h.01M438.4 58.5h.01M423.4 49.9h.01M425.6 40.4h.01M429.8 37.2h.01M430.6 30.1h.01M433.9 31.8h.01M423.8 46.1h.01M425.2 44.0h.01M426.1 59.4h.01M433.1 34.6h.01M420.7 66.5h.01M433.3 40.0h.01M442.9 52.2h.01M430.3 50.0h.01M431.2 56.1h.01M434.6 50.2h.01M424.1 67.9h.01M422.8 51.2h.01M425.2 45.9h.01M426.7 32.3h.01M425.2 49.6h.01M425.8 38.1h.01M419.9 65.6h.01M420.7 64.6h.01M433.5 29.5h.01M428.2 38.6h.01M431.3 52.9h.01M426.1 47.4h.01M429.7 30.3h.01M430.9 63.3h.01M431.7 34.3h.01M423.1 63.9h.01M427.7 46.1h.01M436.4 48.5h.01M428.3 30.1h.01M427.7 36.8h.01M430.7 37.6h.01M430.5 47.0h.01M426.2 37.1h.01M423.3 43.2h.01M433.8 30.1h.01M440.0 55.3h.01M421.1 65.2h.01M435.8 54.5h.01M422.4 44.9h.01M430.1 28.2h.01M424.9 49.5h.01M435.6 32.7h.01M431.9 34.0h.01M424.0 44.8h.01M436.6 27.5h.01M430.5 34.6h.01M421.9 65.7h.01M424.1 51.3h.01M434.2 35.1h.01M423.6 60.7h.01M426.6 61.4h.01M429.4 30.8h.01M423.4 48.9h.01M437.2 54.7h.01M421.4 54.1h.01M431.5 33.9h.01M423.1 51.2h.01M422.2 56.8h.01M423.8 45.8h.01M430.5 59.7h.01M420.8 55.1h.01M428.7 33.9h.01M427.1 38.4h.01M424.9 50.7h.01M425.3 42.6h.01M430.0 32.5h.01M439.7 59.2h.01M432.8 25.9h.01M420.1 68.0h.01M435.2 28.0h.01M423.9 68.0h.01M429.1 34.7h.01M428.8 33.7h.01M422.9 45.6h.01M432.7 47.2h.01M420.4 61.1h.01M423.7 46.8h.01M422.3 59.7h.01M450.0 46.2h.01M428.3 37.1h.01M432.4 42.1h.01M423.3 61.6h.01M431.9 29.2h.01M432.0 25.2h.01M423.0 45.4h.01M421.3 64.5h.01M425.3 43.7h.01M433.4 32.5h.01M425.9 62.4h.01M426.6 38.1h.01M422.8 54.3h.01M426.9 35.4h.01M428.9 44.6h.01M423.0 50.5h.01M424.8 40.4h.01M432.0 29.1h.01M427.8 53.1h.01M442.6 54.8h.01M429.1 41.6h.01M430.3 58.5h.01M429.2 32.2h.01M421.6 60.5h.01M421.0 57.1h.01M426.4 43.8h.01M444.2 50.1h.01M424.0 43.6h.01M423.4 48.5h.01M432.1 43.0h.01M426.4 41.0h.01M436.4 57.3h.01M421.5 67.0h.01M432.1 65.0h.01M448.8 50.3h.01M428.6 55.7h.01M434.8 47.3h.01M432.6 46.6h.01M429.3 37.9h.01M421.1 66.5h.01M422.0 50.1h.01M422.3 61.2h.01M421.8 47.2h.01M436.0 34.3h.01M425.1 57.7h.01M431.8 31.8h.01M429.0 32.4h.01M422.6 44.7h.01M420.3 63.0h.01M437.9 46.7h.01M429.2 32.0h.01M427.9 34.1h.01M427.1 35.5h.01M429.3 61.0h.01M432.0 32.6h.01M428.9 58.8h.01M421.2 51.7h.01M427.3 35.0h.01M428.2 52.0h.01M425.1 52.6h.01M421.5 57.7h.01M426.6 66.5h.01M433.9 42.8h.01M421.7 47.2h.01M433.5 41.0h.01M422.3 62.3h.01M428.2 42.3h.01M428.7 52.6h.01M424.1 44.0h.01M429.7 29.6h.01M420.9 57.5h.01M426.8 48.5h.01M424.4 43.8h.01M429.6 53.4h.01M425.2 58.4h.01M426.0 38.0h.01M428.4 31.0h.01M421.9 52.3h.01M421.2 54.3h.01M450.5 51.1h.01M429.6 32.8h.01M429.4 46.0h.01M428.4 46.4h.01M421.0 56.9h.01M426.7 50.4h.01M423.6 45.3h.01M443.3 47.4h.01M425.3 61.8h.01M420.8 60.0h.01M429.5 31.6h.01M429.7 39.8h.01M421.7 57.4h.01M429.5 44.1h.01M431.2 57.8h.01M435.1 31.3h.01M423.4 54.4h.01M422.7 57.5h.01M423.5 48.0h.01M420.2 65.6h.01M425.0 43.5h.01M436.4 49.2h.01M425.4 44.7h.01M433.2 30.0h.01M430.4 32.8h.01M451.0 49.3h.01M422.1 62.5h.01M427.5 41.4h.01M425.5 50.4h.01M426.0 52.0h.01M425.7 61.5h.01M435.5 24.6h.01M425.8 57.7h.01M421.6 63.1h.01M421.0 64.6h.01M426.1 36.5h.01M437.4 52.1h.01M435.0 49.6h.01M429.4 54.7h.01M424.1 45.3h.01M422.2 58.6h.01M421.0 63.6h.01M421.6 67.6h.01M434.1 37.6h.01M425.8 43.8h.01M424.0 40.1h.01M429.9 62.0h.01M429.8 37.2h.01M428.5 57.2h.01M421.8 65.2h.01M425.5 42.8h.01M423.4 63.5h.01M441.9 53.1h.01M425.7 65.2h.01M420.4 59.3h.01M431.2 47.0h.01M429.8 35.5h.01M423.6 41.5h.01M423.6 48.2h.01M423.1 60.3h.01M432.1 48.8h.01M423.1 48.4h.01M422.5 52.1h.01M428.6 35.4h.01M426.0 56.7h.01M442.4 54.4h.01M425.6 64.4h.01M436.5 53.1h.01M425.4 48.1h.01M423.3 54.2h.01M436.3 37.1h.01M426.3 47.8h.01M438.2 49.8h.01M447.4 56.1h.01M422.1 60.7h.01M424.6 56.4h.01M425.4 66.0h.01M425.4 35.7h.01M427.1 31.4h.01M443.3 49.3h.01M435.0 28.1h.01M425.5 46.3h.01M444.8 52.1h.01M426.2 60.4h.01M422.5 63.2h.01M432.7 23.6h.01M435.9 35.5h.01M449.9 52.1h.01M431.7 38.3h.01M426.1 41.1h.01M423.8 44.2h.01M432.0 45.5h.01M428.8 31.0h.01M427.2 31.2h.01M421.8 51.2h.01M424.4 42.7h.01M424.4 52.2h.01M431.9 36.2h.01M420.2 68.3h.01M426.2 34.8h.01M428.3 35.7h.01M447.8 47.7h.01M423.6 50.6h.01M422.4 55.0h.01M433.3 31.8h.01M426.7 64.2h.01M432.7 28.2h.01M425.3 67.7h.01M430.7 32.9h.01M431.3 51.6h.01M434.5 45.3h.01M424.9 42.7h.01M426.3 34.3h.01M425.8 53.1h.01M420.6 60.8h.01M432.3 30.8h.01M429.5 41.9h.01M441.2 58.6h.01M433.8 62.7h.01M427.0 31.7h.01M435.5 49.6h.01M424.5 58.8h.01M423.9 43.5h.01M421.7 48.2h.01M427.0 52.6h.01M433.2 30.8h.01M425.4 56.2h.01M433.6 38.7h.01M423.8 46.3h.01M428.8 42.5h.01M426.0 52.0h.01M425.3 65.9h.01M429.8 44.5h.01M423.4 63.2h.01M434.0 25.2h.01M429.9 41.9h.01M422.4 46.3h.01M429.9 50.6h.01M422.6 52.5h.01M428.0 39.5h.01M430.3 50.9h.01M422.7 45.0h.01M431.3 26.1h.01M436.3 26.9h.01M421.4 48.6h.01M429.3 37.8h.01M426.0 40.5h.01M423.4 67.5h.01M425.4 44.2h.01M428.5 33.4h.01M435.5 36.5h.01M431.1 39.2h.01M428.0 30.4h.01M429.8 44.3h.01M428.9 34.1h.01M429.6 40.6h.01M429.7 30.6h.01M433.4 33.0h.01M428.4 38.9h.01M428.6 54.3h.01M429.0 55.6h.01M424.6 59.2h.01M432.5 33.0h.01M432.5 54.7h.01M425.9 54.6h.01M432.5 54.7h.01M429.3 29.7h.01M428.8 50.5h.01M427.5 41.1h.01M435.2 28.9h.01M422.0 52.7h.01M424.9 42.3h.01M451.4 49.8h.01M430.1 49.4h.01M425.8 40.7h.01M434.6 33.9h.01M423.5 62.1h.01M426.4 62.4h.01M440.0 54.7h.01M445.1 50.3h.01M431.6 36.0h.01M422.4 55.3h.01M426.1 56.9h.01M422.8 67.7h.01M424.3 47.1h.01M434.5 26.4h.01M432.4 24.2h.01M421.9 53.1h.01M427.1 58.7h.01M425.8 55.2h.01M424.2 53.7h.01M425.2 39.6h.01M429.0 32.7h.01M428.1 39.5h.01M424.7 51.5h.01M430.0 27.6h.01M428.0 35.8h.01M438.0 53.8h.01M423.8 63.2h.01M420.5 60.9h.01M425.5 49.9h.01M423.3 49.7h.01M429.1 36.3h.01M427.8 48.5h.01M429.3 44.7h.01M423.8 62.5h.01M428.1 49.2h.01M424.1 46.5h.01M431.0 58.2h.01M450.2 49.8h.01M423.5 66.6h.01M424.9 57.5h.01M432.3 25.4h.01M425.6 48.3h.01M435.6 27.8h.01M436.8 32.0h.01M428.7 36.1h.01M433.6 39.0h.01M421.8 65.0h.01M427.9 41.8h.01M432.4 39.2h.01M422.9 62.3h.01M423.7 46.9h.01M422.2 67.7h.01M427.9 33.5h.01M423.0 62.0h.01M432.0 36.4h.01M430.5 41.9h.01M425.8 58.9h.01M433.5 36.9h.01M422.4 65.7h.01M421.7 58.2h.01M429.7 32.7h.01M427.8 59.0h.01M428.7 39.9h.01M422.2 59.4h.01M425.5 50.6h.01M426.3 43.1h.01M429.6 40.4h.01M435.5 31.2h.01M427.3 36.5h.01M420.9 62.2h.01M432.1 28.9h.01M423.9 45.9h.01M424.0 51.9h.01M420.3 60.7h.01M433.2 32.4h.01M424.4 62.2h.01M427.9 34.6h.01M428.7 41.1h.01M445.4 50.4h.01M424.0 55.9h.01M422.0 52.8h.01M430.9 43.0h.01M424.4 66.0h.01M422.6 60.2h.01M428.3 45.4h.01M429.7 32.4h.01M423.5 65.3h.01M423.8 40.8h.01M436.0 46.0h.01M430.8 32.9h.01M430.8 37.5h.01M436.5 36.9h.01M423.3 48.8h.01M425.1 36.7h.01M421.8 56.7h.01M427.2 55.5h.01M428.8 42.8h.01M421.2 52.9h.01M423.8 47.4h.01M428.4 54.9h.01M426.1 38.9h.01M428.1 35.5h.01M427.6 37.7h.01M425.3 66.8h.01M433.5 40.5h.01M428.1 33.6h.01M431.9 36.2h.01M432.8 36.9h.01M429.2 34.5h.01M428.6 39.7h.01M432.2 37.9h.01M428.6 46.4h.01M428.0 62.0h.01M422.5 53.8h.01M436.1 32.8h.01M424.4 49.7h.01M427.4 41.0h.01M430.4 44.6h.01M430.3 53.6h.01M431.5 46.4h.01M421.0 59.0h.01M426.6 58.8h.01M431.9 31.0h.01M433.8 29.0h.01M425.5 51.0h.01M435.7 59.9h.01M431.3 47.4h.01M421.1 58.5h.01M430.3 36.8h.01M433.0 33.3h.01M425.9 43.0h.01M422.1 65.5h.01M425.3 42.5h.01M420.2 63.6h.01M426.1 50.0h.01M423.1 44.5h.01M436.2 27.9h.01M428.7 51.3h.01M426.2 45.4h.01M433.5 29.1h.01M422.7 52.8h.01M429.4 31.7h.01M425.2 45.5h.01M421.2 56.6h.01M422.5 58.8h.01M423.5 54.7h.01M423.8 55.9h.01M423.8 48.2h.01M428.9 28.2h.01M433.8 27.8h.01M420.7 64.5h.01M431.2 26.2h.01M430.8 53.8h.01M432.6 30.3h.01M431.4 28.8h.01M425.3 41.1h.01M428.4 45.4h.01M425.5 64.8h.01M423.9 43.8h.01M426.0 46.1h.01M425.5 50.2h.01M435.5 35.6h.01M430.2 34.2h.01M425.5 45.6h.01M424.4 49.1h.01M435.0 30.1h.01M419.9 64.8h.01M427.8 40.0h.01M424.2 47.6h.01M437.3 48.6h.01M431.5 51.1h.01M423.7 45.4h.01M427.6 43.9h.01M422.2 53.3h.01M421.4 49.0h.01M420.0 68.5h.01M437.2 63.2h.01M431.4 30.5h.01M428.5 37.5h.01M425.6 43.4h.01M421.7 57.6h.01M423.2 58.3h.01M425.5 39.6h.01M433.6 45.5h.01M424.8 60.0h.01M441.3 46.9h.01M420.9 62.3h.01M430.0 31.4h.01M432.9 28.6h.01M420.7 62.1h.01M421.1 60.3h.01M419.9 65.8h.01M423.9 44.4h.01M421.5 51.8h.01M424.8 42.4h.01M424.5 43.3h.01M425.2 53.4h.01M420.5 58.1h.01M423.1 47.9h.01M442.9 59.9h.01M430.3 61.7h.01M420.9 55.0h.01M422.0 64.8h.01M421.6 61.8h.01M427.3 48.5h.01M423.3 43.6h.01M429.3 47.9h.01M420.6 61.9h.01M435.6 34.0h.01M433.5 30.9h.01M423.3 54.8h.01M419.8 66.8h.01M422.2 58.0h.01M424.8 51.4h.01M426.5 46.5h.01M424.1 55.7h.01M436.0 27.4h.01M422.2 48.5h.01M424.5 39.1h.01M421.4 59.0h.01M425.3 38.2h.01M427.5 38.5h.01M426.4 44.2h.01M421.4 65.9h.01M421.0 56.4h.01M432.9 27.0h.01M425.3 49.5h.01M429.3 47.1h.01M433.4 61.2h.01M428.6 37.1h.01M421.9 63.2h.01M430.4 31.2h.01M420.2 67.1h.01M426.4 47.1h.01M422.1 52.6h.01M426.3 50.3h.01M423.4 55.8h.01M421.3 50.7h.01M422.6 54.0h.01M420.7 59.6h.01M422.6 57.2h.01M421.8 67.0h.01M431.9 28.2h.01M430.5 36.3h.01M431.4 31.5h.01M430.8 40.0h.01M432.3 33.1h.01M421.5 48.2h.01M428.0 54.3h.01M422.4 47.6h.01M428.5 29.8h.01M444.4 60.4h.01M426.3 49.1h.01M420.2 65.3h.01M427.2 42.8h.01M426.5 41.9h.01M421.6 55.3h.01M424.6 53.0h.01M444.6 58.2h.01M446.6 46.7h.01M424.9 54.0h.01M423.6 64.9h.01M421.3 59.1h.01M424.8 46.0h.01M434.2 36.6h.01M426.7 41.0h.01M426.2 37.5h.01M431.9 36.9h.01M422.6 68.0h.01M426.0 43.8h.01M423.7 45.5h.01M424.2 65.5h.01M422.4 66.7h.01M428.0 37.7h.01M429.0 37.0h.01M433.4 40.6h.01M425.5 35.5h.01M428.6 40.0h.01M433.7 28.5h.01M426.9 36.9h.01M423.8 42.2h.01M433.1 26.6h.01M421.9 55.9h.01M422.6 48.4h.01M432.7 51.6h.01M423.6 66.8h.01M434.3 36.8h.01M421.8 53.8h.01M427.4 32.0h.01M428.5 39.8h.01M423.8 57.6h.01M429.0 55.6h.01M429.8 64.0h.01M421.4 62.9h.01M422.9 58.0h.01M427.3 38.9h.01M422.7 58.8h.01M429.1 35.4h.01M422.1 67.0h.01M427.5 32.5h.01M425.3 38.3h.01M432.7 43.7h.01M422.5 50.6h.01M425.1 38.1h.01M421.9 54.0h.01M426.6 31.6h.01M427.1 54.9h.01M436.4 36.9h.01M431.8 37.1h.01M421.1 63.1h.01M420.3 63.7h.01M431.8 50.9h.01M422.9 50.5h.01M424.7 46.3h.01M426.1 54.4h.01M435.3 27.8h.01M432.7 35.6h.01M423.2 58.1h.01M422.9 64.7h.01M428.2 45.1h.01M426.7 49.7h.01M434.8 26.1h.01M420.6 66.0h.01M423.5 65.7h.01M432.4 42.8h.01M433.3 27.7h.01M426.8 32.0h.01M426.6 39.8h.01M424.8 45.5h.01M425.6 40.5h.01M425.5 43.0h.01M433.6 40.8h.01M427.8 52.4h.01M432.7 25.9h.01M438.0 51.4h.01M426.9 58.2h.01M428.2 34.6h.01M425.0 38.4h.01M430.0 51.2h.01M426.1 65.7h.01M430.5 37.0h.01M427.6 31.7h.01M434.4 37.8h.01M419.6 68.3h.01M425.2 49.3h.01M424.1 57.1h.01M428.1 36.4h.01M427.9 34.5h.01M423.0 58.8h.01M426.7 65.4h.01M421.0 66.5h.01M431.8 29.9h.01M450.3 50.3h.01M430.9 55.0h.01M432.7 57.7h.01M428.5 35.4h.01M432.9 52.9h.01M432.5 37.1h.01M428.0 57.6h.01M420.3 64.5h.01M429.2 31.4h.01M433.8 29.6h.01M433.2 36.9h.01M424.0 63.5h.01M429.9 58.0h.01M423.1 46.8h.01M432.3 35.8h.01M426.5 32.5h.01M420.9 54.3h.01M427.2 37.1h.01M434.0 58.2h.01M434.5 42.6h.01M423.0 54.3h.01M426.3 46.7h.01M422.7 51.5h.01M433.9 28.0h.01M425.3 52.0h.01M420.4 67.0h.01M429.9 35.3h.01M430.7 53.3h.01M425.2 37.8h.01M434.9 40.2h.01M422.0 55.3h.01M423.7 57.8h.01M430.7 37.6h.01M430.4 40.4h.01M427.9 37.3h.01M426.3 58.3h.01M426.4 47.0h.01M421.2 52.4h.01M427.0 62.4h.01M426.5 48.6h.01M431.4 32.3h.01M428.6 42.6h.01M427.2 40.7h.01M426.6 42.3h.01M424.3 56.8h.01M425.2 62.9h.01M426.0 49.8h.01M435.6 47.1h.01M430.7 27.2h.01M431.0 45.5h.01M420.0 63.9h.01M427.2 34.6h.01M426.8 55.3h.01M438.8 54.2h.01M431.1 39.3h.01M435.7 28.5h.01M423.7 53.8h.01M430.4 57.7h.01M423.7 50.9h.01M422.4 56.3h.01M436.3 32.9h.01M426.6 32.9h.01M421.5 59.7h.01M434.7 27.3h.01M433.7 36.8h.01M424.1 57.7h.01M432.0 35.2h.01M421.8 66.4h.01M425.9 67.0h.01M428.4 31.4h.01M422.0 65.7h.01M428.3 38.7h.01M442.2 59.0h.01M427.4 30.8h.01M430.8 36.2h.01M433.1 25.8h.01M427.9 36.5h.01M435.3 33.9h.01M429.5 41.5h.01M435.1 42.9h.01M432.9 38.4h.01M425.2 55.3h.01M423.9 63.5h.01M425.4 46.2h.01M425.9 41.4h.01M423.6 48.3h.01M432.2 28.6h.01M437.5 47.0h.01M426.1 36.8h.01M427.5 33.0h.01M441.8 52.4h.01M430.5 28.8h.01M423.8 66.0h.01M431.3 30.1h.01M429.1 33.4h.01M450.0 46.8h.01M434.1 37.3h.01M430.5 27.6h.01M425.2 66.9h.01M433.8 29.4h.01M426.0 34.0h.01M431.6 29.0h.01M433.9 37.7h.01M420.7 57.0h.01M424.3 40.0h.01M426.9 35.0h.01M424.3 39.5h.01M427.1 38.5h.01M426.0 37.1h.01M426.8 54.2h.01M421.3 49.2h.01M426.2 50.3h.01M436.2 64.2h.01M427.1 41.9h.01M431.0 46.2h.01M429.8 52.0h.01M432.3 52.8h.01M423.3 44.3h.01M432.6 65.9h.01M434.1 24.3h.01M431.3 66.6h.01M428.3 36.9h.01M429.0 54.1h.01M423.9 45.1h.01M422.7 56.7h.01M427.0 58.6h.01M428.7 31.3h.01M431.6 57.4h.01M429.7 51.1h.01M432.7 64.3h.01M431.6 57.1h.01M436.6 27.6h.01M421.6 68.2h.01M434.2 58.1h.01M421.6 51.7h.01M435.2 33.1h.01M429.4 31.2h.01M429.6 30.5h.01M448.7 55.7h.01M422.3 55.8h.01M420.3 60.2h.01M430.4 37.4h.01M423.2 49.4h.01M420.3 62.3h.01M434.0 36.2h.01M424.4 58.1h.01M443.4 59.1h.01M430.5 26.8h.01M431.4 34.9h.01M429.5 40.6h.01M423.0 55.4h.01M429.6 40.4h.01M422.9 52.7h.01M433.0 35.7h.01M424.0 49.1h.01M425.8 48.3h.01M423.0 45.1h.01M424.8 59.6h.01M433.2 22.7h.01M420.1 61.7h.01M420.2 64.2h.01M445.5 55.6h.01M422.9 46.4h.01M440.9 49.8h.01M425.5 41.1h.01M428.6 53.9h.01M422.4 63.7h.01M429.1 32.8h.01M427.3 55.6h.01M425.0 38.0h.01M425.8 59.9h.01M426.9 52.0h.01M420.9 59.9h.01M426.7 31.7h.01M424.1 42.6h.01M422.9 52.0h.01M439.6 55.6h.01M429.1 62.0h.01M431.4 50.1h.01M429.6 54.3h.01M422.3 48.2h.01M428.0 47.2h.01M426.3 34.9h.01M429.2 45.2h.01M426.4 33.5h.01M429.3 64.5h.01M422.9 44.1h.01M428.2 31.7h.01M427.0 63.2h.01M420.0 68.0h.01M436.2 36.8h.01M420.3 60.6h.01M422.7 62.2h.01M421.4 51.9h.01M427.0 31.6h.01M425.0 43.0h.01M429.2 38.5h.01M427.2 46.6h.01M427.9 37.0h.01M431.1 45.1h.01M431.7 30.5h.01M428.9 61.5h.01M433.9 26.3h.01M434.2 43.4h.01M427.2 49.8h.01M423.3 47.6h.01M424.0 67.0h.01M430.3 29.8h.01M423.9 44.7h.01M427.7 36.4h.01M424.5 45.2h.01M434.9 24.4h.01M422.6 67.7h.01M439.6 48.2h.01M428.8 33.3h.01M429.2 39.1h.01M421.2 62.8h.01M421.0 54.3h.01M432.6 47.7h.01M427.5 41.6h.01M440.3 55.6h.01M421.4 51.3h.01M433.6 29.1h.01M423.0 50.1h.01M424.1 67.0h.01M430.1 57.3h.01M430.9 65.3h.01M436.7 54.6h.01M426.1 61.0h.01M427.3 41.8h.01M422.8 49.5h.01M433.6 47.8h.01M433.4 48.1h.01M426.5 32.2h.01M428.5 64.6h.01M419.9 66.4h.01M433.7 31.2h.01M426.3 33.9h.01M427.0 63.2h.01M421.4 60.4h.01M424.5 66.9h.01M431.4 35.5h.01M424.2 40.1h.01M424.5 63.7h.01M427.5 62.3h.01M424.8 45.9h.01M422.0 52.1h.01M428.4 30.0h.01M436.0 30.6h.01M432.3 55.4h.01M435.9 27.5h.01M424.5 39.1h.01M432.5 26.2h.01M424.7 58.6h.01M419.6 68.2h.01M422.0 49.5h.01M420.1 67.9h.01M424.5 56.1h.01M423.6 59.4h.01M428.5 46.0h.01M429.9 66.8h.01M422.2 59.4h.01M427.3 51.6h.01M427.0 56.0h.01M432.1 28.7h.01M421.9 54.7h.01M422.6 45.2h.01M423.2 60.6h.01M424.7 65.9h.01M428.5 31.3h.01M428.3 41.7h.01M430.7 39.6h.01M433.4 31.8h.01M430.6 53.3h.01M423.0 63.7h.01M426.0 51.4h.01M433.4 27.5h.01M419.9 68.0h.01M431.4 26.6h.01M422.8 50.2h.01M427.6 61.0h.01M424.7 65.9h.01M432.9 32.8h.01M426.6 52.5h.01M422.7 61.3h.01M431.9 32.3h.01M427.9 33.8h.01M422.1 60.5h.01M424.2 43.1h.01M433.7 30.6h.01M428.2 45.0h.01M430.6 36.5h.01M421.9 65.1h.01M421.5 51.3h.01M429.9 29.6h.01M421.6 55.4h.01M431.3 33.1h.01M429.5 42.0h.01M422.5 50.3h.01M427.7 37.0h.01M423.3 49.3h.01M424.7 45.8h.01M427.4 55.9h.01M426.2 49.8h.01" stroke="#d8173c" stroke-width="0.85" stroke-linecap="square"/>
<text x="388.20" y="82.80" font-size="3.60" font-weight="bold" fill="#555" text-anchor="middle" stroke="#555" stroke-width="0.2" >-10</text>
<text x="402.70" y="82.80" font-size="3.60" font-weight="bold" fill="#555" text-anchor="middle" stroke="#555" stroke-width="0.2" >-5</text>
<text x="417.30" y="82.80" font-size="3.60" font-weight="bold" fill="#555" text-anchor="middle" stroke="#555" stroke-width="0.2" >0</text>
<text x="431.80" y="82.80" font-size="3.60" font-weight="bold" fill="#555" text-anchor="middle" stroke="#555" stroke-width="0.2" >5</text>
<text x="446.40" y="82.80" font-size="3.60" font-weight="bold" fill="#555" text-anchor="middle" stroke="#555" stroke-width="0.2" >10</text>
<text x="379.20" y="23.40" font-size="3.60" font-weight="bold" fill="#555" text-anchor="end" stroke="#555" stroke-width="0.2" >10.0</text>
<text x="379.20" y="37.10" font-size="3.60" font-weight="bold" fill="#555" text-anchor="end" stroke="#555" stroke-width="0.2" >7.5</text>
<text x="379.20" y="50.80" font-size="3.60" font-weight="bold" fill="#555" text-anchor="end" stroke="#555" stroke-width="0.2" >5.0</text>
<text x="379.20" y="65.00" font-size="3.60" font-weight="bold" fill="#555" text-anchor="end" stroke="#555" stroke-width="0.2" >2.5</text>
<text x="379.20" y="78.00" font-size="3.60" font-weight="bold" fill="#555" text-anchor="end" stroke="#555" stroke-width="0.2" >0.0</text>
<text x="457.80" y="21.90" font-size="4.60" font-weight="bold" fill="#111" text-anchor="end" stroke="#111" stroke-width="0.2" >Mouse</text>
<text x="437.64" y="68.00" font-size="3.50"  fill="#333" stroke="#333" stroke-width="0.2" >Significance</text>
<circle cx="448.4" cy="71.3" r="0.6" fill="#d8173c"/>
<text x="449.70" y="72.30" font-size="2.60"  fill="#555" stroke="#555" stroke-width="0.2" >Up</text>
<circle cx="448.4" cy="74.1" r="0.6" fill="#1d3570"/>
<text x="449.69" y="75.10" font-size="2.60"  fill="#555" stroke="#555" stroke-width="0.2" >Down</text>
<circle cx="448.4" cy="76.9" r="0.6" fill="#808080"/>
<text x="449.69" y="77.90" font-size="2.60"  fill="#555" stroke="#555" stroke-width="0.2" >NS</text>
<rect x="464.2" y="17.3" width="81.3" height="62.8" fill="#fff" stroke="#cfcfcf" stroke-width="0.8"/>
<g stroke="#e3e3e3" stroke-width="0.5" stroke-dasharray="0.6 2.0">
<line x1="482.4" y1="17.3" x2="482.4" y2="80.1"/>
<line x1="493.7" y1="17.3" x2="493.7" y2="80.1"/>
<line x1="505.0" y1="17.3" x2="505.0" y2="80.1"/>
<line x1="516.4" y1="17.3" x2="516.4" y2="80.1"/>
<line x1="527.8" y1="17.3" x2="527.8" y2="80.1"/>
<line x1="464.2" y1="21.0" x2="545.5" y2="21.0"/>
<line x1="464.2" y1="32.3" x2="545.5" y2="32.3"/>
<line x1="464.2" y1="43.5" x2="545.5" y2="43.5"/>
<line x1="464.2" y1="54.8" x2="545.5" y2="54.8"/>
<line x1="464.2" y1="66.0" x2="545.5" y2="66.0"/>
<line x1="464.2" y1="77.2" x2="545.5" y2="77.2"/>
</g>
<g stroke="#777" stroke-width="0.6" stroke-dasharray="0.7 2.6">
<line x1="464.2" y1="62.3" x2="545.5" y2="62.3"/>
<line x1="503.3" y1="17.3" x2="503.3" y2="80.1"/>
<line x1="506.4" y1="17.3" x2="506.4" y2="80.1"/>
</g>
<path d="M506.2 66.5h.01M504.6 77.3h.01M527.2 65.1h.01M502.2 75.4h.01M502.3 66.1h.01M508.7 69.4h.01M510.9 68.8h.01M491.5 62.8h.01M494.8 62.7h.01M512.2 69.0h.01M523.0 69.2h.01M519.6 68.1h.01M518.9 66.6h.01M530.2 66.0h.01M519.5 69.5h.01M503.0 64.2h.01M507.2 69.6h.01M513.0 67.2h.01M508.1 73.7h.01M511.5 74.5h.01M522.0 67.7h.01M503.5 70.7h.01M517.7 66.7h.01M518.8 72.0h.01M503.1 71.8h.01M502.6 71.0h.01M500.7 66.6h.01M502.3 73.8h.01M511.0 68.4h.01M503.0 74.2h.01M535.0 63.0h.01M502.7 73.7h.01M503.8 70.8h.01M520.5 64.3h.01M520.7 63.0h.01M520.5 63.3h.01M503.5 70.4h.01M513.2 67.6h.01M498.8 70.5h.01M499.2 64.0h.01M510.2 69.7h.01M510.4 67.4h.01M496.6 64.0h.01M517.2 68.0h.01M507.2 70.3h.01M501.8 72.7h.01M514.7 70.9h.01M516.7 73.1h.01M507.7 72.8h.01M498.0 66.2h.01M497.4 64.6h.01M527.4 63.2h.01M496.3 69.4h.01M510.9 62.8h.01M503.6 66.4h.01M498.8 71.0h.01M505.5 68.4h.01M506.2 68.3h.01M528.2 66.3h.01M518.5 63.8h.01M499.8 68.2h.01M516.4 70.6h.01M528.2 66.5h.01M507.1 71.2h.01M508.3 69.0h.01M502.8 73.6h.01M522.7 70.5h.01M498.6 63.6h.01M502.9 72.1h.01M505.5 74.0h.01M514.7 73.4h.01M492.3 62.7h.01M500.2 65.3h.01M506.8 65.6h.01M498.7 68.0h.01M503.8 63.1h.01M503.7 70.5h.01M495.5 63.6h.01M513.4 73.6h.01M506.2 77.0h.01M504.8 65.6h.01M519.3 66.3h.01M501.8 71.3h.01M522.6 69.4h.01M513.9 72.9h.01M507.7 71.0h.01M521.4 65.8h.01M511.6 73.2h.01M505.7 64.2h.01M522.5 69.6h.01M504.3 72.4h.01M512.5 65.9h.01M499.5 65.9h.01M501.9 69.0h.01M530.4 63.5h.01M519.5 71.1h.01M501.7 72.0h.01M530.5 65.5h.01M504.7 69.2h.01M502.1 72.4h.01M505.0 62.7h.01M510.4 69.2h.01M528.3 63.4h.01M504.0 63.0h.01M509.5 75.1h.01M504.5 65.9h.01M502.9 74.8h.01M523.0 63.1h.01M525.1 67.2h.01M509.3 72.8h.01M503.9 64.7h.01M501.4 69.3h.01M528.7 63.6h.01M507.2 76.8h.01M500.4 66.7h.01M502.3 69.6h.01M495.1 63.6h.01M514.5 62.8h.01M508.1 68.5h.01M497.5 68.5h.01M512.2 74.3h.01M506.7 73.0h.01M512.8 74.2h.01M504.7 64.8h.01M505.1 65.7h.01M520.7 67.4h.01M498.7 65.8h.01M503.8 66.2h.01M507.7 73.8h.01M504.8 73.8h.01M494.8 64.1h.01M511.0 74.0h.01M502.6 66.7h.01M519.3 64.9h.01M501.0 73.9h.01M521.5 63.7h.01M496.8 71.2h.01M504.6 78.1h.01M524.4 65.5h.01M504.6 75.7h.01M498.8 64.4h.01M514.8 66.3h.01M515.2 63.2h.01M495.9 68.2h.01M499.5 65.1h.01M526.8 65.0h.01M503.6 76.8h.01M504.4 64.2h.01M508.1 62.9h.01M516.4 71.7h.01M506.8 70.3h.01M504.9 69.9h.01M521.7 66.4h.01M520.0 70.0h.01M512.9 74.2h.01M507.1 70.2h.01M515.2 67.2h.01M504.5 65.7h.01M510.4 75.5h.01M498.9 70.9h.01M513.4 66.1h.01M514.3 65.5h.01M503.5 68.6h.01M510.4 63.9h.01M499.5 72.1h.01M505.4 65.5h.01M503.1 73.6h.01M530.5 64.2h.01M519.3 65.3h.01M518.3 63.3h.01M522.3 66.4h.01M507.9 72.8h.01M507.8 75.1h.01M506.2 67.8h.01M501.1 73.3h.01M500.9 64.6h.01M503.5 65.6h.01M507.0 65.4h.01M513.1 70.3h.01M498.2 69.5h.01M521.1 67.2h.01M501.5 67.6h.01M526.7 68.1h.01M528.8 67.4h.01M529.5 65.5h.01M501.8 66.0h.01M495.0 64.2h.01M521.9 67.8h.01M504.0 73.8h.01M493.0 65.7h.01M513.8 68.2h.01M518.6 69.1h.01M512.2 63.6h.01M517.5 69.5h.01M520.1 65.9h.01M525.3 64.6h.01M524.3 63.1h.01M518.3 67.1h.01M515.4 73.5h.01M494.2 62.6h.01M509.2 63.7h.01M529.7 66.5h.01M501.4 72.1h.01M509.4 67.4h.01M532.6 65.2h.01M505.8 69.4h.01M506.8 75.3h.01M515.3 65.1h.01M503.0 63.7h.01M518.0 69.4h.01M499.9 72.6h.01M502.7 70.9h.01M508.0 69.9h.01M507.2 74.9h.01M493.5 64.9h.01M517.9 65.0h.01M522.6 68.2h.01M527.3 65.7h.01M510.4 65.4h.01M529.1 63.6h.01" stroke="#808080" stroke-width="0.7" stroke-linecap="square"/>
<path d="M492.0 62.5L503.6 62.5L504.6 72.0L505.6 62.5L519.0 62.5L514.0 66.5L508.0 73.0L505.2 77.6L503.8 77.6L498.0 70.0L494.0 65.5Z" fill="#8f8f8f"/>
<path d="M479.8 34.2h.01M478.7 40.0h.01M501.2 60.0h.01M497.4 32.5h.01M488.3 22.3h.01M488.1 49.3h.01M478.1 36.5h.01M494.2 53.2h.01M498.5 42.4h.01M493.7 55.4h.01M494.2 40.4h.01M496.5 47.9h.01M489.8 40.1h.01M483.8 44.4h.01M487.7 32.8h.01M496.6 56.7h.01M499.5 56.9h.01M494.5 33.0h.01M482.7 41.4h.01M496.6 55.0h.01M488.0 37.1h.01M483.8 47.8h.01M494.0 35.8h.01M489.0 50.3h.01M495.3 27.1h.01M481.7 30.6h.01M479.7 40.0h.01M489.4 47.2h.01M486.8 40.5h.01M487.4 34.0h.01M496.9 60.1h.01M498.4 50.4h.01M482.3 44.5h.01M494.9 31.0h.01M496.4 60.5h.01M494.0 58.8h.01M488.5 50.0h.01M483.7 32.3h.01M490.3 28.3h.01M477.6 35.1h.01M491.5 28.6h.01M491.2 30.5h.01M499.5 56.2h.01M497.4 59.6h.01M489.1 31.2h.01M490.0 50.3h.01M486.0 29.7h.01M494.0 59.2h.01M484.7 53.3h.01M480.2 41.0h.01M499.4 61.3h.01M481.5 46.5h.01M490.9 28.6h.01M480.0 41.0h.01M487.0 41.8h.01M490.1 35.0h.01M492.2 47.3h.01M486.7 27.0h.01M482.1 38.6h.01M485.2 30.5h.01M489.4 28.9h.01M491.6 55.3h.01M481.5 44.9h.01M495.2 23.1h.01M490.3 35.5h.01M491.9 61.8h.01M490.8 50.0h.01M483.5 41.8h.01M495.5 54.2h.01M500.1 58.0h.01M482.7 27.3h.01M480.1 42.4h.01M490.3 58.4h.01M497.0 39.9h.01M485.5 39.1h.01M481.3 32.5h.01M493.8 45.1h.01M495.0 43.6h.01M489.9 36.0h.01M494.4 57.9h.01M494.2 55.8h.01M487.9 50.6h.01M481.8 41.8h.01M495.4 51.1h.01M490.5 27.8h.01M494.1 38.0h.01M491.5 55.1h.01M493.5 37.9h.01M500.0 61.1h.01M480.5 30.2h.01M484.6 33.3h.01M495.7 47.1h.01M484.5 25.1h.01M490.4 55.2h.01M483.7 26.7h.01M486.8 30.7h.01M498.7 43.6h.01M487.3 39.2h.01M495.9 27.1h.01M500.5 51.9h.01M488.5 34.4h.01M489.6 33.7h.01M481.2 39.9h.01M479.9 30.8h.01M481.6 37.8h.01M494.1 50.5h.01M491.3 39.4h.01M499.8 47.2h.01M487.3 40.5h.01M491.2 30.6h.01M500.5 62.1h.01M486.0 34.9h.01M495.1 39.2h.01M493.3 38.5h.01M492.6 60.5h.01M480.9 39.5h.01M485.7 53.3h.01M495.0 46.5h.01M481.7 43.9h.01M498.2 55.0h.01M478.3 32.4h.01M480.3 33.5h.01M497.0 48.6h.01M479.6 36.9h.01M483.0 31.9h.01M491.9 51.8h.01M496.2 40.9h.01M495.3 49.0h.01M484.5 48.7h.01M494.6 32.4h.01M500.1 57.5h.01M488.1 45.4h.01M499.0 57.2h.01M491.9 32.3h.01M489.5 34.3h.01M489.5 51.9h.01M496.9 40.3h.01M493.4 31.1h.01M479.2 40.6h.01M484.4 32.5h.01M489.9 27.2h.01M479.2 35.5h.01M483.4 36.6h.01M484.6 45.2h.01M491.7 30.0h.01M488.5 43.5h.01M479.9 39.0h.01M489.2 40.3h.01M487.9 52.5h.01M482.2 35.0h.01" stroke="#1d3570" stroke-width="0.75" stroke-linecap="square"/>
<path d="M517.2 58.3h.01M513.1 37.0h.01M524.2 42.7h.01M518.9 60.1h.01M529.1 58.8h.01M536.0 50.4h.01M509.0 51.5h.01M532.2 62.1h.01M540.0 40.6h.01M530.0 47.3h.01M529.3 39.5h.01M511.5 36.3h.01M526.0 46.3h.01M527.3 49.5h.01M531.1 59.6h.01M517.7 31.9h.01M519.6 49.5h.01M530.6 49.2h.01M521.0 35.5h.01M509.9 42.3h.01M528.2 60.7h.01M517.7 34.8h.01M522.7 36.4h.01M536.2 48.6h.01M534.6 56.8h.01M528.9 58.4h.01M530.2 58.6h.01M519.1 47.2h.01M513.2 39.0h.01M511.2 37.4h.01M509.0 47.5h.01M520.7 55.6h.01M525.5 56.6h.01M527.7 55.2h.01M529.0 62.4h.01M541.3 43.8h.01M511.8 61.2h.01M536.4 56.8h.01M535.3 47.4h.01M537.8 41.2h.01M534.9 53.2h.01M534.0 48.0h.01M531.0 51.1h.01M535.7 47.5h.01M518.5 33.8h.01M520.8 40.1h.01M539.3 44.7h.01M524.0 58.6h.01M519.5 40.9h.01M535.1 51.7h.01M538.4 51.4h.01M532.5 53.3h.01M508.3 49.3h.01M528.1 56.0h.01M510.2 32.5h.01M510.3 58.1h.01M525.8 40.2h.01M536.5 46.1h.01M520.6 35.4h.01M516.3 36.5h.01M525.5 55.9h.01M512.1 60.8h.01M538.4 40.1h.01M513.3 42.8h.01M513.3 56.4h.01M529.0 60.6h.01M510.0 47.4h.01M509.9 50.2h.01M518.4 62.0h.01M515.8 52.8h.01M518.1 49.9h.01M534.4 49.0h.01M509.6 38.9h.01M540.3 51.2h.01M513.9 33.3h.01M511.8 32.7h.01M514.5 44.2h.01M510.8 61.2h.01M528.3 52.8h.01M539.3 39.1h.01M523.1 39.4h.01M526.6 48.1h.01M513.9 56.0h.01M524.8 46.8h.01M529.1 45.7h.01M509.1 60.4h.01M538.4 40.6h.01M530.3 49.0h.01M511.8 45.0h.01M522.9 55.6h.01M510.0 41.0h.01M534.9 59.5h.01M510.6 54.4h.01M510.1 41.2h.01M515.0 59.1h.01M535.2 49.9h.01M532.2 55.0h.01M526.7 56.1h.01M529.0 51.7h.01M511.6 34.4h.01M520.4 38.5h.01M517.9 38.7h.01M518.1 55.5h.01M533.4 55.5h.01M519.2 53.8h.01M532.7 49.0h.01M513.6 39.5h.01M521.0 46.1h.01M513.4 40.5h.01M513.8 45.8h.01M516.3 50.2h.01M535.1 57.0h.01M541.0 40.2h.01M517.7 39.9h.01M521.3 48.4h.01M520.6 42.4h.01M528.3 52.6h.01M537.2 45.3h.01M523.9 39.8h.01M513.2 38.6h.01M519.4 54.5h.01M536.1 46.8h.01M517.7 42.7h.01M508.9 45.1h.01M527.2 60.9h.01M513.5 32.6h.01M525.9 58.2h.01M507.5 61.0h.01M515.2 33.7h.01M536.7 41.4h.01M535.9 53.7h.01M525.9 40.8h.01M535.6 43.3h.01M521.3 61.8h.01M539.1 50.7h.01M519.0 56.3h.01M521.5 56.0h.01M537.2 46.4h.01M537.4 50.2h.01M538.0 53.1h.01M520.4 36.2h.01M514.4 33.5h.01M529.1 39.2h.01M539.3 40.9h.01M525.0 42.5h.01M516.7 55.5h.01M531.6 54.4h.01M511.8 40.1h.01M527.0 45.3h.01M523.1 47.8h.01" stroke="#d8173c" stroke-width="0.75" stroke-linecap="square"/>
<path d="M499.1 55.5h.01M493.5 39.6h.01M500.6 45.1h.01M487.8 36.6h.01M493.7 53.2h.01M499.1 60.0h.01M492.0 40.4h.01M495.4 36.2h.01M500.1 50.8h.01M496.0 45.9h.01M497.4 30.5h.01M497.9 45.8h.01M496.4 48.7h.01M494.6 38.1h.01M499.5 46.5h.01M495.4 30.5h.01M501.6 55.5h.01M492.4 50.0h.01M491.5 55.0h.01M497.7 57.1h.01M501.9 58.8h.01M499.6 41.5h.01M488.9 30.2h.01M485.6 30.8h.01M488.3 47.0h.01M501.5 56.0h.01M498.1 39.5h.01M500.9 52.7h.01M498.8 55.7h.01M494.7 32.6h.01M497.9 46.0h.01M499.1 45.0h.01M496.0 33.0h.01M497.3 39.6h.01M497.9 57.2h.01M500.8 57.7h.01M494.2 36.3h.01M500.0 46.2h.01M494.0 35.7h.01M501.6 59.3h.01M492.8 41.5h.01M493.4 33.2h.01M500.8 51.1h.01M486.6 49.7h.01M499.1 59.5h.01M491.5 43.8h.01M495.4 51.4h.01M492.9 46.6h.01M493.5 32.1h.01M500.0 43.4h.01M494.8 29.5h.01M485.9 42.1h.01M490.8 43.9h.01M488.1 30.4h.01M492.5 52.9h.01M488.8 44.1h.01M497.0 40.5h.01M497.2 34.5h.01M494.6 29.9h.01M501.0 43.3h.01M499.7 55.3h.01M497.4 38.2h.01M488.2 33.4h.01M499.6 47.4h.01M500.2 54.0h.01M497.4 43.9h.01M497.2 31.5h.01M496.5 34.7h.01M493.7 36.8h.01M498.2 32.1h.01M495.3 47.9h.01M501.8 54.2h.01M500.3 40.8h.01M500.1 39.8h.01M494.0 30.5h.01M495.7 29.2h.01M490.3 46.3h.01M501.4 50.0h.01M492.8 33.5h.01M490.6 39.5h.01M490.0 50.0h.01M499.9 43.3h.01M494.9 42.5h.01M497.7 46.7h.01M489.0 31.5h.01M490.4 40.9h.01M498.0 43.7h.01M487.9 28.1h.01M492.2 32.6h.01M491.3 32.4h.01M499.1 57.3h.01M500.4 50.9h.01M494.9 60.7h.01M501.1 51.4h.01M492.6 56.1h.01M495.7 35.1h.01M491.7 32.2h.01M493.8 33.6h.01M501.2 45.9h.01M496.8 54.8h.01M496.2 28.2h.01M501.2 62.3h.01M497.2 31.6h.01M494.8 43.9h.01M497.4 32.6h.01M494.0 40.3h.01M489.1 29.2h.01M496.0 30.4h.01M497.9 59.9h.01M495.7 57.6h.01M493.0 39.8h.01M495.3 37.9h.01M495.3 36.9h.01M497.9 40.6h.01M490.6 36.0h.01M493.6 33.0h.01M493.2 61.9h.01M491.5 59.4h.01M496.8 49.2h.01M495.6 38.1h.01M491.7 32.2h.01M498.5 38.0h.01M498.4 46.0h.01M501.2 59.8h.01M487.9 41.9h.01M488.2 46.9h.01M499.4 37.6h.01M497.0 55.8h.01M497.7 44.4h.01M499.3 58.5h.01M494.2 31.3h.01M492.6 41.3h.01M489.6 37.6h.01M495.8 46.2h.01M496.3 40.5h.01M494.3 43.0h.01M492.7 31.9h.01M486.0 38.5h.01M498.9 42.3h.01M496.8 33.4h.01M494.5 48.1h.01M500.2 55.7h.01M493.9 35.0h.01M498.8 51.2h.01M499.5 52.3h.01M498.9 49.5h.01M489.6 41.9h.01M498.1 36.1h.01M496.0 44.8h.01M499.0 46.5h.01M496.3 50.0h.01M494.0 39.9h.01M490.0 50.8h.01M498.3 42.3h.01M500.8 43.5h.01M493.0 39.8h.01M496.1 47.6h.01M490.1 39.8h.01M500.4 60.6h.01M497.0 41.1h.01M498.4 48.5h.01M496.6 54.3h.01M494.3 62.2h.01M494.2 34.7h.01M493.4 30.9h.01M487.1 42.2h.01M501.0 56.8h.01M501.1 60.5h.01M494.7 31.5h.01M501.6 56.0h.01M501.6 57.0h.01M491.2 34.3h.01M499.6 51.9h.01M491.2 41.7h.01M485.4 45.2h.01M497.5 36.0h.01M499.3 61.6h.01M494.5 49.2h.01M499.7 44.1h.01M495.6 37.9h.01M495.6 37.3h.01M493.8 37.5h.01M501.2 50.8h.01M500.9 61.8h.01M500.4 51.2h.01M497.9 58.0h.01M491.3 37.6h.01M496.2 46.2h.01M498.5 53.8h.01M500.4 40.3h.01M497.9 56.5h.01M495.9 36.3h.01M499.3 53.8h.01M494.9 55.5h.01M499.4 54.5h.01M496.2 32.3h.01M486.3 41.4h.01M498.3 51.8h.01M500.7 42.7h.01M501.2 51.8h.01M493.6 34.2h.01M499.0 57.1h.01M499.9 39.9h.01M495.9 36.5h.01M494.4 37.8h.01M497.2 50.7h.01M498.0 48.3h.01M500.7 56.4h.01M500.0 47.8h.01M499.4 39.3h.01M498.2 51.7h.01M500.4 46.0h.01M499.8 51.7h.01M496.3 38.7h.01M495.7 39.7h.01M496.6 36.3h.01M497.7 44.3h.01M496.3 42.9h.01M495.7 48.2h.01M495.3 33.7h.01M494.5 34.3h.01M493.6 34.2h.01M501.6 50.5h.01M500.4 61.0h.01M488.7 34.3h.01M501.1 45.2h.01M495.0 32.2h.01M494.7 60.2h.01M492.8 60.0h.01M501.3 50.0h.01M490.6 43.4h.01M501.4 46.9h.01M487.6 35.9h.01M492.2 38.7h.01M500.3 44.1h.01M499.0 40.2h.01M497.0 31.2h.01M495.7 45.9h.01M484.2 33.2h.01M486.2 35.5h.01M501.7 55.9h.01M497.5 45.0h.01M495.0 43.3h.01M497.8 34.5h.01M498.7 41.5h.01M499.7 50.0h.01M499.6 39.1h.01M499.9 60.9h.01M492.3 56.8h.01M495.2 50.3h.01M493.8 34.9h.01M495.0 28.0h.01M486.4 37.9h.01M496.2 32.7h.01M494.9 43.2h.01M496.9 28.9h.01M495.8 52.0h.01M494.1 48.4h.01M487.9 32.4h.01M498.7 41.5h.01M490.1 36.9h.01M500.1 53.1h.01M488.9 30.6h.01M493.1 54.7h.01M501.8 60.4h.01M497.2 46.5h.01M492.7 35.5h.01M488.7 50.7h.01M497.2 52.9h.01M497.3 51.7h.01M484.8 30.5h.01M492.6 30.1h.01M490.6 38.4h.01M496.0 50.1h.01M491.9 36.8h.01M499.6 45.5h.01M494.1 28.3h.01M494.5 34.9h.01M497.0 34.0h.01M497.4 30.7h.01M487.5 33.4h.01M496.5 33.2h.01M496.8 35.6h.01M490.2 32.5h.01M500.1 47.3h.01M483.1 37.9h.01M496.9 38.5h.01M497.0 35.2h.01M497.6 42.0h.01M500.1 58.0h.01M495.9 36.5h.01M498.2 42.1h.01M495.8 56.6h.01M496.0 34.3h.01M496.0 60.1h.01M494.9 45.5h.01M501.2 51.2h.01M493.5 28.9h.01M491.0 30.4h.01M488.9 48.4h.01M501.2 56.9h.01M496.6 31.2h.01M485.4 35.6h.01M492.5 35.0h.01M495.8 43.7h.01M492.1 33.5h.01M492.2 38.5h.01M493.2 48.4h.01M499.9 49.6h.01M494.6 38.8h.01M497.4 28.8h.01M492.8 43.6h.01M488.3 32.5h.01M492.3 33.9h.01M491.7 30.6h.01M487.9 42.7h.01M496.9 34.1h.01M489.4 33.1h.01M495.2 53.5h.01M491.0 38.3h.01M497.8 37.1h.01M486.2 41.9h.01M495.7 37.3h.01M495.8 32.6h.01M496.3 53.3h.01M501.4 55.4h.01M499.3 53.5h.01M499.8 59.8h.01M489.8 30.2h.01M499.0 42.1h.01M500.1 47.8h.01M498.8 50.5h.01M497.4 38.7h.01M495.6 32.6h.01M500.0 48.3h.01M495.9 38.1h.01M497.3 48.2h.01M486.5 37.8h.01M493.0 44.7h.01M499.5 52.8h.01M492.2 50.7h.01M496.7 41.1h.01M495.3 35.5h.01M490.3 31.6h.01M489.0 55.4h.01M494.9 48.8h.01M492.8 32.5h.01M494.7 43.3h.01M499.8 42.6h.01M496.6 48.2h.01M493.7 32.3h.01M500.1 46.7h.01M496.5 34.2h.01M492.3 52.4h.01M495.2 33.0h.01M494.9 32.4h.01M497.3 50.9h.01M488.9 29.2h.01M492.7 35.7h.01M485.8 34.2h.01M500.8 56.3h.01M496.7 29.5h.01M498.7 61.6h.01M500.8 42.6h.01M500.1 42.5h.01M498.7 37.9h.01M490.9 45.5h.01M497.6 52.2h.01M495.7 47.3h.01M494.5 55.6h.01M496.9 36.1h.01M487.8 36.3h.01M495.1 36.4h.01M491.5 32.6h.01M492.3 58.4h.01M498.0 35.7h.01M499.6 42.9h.01M492.0 37.8h.01M500.8 49.6h.01M497.8 40.8h.01M482.7 43.0h.01M492.4 35.0h.01M488.2 34.5h.01M498.0 51.1h.01M501.8 56.6h.01M488.6 32.2h.01M496.2 41.5h.01M494.4 59.0h.01M486.4 44.9h.01M499.6 40.4h.01M494.1 33.0h.01M499.9 52.3h.01M498.5 41.4h.01M497.8 35.7h.01M492.9 33.1h.01M492.4 33.5h.01M501.4 51.6h.01M500.6 58.3h.01M500.3 55.3h.01M497.7 42.6h.01M497.8 32.9h.01M500.4 43.2h.01M497.6 45.9h.01M496.4 32.8h.01M496.7 49.8h.01M493.6 60.5h.01M501.9 58.6h.01M498.6 50.8h.01M494.2 36.4h.01M497.4 30.3h.01M498.1 56.4h.01M497.7 58.2h.01M497.3 55.6h.01M495.3 55.0h.01M485.4 38.2h.01M498.4 60.3h.01M496.5 54.3h.01M499.2 40.4h.01M500.5 54.1h.01M498.5 60.9h.01M498.0 41.5h.01M497.9 60.3h.01M500.1 47.9h.01M496.9 38.1h.01M495.4 52.5h.01M500.2 55.7h.01M494.9 39.8h.01M498.6 40.4h.01M497.0 34.1h.01M501.8 60.5h.01M493.6 33.8h.01M498.2 50.4h.01M496.0 44.7h.01M496.8 58.8h.01M492.0 32.0h.01M499.0 42.5h.01M500.2 40.9h.01M494.6 31.6h.01M496.6 30.4h.01M501.6 55.2h.01M489.8 49.2h.01M494.2 43.1h.01M491.8 49.0h.01M494.6 30.8h.01M495.9 39.1h.01M498.0 37.6h.01M494.1 37.2h.01M489.4 57.4h.01M495.6 49.5h.01M495.7 33.4h.01M494.9 33.8h.01M495.1 29.9h.01M493.3 38.7h.01M487.0 52.0h.01M500.5 56.0h.01M491.7 35.1h.01M495.4 48.2h.01M486.8 46.1h.01M497.7 40.2h.01M491.5 34.3h.01M499.9 61.8h.01M494.4 43.8h.01M500.6 48.5h.01M498.2 35.6h.01M495.3 59.4h.01M491.9 56.6h.01M491.3 30.6h.01M494.8 34.0h.01M488.2 29.9h.01M495.1 29.2h.01M496.5 47.8h.01M501.0 57.4h.01M498.8 42.7h.01M485.8 41.7h.01M488.6 44.5h.01M501.7 60.9h.01M499.4 47.2h.01M500.5 45.2h.01M483.2 43.7h.01M487.1 42.6h.01M498.2 38.4h.01M493.7 43.0h.01M497.8 31.1h.01M496.9 59.7h.01M495.1 38.6h.01M499.9 49.5h.01M492.5 33.7h.01M493.5 38.3h.01M500.4 52.2h.01M500.0 39.1h.01M496.5 55.8h.01M500.7 48.9h.01M494.3 34.6h.01M488.8 41.4h.01M501.0 54.8h.01M482.3 39.5h.01M491.7 48.3h.01M494.3 34.1h.01M499.1 49.0h.01M490.5 34.3h.01M488.9 59.0h.01M490.1 37.0h.01M495.0 57.8h.01M494.9 41.8h.01M491.9 47.7h.01M493.7 37.2h.01M495.8 34.0h.01M491.9 28.7h.01M489.5 28.5h.01M492.8 28.6h.01M496.3 39.0h.01M490.0 26.4h.01M492.1 39.5h.01M494.7 28.5h.01M484.2 31.9h.01M494.7 38.7h.01M502.2 61.8h.01M492.1 40.3h.01M493.5 33.1h.01M497.4 45.9h.01M489.8 40.0h.01M484.7 32.1h.01M485.6 36.2h.01M491.7 30.2h.01M498.2 59.9h.01M501.3 45.5h.01M501.4 59.3h.01M501.4 57.4h.01M499.9 48.4h.01M496.1 32.7h.01M494.9 61.9h.01M499.6 41.5h.01M487.9 51.5h.01M497.3 34.8h.01M491.0 40.2h.01M500.1 43.6h.01M495.5 46.4h.01M498.3 41.1h.01M493.6 34.5h.01M502.1 61.4h.01M484.0 33.5h.01M501.2 48.0h.01M498.6 54.6h.01M499.4 42.7h.01M500.1 56.3h.01M485.2 32.1h.01M494.0 34.1h.01M496.8 47.8h.01M500.5 59.1h.01M493.9 30.8h.01M494.9 62.1h.01M494.9 59.6h.01M491.1 48.5h.01M484.7 37.5h.01M486.4 51.1h.01M490.1 46.1h.01M491.9 27.6h.01M491.1 32.8h.01M488.5 27.8h.01M493.7 36.3h.01M502.2 61.1h.01M497.5 34.5h.01M493.9 32.7h.01M499.6 45.9h.01M495.9 42.1h.01M493.3 59.7h.01M489.2 50.8h.01M499.7 44.1h.01M484.0 50.6h.01M494.4 29.6h.01M490.7 33.1h.01M498.7 34.7h.01M500.3 49.2h.01M500.6 56.4h.01M497.9 60.0h.01M500.3 42.9h.01M500.9 47.7h.01M496.1 48.8h.01M501.2 56.3h.01M492.1 30.7h.01M488.9 57.4h.01M492.6 44.6h.01M496.8 58.6h.01M496.5 30.6h.01M496.7 28.8h.01M494.7 47.0h.01M490.4 34.3h.01M489.4 25.0h.01M494.0 39.6h.01M499.8 61.3h.01M496.7 42.6h.01M501.7 54.2h.01M499.4 37.5h.01M494.9 28.6h.01M501.9 54.4h.01M499.7 42.2h.01M495.8 53.2h.01M498.9 46.2h.01M500.2 56.6h.01M492.4 29.4h.01M488.9 42.2h.01M501.5 60.5h.01M500.7 56.0h.01M494.3 52.6h.01M497.0 42.3h.01M491.4 42.0h.01M498.9 52.5h.01M500.3 49.1h.01M493.2 26.5h.01M492.8 38.7h.01M492.8 35.1h.01M500.5 50.1h.01M501.6 57.9h.01M498.6 53.2h.01M499.8 50.2h.01M498.6 42.8h.01M499.5 52.3h.01M499.6 58.4h.01M498.1 58.0h.01M501.4 60.6h.01M491.4 32.7h.01M492.8 53.8h.01M485.9 46.0h.01M493.9 31.4h.01M495.8 41.3h.01M499.2 61.8h.01M499.3 54.6h.01M496.8 32.3h.01M484.2 33.1h.01M488.7 30.9h.01M488.7 51.4h.01M494.3 50.0h.01M500.3 51.1h.01M500.0 47.0h.01M500.6 53.2h.01M496.1 36.0h.01M494.4 62.3h.01M490.3 43.3h.01M492.3 46.5h.01M501.2 44.9h.01M493.2 32.8h.01M491.1 44.9h.01M495.0 35.6h.01M488.0 57.7h.01M498.0 39.9h.01M497.3 39.5h.01M487.3 49.1h.01M495.9 43.5h.01M490.1 32.9h.01M501.1 61.3h.01M500.9 57.1h.01M496.0 37.2h.01M499.2 43.3h.01M499.0 54.4h.01M495.4 55.4h.01M501.5 49.8h.01M494.1 36.9h.01M496.0 57.9h.01M495.4 37.7h.01M500.4 48.2h.01M491.5 34.6h.01M489.9 25.0h.01M483.9 48.1h.01M499.5 51.2h.01M495.9 62.0h.01M496.8 61.1h.01M498.7 49.7h.01M500.5 56.7h.01M496.3 54.5h.01M496.1 54.3h.01M496.2 61.7h.01M497.8 31.8h.01M496.9 37.4h.01M501.2 48.5h.01M499.7 41.0h.01M499.9 53.8h.01M488.7 27.5h.01M490.1 51.3h.01M500.9 48.2h.01M495.1 32.7h.01M498.9 40.0h.01M491.0 36.5h.01M497.3 41.7h.01M492.6 32.0h.01M490.2 50.2h.01M498.9 52.3h.01M497.8 38.6h.01M492.5 27.0h.01M489.1 44.0h.01M501.6 53.4h.01M492.6 36.3h.01M492.9 34.6h.01M500.7 51.4h.01M489.4 34.3h.01M495.3 56.4h.01M501.4 61.6h.01M498.9 48.8h.01M494.1 39.5h.01M498.0 49.8h.01M496.1 30.4h.01M496.9 38.4h.01M494.9 57.7h.01M485.4 32.8h.01M500.9 44.3h.01M496.6 37.0h.01M494.4 37.0h.01M493.0 40.5h.01M500.4 44.5h.01M497.3 46.5h.01M497.6 30.7h.01M498.6 43.0h.01M501.4 56.3h.01M501.9 58.6h.01M496.8 53.9h.01M498.6 58.0h.01M493.2 47.3h.01M494.0 35.8h.01M495.1 37.0h.01M493.3 39.2h.01M489.5 38.3h.01M501.6 51.8h.01M497.7 44.4h.01M489.7 56.4h.01M496.6 52.9h.01M494.2 35.9h.01M499.0 50.4h.01M489.6 36.5h.01M488.6 42.1h.01M496.1 51.7h.01M497.4 45.0h.01M500.4 46.2h.01M496.8 35.8h.01M499.9 60.9h.01M499.9 47.5h.01M495.1 55.9h.01M498.6 41.6h.01M494.8 30.2h.01M502.1 62.4h.01M494.5 36.4h.01M485.4 53.7h.01M496.2 49.5h.01M491.2 55.8h.01M500.3 47.3h.01M495.3 39.4h.01M492.1 29.8h.01M498.4 47.6h.01M495.3 37.5h.01M489.1 42.9h.01M484.3 33.3h.01M493.4 42.6h.01M488.7 30.9h.01M492.4 31.1h.01M499.1 54.8h.01M483.0 38.4h.01M493.3 33.5h.01M489.4 31.3h.01M501.2 43.7h.01M498.4 37.5h.01M492.5 58.5h.01M493.6 31.8h.01M499.1 53.7h.01M494.8 29.0h.01M489.7 49.3h.01M493.2 33.8h.01M499.4 39.5h.01M497.4 51.8h.01M497.3 37.8h.01M494.9 54.6h.01M482.7 41.3h.01M491.5 26.9h.01M502.1 61.8h.01M487.1 37.8h.01M487.4 53.8h.01M497.8 36.3h.01M492.2 42.0h.01M502.1 57.4h.01M488.7 29.9h.01M491.2 49.9h.01M494.2 32.5h.01M501.4 52.7h.01M500.7 45.3h.01M496.6 49.7h.01M494.6 30.0h.01M497.8 36.1h.01M498.9 53.3h.01M493.5 43.7h.01M499.1 44.9h.01M499.3 53.0h.01M491.9 27.9h.01M500.7 50.5h.01M488.7 53.1h.01M497.0 44.7h.01M496.3 47.6h.01M489.2 37.9h.01M496.2 44.0h.01M498.3 40.7h.01M496.2 38.9h.01M499.2 49.9h.01M496.5 45.8h.01M484.7 49.0h.01M499.3 61.9h.01M497.8 44.3h.01M495.4 53.7h.01M489.3 48.6h.01M490.6 47.2h.01M502.0 58.5h.01M496.1 54.6h.01M495.0 33.0h.01M495.2 48.2h.01M489.9 38.3h.01M496.9 41.8h.01M500.6 53.5h.01M493.9 45.9h.01M494.9 50.0h.01M499.7 57.0h.01M490.0 35.9h.01M499.7 41.6h.01M500.4 45.2h.01M493.8 37.2h.01M501.6 52.8h.01M494.8 39.1h.01M500.1 57.0h.01M497.6 55.3h.01M498.3 47.0h.01M498.0 46.9h.01M498.5 57.0h.01M489.1 34.2h.01M488.5 26.4h.01M496.0 36.8h.01M493.0 54.6h.01M496.0 35.3h.01M497.1 47.5h.01M488.5 27.6h.01M495.8 52.0h.01M493.3 53.2h.01M496.9 39.6h.01M497.5 45.3h.01M501.0 60.4h.01M500.6 47.6h.01M489.4 33.7h.01M484.5 39.0h.01M496.4 51.9h.01M498.9 35.8h.01M489.0 40.8h.01M498.1 53.1h.01M498.0 51.2h.01M497.6 46.9h.01M490.3 25.4h.01M497.7 33.8h.01M489.1 35.2h.01M493.2 44.4h.01M500.2 58.4h.01M500.1 42.1h.01M489.3 29.5h.01M493.3 58.8h.01M497.4 40.6h.01M483.3 34.7h.01M487.5 28.6h.01M494.6 58.5h.01M490.9 46.3h.01M497.4 45.1h.01M493.0 37.7h.01M492.5 31.5h.01M501.0 48.1h.01M486.2 39.8h.01M501.0 43.7h.01M487.5 49.4h.01M496.5 50.0h.01M500.5 48.3h.01M500.5 45.3h.01M496.6 31.8h.01M500.8 43.8h.01M490.4 41.5h.01M499.3 40.3h.01M502.0 61.1h.01M500.1 39.6h.01M495.3 45.6h.01M495.5 34.2h.01M498.1 36.9h.01M501.1 51.4h.01M497.5 55.5h.01M490.8 37.5h.01M501.1 51.7h.01M502.2 60.7h.01M500.1 43.2h.01M501.2 58.2h.01M492.0 32.9h.01M487.7 42.4h.01M500.4 60.7h.01M496.4 32.8h.01M493.2 39.5h.01M491.6 32.0h.01M494.2 37.6h.01M495.3 52.5h.01M498.1 45.8h.01M498.3 38.4h.01M494.7 35.9h.01M501.5 49.1h.01M496.5 56.8h.01M498.9 37.1h.01M498.3 41.8h.01M489.0 40.5h.01M493.1 36.1h.01M486.5 52.3h.01M495.4 35.8h.01M488.0 34.1h.01M492.0 33.3h.01M495.9 56.5h.01M499.7 47.7h.01M498.1 33.1h.01M492.5 44.9h.01M499.5 55.6h.01M497.7 59.5h.01M501.8 54.3h.01M500.8 51.3h.01M484.6 35.2h.01M497.8 52.2h.01M498.1 32.2h.01M498.3 33.7h.01M498.3 59.8h.01M499.1 43.5h.01M487.6 46.6h.01M501.4 48.1h.01M486.7 40.2h.01M496.0 50.2h.01M500.9 58.5h.01M487.9 30.0h.01M495.7 39.0h.01M496.1 60.7h.01M496.2 42.6h.01M500.3 39.7h.01M501.5 55.2h.01M499.8 38.8h.01M493.1 51.6h.01M498.3 43.8h.01M485.3 40.4h.01M489.9 37.6h.01M497.0 44.4h.01M501.2 55.2h.01M495.8 34.7h.01M501.7 54.5h.01M495.3 35.6h.01M495.0 33.8h.01M493.9 42.9h.01M499.3 62.0h.01M498.0 31.6h.01M499.8 51.4h.01M485.7 47.4h.01M500.2 59.9h.01M493.5 42.7h.01M498.7 40.8h.01M500.0 40.5h.01M493.5 28.5h.01M496.4 28.6h.01M498.0 59.1h.01M501.0 49.3h.01M493.9 45.3h.01M488.2 27.7h.01M490.9 49.7h.01M497.4 54.5h.01M493.8 48.0h.01M494.1 37.0h.01M499.8 38.9h.01M501.8 51.9h.01M496.1 44.6h.01M497.3 35.2h.01M492.5 56.6h.01M497.8 37.8h.01M487.3 33.4h.01M495.4 55.6h.01M496.2 49.7h.01M495.6 30.4h.01M500.3 54.9h.01M498.3 43.6h.01M488.7 31.8h.01M496.2 33.1h.01M489.9 49.2h.01M499.3 46.8h.01M498.8 55.3h.01M489.3 28.4h.01M493.3 29.4h.01M498.6 34.5h.01M493.0 32.9h.01M500.8 48.3h.01M494.1 44.4h.01M494.3 36.5h.01M498.8 40.7h.01M499.8 45.3h.01M498.6 42.0h.01M489.3 26.3h.01M493.9 37.3h.01M500.7 42.9h.01M491.5 32.8h.01M492.0 31.1h.01M489.7 29.6h.01M498.5 38.3h.01M498.9 38.5h.01M489.6 29.1h.01M500.3 57.2h.01M485.8 34.1h.01M499.7 58.1h.01M498.3 47.4h.01M500.6 40.8h.01M500.5 46.7h.01M499.0 41.9h.01M483.6 35.1h.01M493.6 37.4h.01M494.4 56.9h.01M498.1 39.8h.01M493.2 29.5h.01M496.8 61.8h.01M494.5 42.3h.01M492.1 51.8h.01M499.5 60.0h.01M494.0 55.9h.01M498.1 48.3h.01M492.1 48.5h.01M496.0 33.9h.01M495.2 41.8h.01M497.3 37.4h.01M490.4 35.4h.01M492.8 42.1h.01M499.8 40.0h.01M499.2 40.1h.01M497.4 36.7h.01M490.3 54.0h.01M494.1 57.2h.01M498.2 45.9h.01M497.8 50.4h.01M493.6 49.2h.01M499.0 50.2h.01M500.4 47.7h.01M498.9 40.2h.01M499.8 40.0h.01M488.8 46.5h.01M496.8 43.5h.01M497.9 40.6h.01M501.7 54.7h.01M496.7 51.5h.01M501.3 51.8h.01M488.8 47.3h.01M497.6 60.7h.01M494.6 31.6h.01M489.5 26.7h.01M488.8 33.3h.01M492.7 33.3h.01M495.3 45.1h.01M496.0 62.2h.01M493.0 54.2h.01M489.8 36.2h.01M495.3 39.1h.01M487.2 33.6h.01M500.3 50.6h.01M493.2 47.3h.01M500.3 59.3h.01M497.3 44.1h.01M498.3 60.4h.01M490.3 55.1h.01M490.1 26.3h.01M500.6 43.7h.01M500.2 46.4h.01M499.2 41.8h.01M495.1 41.5h.01M491.2 32.3h.01M489.7 44.1h.01M495.6 44.2h.01M500.3 57.9h.01M490.2 36.3h.01M487.7 33.5h.01M500.4 53.2h.01M501.9 57.3h.01M499.8 40.6h.01M497.1 40.3h.01M497.9 56.8h.01M492.6 50.9h.01M495.8 44.3h.01M498.6 53.9h.01M491.1 36.2h.01M491.5 25.8h.01M493.2 34.5h.01M494.5 49.0h.01M499.0 56.8h.01M496.0 37.9h.01M499.9 42.9h.01M493.2 47.2h.01M488.4 27.8h.01M499.7 37.7h.01M495.9 29.8h.01M489.4 30.5h.01M499.0 39.4h.01M491.6 28.6h.01M493.8 39.6h.01M491.0 45.1h.01M493.6 33.6h.01M499.5 48.9h.01M496.9 55.1h.01M500.4 56.3h.01M498.3 49.3h.01M493.1 41.3h.01M488.4 30.5h.01M495.8 30.2h.01M493.9 34.8h.01M498.0 60.9h.01M499.2 46.3h.01M501.6 51.9h.01M492.3 52.0h.01M485.4 51.5h.01M496.2 54.2h.01M489.1 35.4h.01M495.6 32.8h.01M489.3 58.8h.01M498.8 43.9h.01M497.0 41.3h.01M500.6 49.0h.01M493.6 35.9h.01M500.1 38.9h.01M490.6 34.9h.01M498.5 44.7h.01M501.4 46.6h.01M493.2 53.9h.01M499.4 56.5h.01M501.8 54.2h.01M498.9 42.7h.01M499.5 43.5h.01M497.6 35.9h.01M499.7 50.2h.01M492.4 58.9h.01M498.0 43.2h.01M494.8 59.9h.01M492.2 39.6h.01M498.4 37.1h.01M501.4 61.7h.01M495.4 33.4h.01M499.8 43.2h.01M494.6 36.6h.01M497.8 48.1h.01M500.5 45.4h.01M492.6 35.1h.01M486.8 45.4h.01M491.4 50.8h.01M497.6 53.3h.01M501.6 53.5h.01M495.7 32.3h.01M494.2 29.8h.01M501.6 57.8h.01M492.4 32.0h.01M497.2 33.1h.01M495.6 46.4h.01M497.4 32.0h.01M488.6 31.1h.01M499.8 54.6h.01M496.8 56.3h.01M500.0 41.4h.01M499.4 57.0h.01M487.6 49.3h.01M495.6 48.5h.01M498.5 41.2h.01M493.8 53.9h.01M499.4 50.0h.01M493.2 35.7h.01M498.8 43.4h.01M499.4 41.9h.01M496.5 36.7h.01M492.5 27.7h.01M500.8 51.8h.01M495.0 36.3h.01M497.7 55.6h.01M493.8 45.8h.01M491.5 34.1h.01M494.0 31.2h.01M495.4 43.2h.01M501.8 59.1h.01M500.7 43.5h.01M501.4 49.2h.01M498.5 55.4h.01M494.8 60.9h.01M492.0 33.0h.01M495.3 34.2h.01M493.9 35.6h.01M490.3 46.4h.01M494.2 36.6h.01M499.2 51.6h.01M493.3 35.7h.01M491.7 37.1h.01M498.8 60.5h.01M485.4 31.1h.01M487.2 47.3h.01M490.7 31.6h.01M497.0 49.8h.01M487.9 35.4h.01M494.3 31.6h.01M491.6 49.2h.01M499.2 38.0h.01M501.1 54.5h.01M498.6 39.6h.01M490.2 35.7h.01M501.7 54.5h.01M495.7 31.1h.01M499.7 46.1h.01M492.2 33.2h.01M496.9 41.9h.01M496.1 41.6h.01M493.7 38.7h.01M496.1 33.2h.01M499.2 55.9h.01M483.1 45.2h.01M485.1 47.5h.01M500.5 57.3h.01M494.1 34.5h.01M496.5 60.5h.01M491.1 32.8h.01M494.4 38.6h.01M493.3 31.1h.01M499.5 60.9h.01M498.0 46.4h.01M497.6 31.7h.01M495.5 32.8h.01M497.3 61.6h.01M499.7 38.3h.01M496.1 62.0h.01M494.4 31.0h.01M495.3 60.5h.01M487.8 57.9h.01M499.4 52.2h.01M497.2 36.4h.01M492.1 29.6h.01M488.9 36.3h.01M501.1 57.8h.01M498.0 42.9h.01M498.2 57.3h.01M501.0 53.6h.01M492.1 42.8h.01M500.7 45.2h.01M500.0 59.1h.01M495.7 54.2h.01M498.6 49.6h.01M488.0 28.5h.01M500.2 42.0h.01M497.3 34.2h.01M497.1 37.8h.01M488.1 32.2h.01M488.3 34.8h.01M491.6 32.3h.01M498.8 54.0h.01M497.0 32.3h.01M496.4 50.3h.01M499.6 59.7h.01M500.0 60.2h.01M494.2 40.3h.01M499.5 48.5h.01M495.3 33.8h.01M493.7 36.0h.01M493.6 27.5h.01M499.3 38.0h.01M494.9 35.9h.01M500.1 44.3h.01M500.2 43.1h.01M484.1 43.4h.01M497.8 46.2h.01M494.0 43.1h.01M497.9 47.1h.01M494.7 60.9h.01M488.2 44.6h.01M486.0 31.1h.01M493.9 31.2h.01M497.7 30.9h.01M499.1 58.7h.01M493.6 31.9h.01M498.8 60.3h.01M493.4 34.7h.01M500.2 45.5h.01M498.7 44.6h.01M497.2 42.7h.01M499.7 37.5h.01M497.2 37.4h.01M488.6 32.3h.01M496.1 36.5h.01M487.7 33.3h.01M500.0 53.3h.01M490.5 56.2h.01M497.4 44.0h.01M500.8 50.1h.01M494.0 38.7h.01M494.0 41.0h.01M490.5 51.9h.01M496.1 46.3h.01M502.1 56.9h.01M495.7 39.9h.01M498.5 59.4h.01M492.1 28.2h.01M488.5 30.1h.01M497.0 28.5h.01M489.3 27.0h.01M497.8 34.7h.01M493.0 31.2h.01M495.1 28.2h.01M488.9 40.5h.01M488.3 52.4h.01M497.7 57.6h.01M496.9 34.0h.01M496.2 35.8h.01M498.3 38.5h.01M491.5 42.0h.01M499.7 38.5h.01M497.7 42.8h.01M483.8 39.3h.01M492.1 53.8h.01M486.7 51.3h.01M494.2 32.9h.01M494.7 46.9h.01M495.0 36.2h.01M493.1 34.6h.01M497.7 30.9h.01M498.1 57.0h.01M497.6 48.9h.01M498.8 43.9h.01M494.1 56.9h.01M499.8 60.0h.01M496.4 31.6h.01M497.9 35.2h.01M495.0 43.0h.01M493.7 31.7h.01M499.4 60.0h.01M496.8 57.6h.01M492.3 30.4h.01M493.4 50.4h.01M493.4 47.6h.01M497.8 52.4h.01M492.4 27.2h.01M495.5 50.9h.01M494.8 55.6h.01M496.9 43.8h.01M491.2 59.3h.01M500.7 58.6h.01M491.3 28.3h.01M485.5 39.6h.01M496.5 35.3h.01M493.5 31.3h.01M499.0 52.7h.01M490.4 42.6h.01M497.0 31.2h.01M492.5 30.7h.01M502.1 60.8h.01M500.8 57.3h.01M500.6 50.6h.01M486.3 31.2h.01M493.4 41.0h.01M498.3 44.0h.01M487.5 33.3h.01M494.5 43.1h.01M497.2 39.0h.01M494.1 41.5h.01M498.7 38.1h.01M488.5 38.2h.01M494.7 48.7h.01M501.9 60.6h.01M493.4 57.3h.01M494.0 29.7h.01M494.5 27.6h.01M495.8 33.1h.01M498.3 46.6h.01M488.2 33.3h.01M493.4 33.7h.01M498.2 51.3h.01M498.0 31.3h.01M499.8 62.0h.01M493.8 35.9h.01M493.9 53.2h.01M490.4 35.6h.01M486.2 41.7h.01M501.5 62.5h.01M490.5 31.8h.01M496.3 46.1h.01M493.9 33.4h.01M489.7 51.5h.01M495.1 44.5h.01M495.8 41.2h.01M497.7 44.6h.01M498.7 50.8h.01M498.3 42.0h.01M500.7 46.6h.01M500.1 51.1h.01M492.0 45.7h.01M485.4 53.4h.01M495.0 37.5h.01M487.0 31.5h.01M492.6 30.2h.01M499.3 53.8h.01M500.9 44.6h.01M494.2 28.5h.01M496.8 35.2h.01M497.4 54.1h.01M489.2 35.3h.01M500.2 56.7h.01M484.5 49.7h.01M496.2 58.6h.01M490.4 33.5h.01M493.8 34.8h.01M495.7 39.4h.01M499.1 56.3h.01M492.8 30.5h.01M498.8 36.7h.01M489.6 35.6h.01M496.6 40.6h.01M499.6 46.3h.01M497.5 33.1h.01M495.4 52.9h.01M498.5 54.3h.01M502.0 56.1h.01M499.3 52.1h.01M495.5 52.5h.01M499.7 46.0h.01M498.4 57.0h.01M497.5 35.9h.01M484.8 31.8h.01M499.8 54.4h.01M500.3 59.8h.01M501.1 56.1h.01M496.9 52.3h.01M500.4 54.7h.01M498.9 39.0h.01M497.9 58.2h.01M497.3 36.0h.01M497.3 34.4h.01M497.9 37.0h.01M501.2 49.3h.01M500.9 53.1h.01M497.9 57.5h.01M493.1 32.1h.01M499.3 59.9h.01M494.3 45.8h.01M494.8 34.2h.01M492.6 35.5h.01M492.0 59.2h.01M494.8 32.8h.01M494.1 38.4h.01M498.6 41.1h.01M488.7 28.2h.01M488.5 30.6h.01M499.2 53.0h.01M500.1 52.2h.01M485.1 46.7h.01M501.5 56.7h.01M496.2 54.6h.01M488.3 48.3h.01M495.9 34.0h.01M500.2 46.3h.01M492.8 42.2h.01M491.9 35.6h.01M491.3 36.6h.01M499.3 50.0h.01M486.8 33.0h.01M493.5 51.2h.01M501.1 60.7h.01M493.7 37.3h.01M497.0 41.4h.01M500.3 54.2h.01M502.2 61.0h.01M500.1 45.2h.01M500.4 43.0h.01M497.9 36.3h.01M492.3 39.1h.01M494.5 38.8h.01M499.3 45.1h.01M497.9 52.4h.01M500.6 53.9h.01M490.4 34.8h.01M497.8 37.4h.01M492.6 33.4h.01M497.7 39.7h.01M497.8 37.2h.01M501.1 58.8h.01M488.6 35.0h.01M496.4 34.0h.01M487.1 28.4h.01M502.1 59.4h.01M498.3 39.6h.01M498.3 53.2h.01M499.6 48.1h.01M491.1 59.3h.01M499.5 38.7h.01M496.9 58.6h.01M498.0 37.2h.01M489.0 26.1h.01M497.3 44.0h.01M501.2 46.5h.01M496.8 46.0h.01M500.6 43.9h.01M501.8 59.0h.01M487.9 38.1h.01M497.3 56.4h.01M498.4 49.4h.01M497.5 42.1h.01M494.3 35.3h.01M488.6 39.5h.01M500.8 52.1h.01M498.9 43.7h.01M494.8 50.4h.01M498.7 38.1h.01M500.3 50.8h.01" stroke="#1d3570" stroke-width="0.85" stroke-linecap="square"/>
<path d="M508.5 42.5h.01M512.3 47.8h.01M526.7 42.9h.01M508.6 54.6h.01M529.4 47.3h.01M510.0 48.0h.01M526.7 46.7h.01M518.1 41.3h.01M525.7 42.5h.01M511.7 44.2h.01M515.0 57.8h.01M520.6 40.8h.01M531.6 47.2h.01M516.7 44.2h.01M513.2 35.5h.01M517.6 42.7h.01M510.7 59.3h.01M510.6 47.3h.01M529.6 43.6h.01M534.1 48.6h.01M510.8 49.0h.01M521.1 53.3h.01M530.2 44.3h.01M513.4 49.8h.01M508.5 43.6h.01M509.3 51.8h.01M515.9 44.3h.01M507.5 46.2h.01M526.9 47.8h.01M512.9 38.4h.01M507.2 60.9h.01M523.9 56.3h.01M513.3 43.3h.01M510.6 39.7h.01M515.5 60.5h.01M519.8 40.4h.01M524.2 49.0h.01M510.8 37.0h.01M507.3 54.8h.01M513.8 44.2h.01M510.9 45.5h.01M517.4 42.5h.01M512.8 55.3h.01M521.4 43.2h.01M509.0 50.1h.01M515.7 40.4h.01M515.5 52.8h.01M508.7 59.8h.01M508.4 39.4h.01M526.5 42.7h.01M519.4 44.8h.01M507.0 61.5h.01M509.3 46.3h.01M522.5 48.3h.01M525.8 49.4h.01M532.3 45.7h.01M526.8 54.4h.01M529.8 46.5h.01M528.8 58.7h.01M515.6 49.0h.01M524.5 46.2h.01M520.1 46.6h.01M523.0 47.4h.01M512.0 39.2h.01M513.1 41.8h.01M516.7 38.3h.01M521.9 47.8h.01M506.7 59.9h.01M512.7 47.2h.01M507.5 59.3h.01M528.2 43.6h.01M507.7 47.9h.01M511.0 45.3h.01M516.9 39.1h.01M511.5 52.0h.01M532.5 48.5h.01M524.2 46.0h.01M510.1 61.5h.01M530.9 47.1h.01M530.3 43.1h.01M513.8 48.0h.01M524.3 47.6h.01M510.7 49.3h.01M506.7 61.9h.01M520.5 44.7h.01M510.5 52.6h.01M513.9 40.8h.01M511.2 46.0h.01M520.6 40.9h.01M528.6 53.0h.01M515.9 40.9h.01M517.0 42.8h.01M515.1 53.2h.01M506.9 62.5h.01M515.0 48.0h.01M507.1 53.4h.01M520.7 43.6h.01M522.2 45.1h.01M510.7 54.5h.01M517.2 46.3h.01M527.7 51.6h.01M507.6 56.4h.01M513.8 53.2h.01M511.8 40.6h.01M525.2 56.0h.01M531.7 46.0h.01M519.4 46.9h.01M510.3 42.3h.01M524.6 45.2h.01M510.1 57.1h.01M513.8 36.1h.01M513.9 60.1h.01M532.1 45.8h.01M510.7 46.4h.01M511.3 41.0h.01M528.5 57.0h.01M509.6 56.6h.01M520.0 60.9h.01M518.3 44.0h.01M518.3 61.0h.01M512.3 36.3h.01M517.8 46.4h.01M516.3 38.1h.01M507.4 57.6h.01M510.8 54.6h.01M513.2 52.3h.01M514.3 45.2h.01M507.7 56.4h.01M512.5 57.4h.01M508.3 57.0h.01M509.1 40.0h.01M521.1 53.2h.01M534.0 44.5h.01M511.1 36.5h.01M523.9 55.0h.01M508.4 42.4h.01M513.2 54.7h.01M507.7 61.0h.01M511.8 48.7h.01M516.4 39.9h.01M513.5 43.5h.01M526.7 43.6h.01M509.2 49.0h.01M517.7 56.6h.01M526.4 60.6h.01M511.1 41.5h.01M511.9 38.1h.01M507.8 42.2h.01M526.4 49.9h.01M531.9 46.1h.01M515.3 56.2h.01M521.5 45.8h.01M517.9 44.0h.01M534.3 45.0h.01M507.7 50.3h.01M511.4 46.3h.01M509.4 53.8h.01M513.7 43.2h.01M515.6 37.5h.01M508.1 43.6h.01M518.8 44.7h.01M524.6 45.9h.01M528.3 48.1h.01M528.7 49.3h.01M513.8 44.4h.01M509.5 53.6h.01M514.0 40.7h.01M514.2 44.6h.01M520.4 39.3h.01M527.3 50.3h.01M529.9 45.2h.01M507.4 58.8h.01M523.4 43.8h.01M510.6 42.4h.01M514.6 49.6h.01M507.2 58.8h.01M513.3 45.6h.01M514.2 37.0h.01M532.0 46.4h.01M509.0 49.7h.01M520.5 41.5h.01M507.3 49.6h.01M526.4 45.2h.01M529.7 43.1h.01M511.5 39.8h.01M520.3 44.9h.01M526.5 51.0h.01M507.5 48.5h.01M510.8 45.6h.01M531.4 47.4h.01M513.4 50.7h.01M513.9 42.8h.01M513.2 54.4h.01M508.1 51.6h.01M529.3 47.7h.01M526.0 47.9h.01M518.8 45.5h.01M511.7 59.1h.01M516.1 55.5h.01M530.6 44.0h.01M520.4 39.2h.01M517.6 45.9h.01M509.0 46.3h.01M522.2 52.5h.01M522.8 50.4h.01M517.7 38.5h.01M528.2 49.2h.01M514.8 58.4h.01M514.7 56.2h.01M516.6 41.9h.01M525.4 47.0h.01M519.4 47.0h.01M531.7 45.6h.01M529.5 43.7h.01M523.3 41.7h.01M529.9 46.1h.01M512.5 42.4h.01M512.0 42.1h.01M513.6 43.8h.01M520.7 38.8h.01M514.6 39.0h.01M517.2 51.1h.01M524.3 45.7h.01M516.2 39.6h.01M510.7 36.5h.01M508.3 51.9h.01M521.7 43.6h.01M528.7 50.1h.01M523.1 42.6h.01M529.5 50.9h.01M522.2 42.1h.01M524.1 55.6h.01M514.6 39.9h.01M513.3 51.4h.01M509.4 38.7h.01M518.0 44.6h.01M521.0 57.7h.01M522.1 47.5h.01M529.8 48.9h.01M517.8 42.8h.01M525.7 43.4h.01M514.0 54.7h.01M508.0 55.7h.01M507.9 42.3h.01M512.1 37.2h.01M518.2 43.1h.01M523.2 45.8h.01M530.1 49.9h.01M508.0 50.3h.01M532.2 47.7h.01M508.4 49.6h.01M522.1 54.1h.01M529.9 43.0h.01M512.6 39.4h.01M519.8 51.0h.01M516.4 45.0h.01M532.2 44.1h.01M508.1 49.0h.01M530.3 52.7h.01M526.7 60.4h.01M511.9 40.6h.01M520.8 42.3h.01M519.8 46.2h.01M514.2 42.4h.01M527.5 51.5h.01M507.4 47.5h.01M508.0 58.1h.01M511.2 36.6h.01M509.3 51.3h.01M520.7 52.8h.01M524.1 50.2h.01M526.2 51.9h.01M514.4 38.7h.01M527.9 43.8h.01M516.0 41.8h.01M525.9 52.3h.01M511.1 50.2h.01M511.7 62.0h.01M514.7 43.0h.01M510.2 52.3h.01M512.9 39.2h.01M513.1 55.0h.01M512.0 38.4h.01M514.9 50.0h.01M508.5 47.7h.01M512.5 52.7h.01M515.4 37.0h.01M519.5 41.1h.01M513.3 41.2h.01M517.2 38.6h.01M525.7 49.4h.01M530.1 49.2h.01M528.9 58.4h.01M524.2 50.0h.01M509.9 42.7h.01M519.3 45.6h.01M520.0 58.2h.01M508.7 45.2h.01M514.5 42.6h.01M512.8 53.0h.01M531.5 47.0h.01M507.9 50.9h.01M511.0 61.5h.01M532.0 48.5h.01M523.8 43.2h.01M520.6 52.5h.01M512.6 57.1h.01M530.8 59.1h.01M511.6 56.9h.01M520.0 47.3h.01M509.3 46.8h.01M524.0 62.1h.01M511.9 43.9h.01M509.5 47.9h.01M515.4 43.0h.01M518.7 45.2h.01M514.9 42.5h.01M517.3 37.4h.01M507.7 52.6h.01M518.8 45.7h.01M512.0 42.6h.01M512.7 44.0h.01M532.1 44.4h.01M531.2 48.8h.01M529.7 46.7h.01M511.6 37.9h.01M525.7 44.1h.01M529.1 46.0h.01M507.8 43.9h.01M512.4 49.2h.01M512.7 36.5h.01M511.2 55.9h.01M510.1 44.9h.01M511.8 46.1h.01M513.0 41.1h.01M509.8 62.2h.01M510.2 40.9h.01M509.7 44.8h.01M528.9 46.5h.01M531.2 48.2h.01M511.5 54.5h.01M512.3 53.2h.01M509.0 50.5h.01M513.1 46.8h.01M531.8 47.5h.01M511.8 60.4h.01M528.9 56.4h.01M513.3 43.8h.01M516.1 46.9h.01M528.9 54.6h.01M513.0 38.7h.01M518.9 43.8h.01M512.1 37.9h.01M510.0 46.3h.01M518.2 42.5h.01M512.8 47.5h.01M532.9 40.7h.01M534.6 40.9h.01M531.3 48.2h.01M516.6 43.8h.01M510.9 42.4h.01M529.0 42.8h.01M513.3 54.8h.01M520.2 44.9h.01M517.3 39.0h.01M519.8 44.4h.01M511.0 38.5h.01M518.2 44.4h.01M516.6 47.3h.01M508.3 56.6h.01M512.2 41.9h.01M508.0 40.9h.01M511.1 48.8h.01M531.8 51.2h.01M507.8 49.0h.01M511.0 59.6h.01M510.5 44.0h.01M508.3 62.3h.01M532.1 43.1h.01M512.8 44.6h.01M509.2 41.5h.01M524.7 45.2h.01M507.4 49.0h.01M529.2 52.3h.01M530.1 50.2h.01M517.1 43.8h.01M534.1 44.4h.01M509.2 52.3h.01M527.0 52.9h.01M515.6 45.4h.01M523.5 42.6h.01M506.9 61.2h.01M507.2 58.3h.01M523.9 42.7h.01M528.2 49.2h.01M516.6 44.3h.01M519.5 40.7h.01M527.4 48.2h.01M523.5 44.0h.01M521.6 46.9h.01M525.9 46.9h.01M511.6 50.9h.01M515.1 60.7h.01M515.9 47.0h.01M522.3 53.3h.01M523.8 45.2h.01M529.8 43.3h.01M520.5 44.9h.01M531.7 50.2h.01M533.3 50.9h.01M515.7 42.2h.01M518.7 40.4h.01M521.5 44.9h.01M523.9 51.7h.01M518.3 50.0h.01M507.9 56.3h.01M510.4 61.9h.01M513.1 46.8h.01M527.7 47.6h.01M523.7 47.4h.01M507.8 56.0h.01M523.8 46.8h.01M508.0 56.6h.01M515.3 43.0h.01M524.3 44.7h.01M508.1 49.3h.01M510.5 43.3h.01M528.6 61.1h.01M508.6 56.7h.01M514.8 38.0h.01M512.1 51.3h.01M514.5 42.0h.01M528.0 55.0h.01M506.9 55.8h.01M527.1 45.3h.01M528.4 47.9h.01M519.5 40.1h.01M514.5 51.7h.01M507.5 60.0h.01M522.1 46.2h.01M524.9 62.2h.01M526.4 44.4h.01M529.4 54.5h.01M522.6 56.4h.01M508.1 53.6h.01M533.5 42.1h.01M525.7 48.1h.01M515.7 51.6h.01M509.5 62.3h.01M532.4 47.6h.01M517.6 61.9h.01M531.4 44.8h.01M516.6 54.3h.01M512.8 56.1h.01M517.7 43.7h.01M527.5 52.8h.01M518.5 39.8h.01M533.4 44.3h.01M529.5 45.6h.01M530.1 44.3h.01M516.6 47.7h.01M518.7 52.0h.01M521.0 46.1h.01M512.2 58.0h.01M515.2 48.8h.01M527.8 43.8h.01M515.1 43.3h.01M513.5 50.0h.01M524.6 48.4h.01M523.4 43.9h.01M515.6 56.4h.01M515.3 51.8h.01M521.6 46.0h.01M530.3 49.9h.01M507.5 59.5h.01M521.6 46.5h.01M510.0 44.3h.01M514.5 45.3h.01M515.4 36.8h.01M508.5 50.5h.01M525.0 59.6h.01M516.6 43.4h.01M516.9 44.0h.01M525.1 47.3h.01M517.1 47.4h.01M511.7 45.1h.01M515.7 40.2h.01M526.4 43.9h.01M518.6 43.8h.01M516.9 39.1h.01M514.0 47.8h.01M511.7 46.8h.01M517.3 58.2h.01M525.0 45.9h.01M524.0 44.4h.01M516.4 46.0h.01M528.2 49.8h.01M522.0 45.5h.01M508.2 41.1h.01M511.6 58.0h.01M531.1 46.0h.01M528.7 41.6h.01M532.0 55.3h.01M520.6 47.7h.01M511.5 40.6h.01M522.2 52.0h.01M521.6 41.2h.01M513.4 57.0h.01M529.0 52.2h.01M520.3 47.3h.01M509.9 58.5h.01M527.4 47.4h.01M524.4 47.1h.01M513.8 44.4h.01M521.0 39.4h.01M512.3 37.4h.01M521.5 44.8h.01M518.7 46.3h.01M512.2 44.8h.01M509.4 50.0h.01M521.6 58.5h.01M520.9 40.1h.01M511.6 40.8h.01M518.4 45.8h.01M513.4 36.7h.01M510.4 48.9h.01M511.7 50.4h.01M531.7 43.9h.01M509.6 37.8h.01M513.0 37.8h.01M509.3 47.8h.01M529.6 50.0h.01M508.4 44.8h.01M507.6 51.8h.01M520.7 43.5h.01M509.6 59.9h.01M533.7 40.8h.01M522.8 48.1h.01M520.3 47.2h.01M526.2 57.1h.01M534.1 46.3h.01M520.5 41.7h.01M530.3 46.5h.01M518.1 36.4h.01M516.6 38.7h.01M521.0 45.1h.01M532.0 46.1h.01M515.0 39.0h.01M512.8 61.5h.01M524.1 48.0h.01M520.3 52.3h.01M531.8 54.3h.01M510.6 59.1h.01M515.7 48.1h.01M507.8 58.7h.01M517.7 36.8h.01M512.2 38.6h.01M511.2 61.9h.01M512.8 43.4h.01M513.8 59.8h.01M522.7 60.4h.01M526.6 43.6h.01M518.2 58.6h.01M508.4 57.6h.01M508.6 43.7h.01M516.0 44.6h.01M519.5 54.9h.01M508.7 40.6h.01M509.6 50.9h.01M520.3 48.0h.01M522.6 42.7h.01M527.4 51.8h.01M513.6 44.9h.01M522.4 44.3h.01M518.5 41.5h.01M522.8 45.2h.01M534.0 47.4h.01M511.8 39.6h.01M507.3 61.8h.01M517.3 43.4h.01M514.2 39.9h.01M515.8 51.2h.01M531.1 47.1h.01M521.2 59.6h.01M512.3 44.9h.01M523.7 47.3h.01M524.8 56.0h.01M514.6 44.0h.01M509.6 52.0h.01M532.5 40.7h.01M518.6 39.0h.01M520.5 44.1h.01M523.8 50.7h.01M512.8 62.3h.01M513.8 51.2h.01M522.0 46.3h.01M509.1 46.0h.01M509.5 40.4h.01M532.4 52.0h.01M529.9 51.4h.01M525.2 50.8h.01M529.3 41.9h.01M506.9 58.8h.01M515.0 48.6h.01M515.5 38.7h.01M520.5 37.9h.01M518.0 46.3h.01M512.2 55.8h.01M511.0 37.8h.01M506.8 58.2h.01M512.3 41.7h.01M512.9 43.2h.01M522.5 47.0h.01M529.2 51.7h.01M513.6 44.2h.01M525.1 47.1h.01M507.6 50.1h.01M528.1 43.7h.01M519.2 47.0h.01M512.4 52.8h.01M519.5 42.4h.01M510.0 56.4h.01M517.2 38.8h.01M506.6 62.2h.01M518.8 57.4h.01M527.4 50.1h.01M508.5 59.3h.01M521.7 42.9h.01M532.1 50.9h.01M510.2 39.4h.01M516.4 55.1h.01M531.1 48.6h.01M516.6 46.9h.01M508.0 54.6h.01M531.1 57.8h.01M525.2 49.9h.01M513.0 53.1h.01M511.1 40.8h.01M525.1 43.6h.01M523.4 41.9h.01M514.7 41.9h.01M529.6 62.1h.01M526.0 48.0h.01M509.0 48.2h.01M512.7 59.8h.01M509.4 50.2h.01M511.3 39.9h.01M511.8 36.7h.01M507.9 54.2h.01M515.2 50.2h.01M521.9 47.1h.01M511.1 48.9h.01M515.9 52.5h.01M532.9 45.7h.01M534.3 40.8h.01M530.6 42.4h.01M508.4 50.4h.01M512.2 60.0h.01M517.2 37.1h.01M512.7 55.1h.01M513.7 44.4h.01M531.7 42.7h.01M512.3 39.2h.01M513.5 38.9h.01M524.4 47.1h.01M530.7 44.4h.01M532.0 43.5h.01M519.5 48.6h.01M521.7 45.5h.01M509.9 40.3h.01M514.2 41.8h.01M526.9 45.2h.01M523.0 44.0h.01M508.7 56.2h.01M518.5 46.5h.01M521.7 53.9h.01M516.7 48.2h.01M523.6 44.1h.01M521.4 44.1h.01M526.3 44.2h.01M509.7 51.8h.01M513.9 39.3h.01M514.8 40.7h.01M532.2 47.0h.01M508.7 48.4h.01M526.1 45.1h.01M509.5 46.3h.01M508.8 49.6h.01M510.9 48.5h.01M511.5 35.3h.01M507.7 56.5h.01M521.9 39.6h.01M515.6 42.6h.01M532.9 44.9h.01M507.5 62.4h.01M511.6 43.6h.01M523.5 51.0h.01M512.0 40.1h.01M526.5 44.4h.01M521.4 42.9h.01M506.8 60.2h.01M508.4 56.7h.01M513.6 43.7h.01M516.7 41.0h.01M534.4 47.3h.01M519.1 46.6h.01M511.7 40.6h.01M512.8 49.6h.01M525.2 44.6h.01M510.2 48.0h.01M520.4 50.0h.01M515.4 41.3h.01M509.4 58.3h.01M508.6 53.9h.01M525.3 55.3h.01M513.6 41.0h.01M508.4 44.0h.01M523.5 49.6h.01M512.8 53.7h.01M509.6 51.5h.01M508.8 46.4h.01M520.1 56.9h.01M527.4 51.7h.01M512.6 43.9h.01M518.1 48.2h.01M513.2 55.0h.01M518.2 41.4h.01M511.2 47.9h.01M531.1 46.6h.01M517.9 41.3h.01M516.9 58.8h.01M524.0 53.1h.01M516.6 53.7h.01M513.7 36.7h.01M511.3 61.9h.01M517.9 59.4h.01M509.1 43.4h.01M508.4 45.3h.01M522.4 46.2h.01M514.3 46.2h.01M528.9 44.3h.01M514.2 40.9h.01M510.2 44.1h.01M507.1 59.6h.01M527.8 43.9h.01M529.1 41.9h.01M512.5 42.1h.01M515.5 43.0h.01M508.3 49.2h.01M509.5 39.1h.01M524.7 46.3h.01M519.4 62.4h.01M520.7 44.4h.01M515.6 60.6h.01M526.5 48.7h.01M510.2 52.8h.01M523.7 43.6h.01M521.7 40.7h.01M510.1 50.9h.01M519.9 39.9h.01M520.2 50.7h.01M509.5 42.8h.01M515.4 43.4h.01M526.9 60.3h.01M516.4 40.1h.01M510.5 59.4h.01M516.7 44.3h.01M508.3 57.7h.01M529.7 48.5h.01M515.2 43.7h.01M518.3 47.1h.01M517.5 38.0h.01M529.9 45.7h.01M532.0 43.0h.01M514.7 41.5h.01M529.7 46.6h.01M514.0 47.6h.01M508.0 50.1h.01M521.1 47.0h.01M523.6 42.6h.01M516.8 45.6h.01M519.4 40.6h.01M513.5 60.9h.01M531.5 43.1h.01M512.9 39.8h.01M514.1 35.8h.01M521.2 55.7h.01M512.0 37.5h.01M525.6 51.9h.01M507.2 55.6h.01M519.1 54.9h.01M514.3 53.3h.01M514.4 59.6h.01M533.4 43.1h.01M518.0 43.1h.01M516.1 41.8h.01M521.0 50.8h.01M534.1 43.1h.01M512.3 51.8h.01M521.2 44.1h.01M510.1 41.6h.01M527.7 42.3h.01M515.6 42.5h.01M519.5 48.7h.01M508.9 57.2h.01M514.5 41.9h.01M523.5 43.0h.01M510.5 43.5h.01M510.4 55.0h.01M523.0 43.6h.01M520.4 45.0h.01M509.1 58.9h.01M530.2 46.6h.01M511.1 37.2h.01M524.0 59.0h.01M508.3 50.4h.01M528.8 45.7h.01M513.9 36.1h.01M510.6 58.7h.01M525.5 45.7h.01M508.0 50.8h.01M508.7 44.2h.01M511.1 40.8h.01M526.6 47.0h.01M523.9 46.3h.01M513.7 46.6h.01M515.3 43.6h.01M526.1 45.7h.01M532.3 43.1h.01M514.9 43.5h.01M514.1 37.0h.01M512.5 50.5h.01M531.6 45.1h.01M516.6 48.4h.01M508.0 42.4h.01M531.5 44.3h.01M519.4 39.8h.01M510.7 37.2h.01M515.6 53.5h.01M508.5 44.6h.01M522.1 46.8h.01M515.6 56.7h.01M513.2 37.5h.01M515.2 39.6h.01M512.4 43.8h.01M518.8 37.8h.01M510.4 53.8h.01M527.5 48.1h.01M527.5 44.0h.01M507.3 55.9h.01M526.5 52.3h.01M529.7 41.9h.01M513.0 42.3h.01M520.9 41.8h.01M514.0 50.6h.01M511.4 52.8h.01M530.0 54.6h.01M521.7 45.6h.01M519.6 51.7h.01M522.2 45.2h.01M507.8 54.9h.01M529.5 53.3h.01M531.2 49.6h.01M512.1 62.0h.01M518.2 49.2h.01M526.2 45.0h.01M522.6 49.5h.01M508.1 56.9h.01M521.2 45.7h.01M508.4 50.3h.01M515.0 44.0h.01M507.9 60.1h.01M522.0 42.6h.01M513.9 41.6h.01M511.2 35.4h.01M508.2 55.7h.01M517.0 38.4h.01M513.9 58.7h.01M514.3 37.9h.01M515.1 35.7h.01M508.6 47.5h.01M509.0 49.4h.01M531.4 42.7h.01M519.9 48.9h.01M519.1 40.7h.01M527.7 46.4h.01M509.2 41.5h.01M511.5 41.7h.01M513.1 57.5h.01M521.6 43.2h.01M518.0 48.6h.01M523.7 48.6h.01M531.5 41.1h.01M513.8 35.8h.01M511.5 40.4h.01M519.4 50.1h.01M518.8 50.6h.01M519.4 60.0h.01M511.0 42.1h.01M517.6 60.4h.01M513.2 37.0h.01M516.8 45.1h.01M516.9 37.8h.01M520.4 52.1h.01M531.1 41.7h.01M508.6 53.9h.01M517.5 43.8h.01M521.0 60.9h.01M520.1 47.3h.01M522.7 44.3h.01M507.0 58.1h.01M524.9 47.8h.01M516.9 43.8h.01M510.5 45.5h.01M509.1 58.7h.01M512.3 43.2h.01M511.9 61.7h.01M507.1 55.3h.01M514.5 54.3h.01M513.4 39.9h.01M528.8 45.4h.01M511.1 49.8h.01M524.7 47.7h.01M513.9 44.3h.01M511.5 35.2h.01M510.4 50.7h.01M529.9 52.4h.01M528.0 56.0h.01M532.7 48.1h.01M508.7 60.8h.01M518.8 37.3h.01M510.5 51.6h.01M528.4 51.4h.01M507.1 52.0h.01M518.3 57.5h.01M529.4 44.0h.01M510.8 45.4h.01M516.8 36.1h.01M520.7 38.2h.01M524.7 46.1h.01M509.9 61.7h.01M511.9 35.2h.01M529.9 43.1h.01M524.3 47.2h.01M526.2 44.9h.01M516.2 46.3h.01M521.5 54.1h.01M514.9 42.0h.01M516.3 40.2h.01M507.6 54.7h.01M525.5 50.9h.01M508.6 40.7h.01M510.1 44.0h.01M506.5 62.0h.01M523.4 62.5h.01M523.7 54.4h.01M510.2 39.7h.01M519.1 47.2h.01M516.5 37.1h.01M508.5 44.9h.01M507.2 51.2h.01M517.5 41.4h.01M507.7 43.4h.01M530.0 56.4h.01M519.4 42.5h.01M525.9 52.0h.01M511.6 46.2h.01M528.9 43.9h.01M514.9 42.0h.01M508.8 40.6h.01M523.1 46.6h.01M517.2 50.7h.01M522.5 42.6h.01M532.2 40.8h.01M512.4 42.2h.01M517.8 58.9h.01M511.4 39.9h.01M515.0 42.2h.01M524.0 52.2h.01M507.7 52.4h.01M518.2 52.3h.01M508.4 45.8h.01M509.4 42.2h.01M520.0 44.1h.01M510.8 37.6h.01M507.6 61.6h.01M531.6 45.2h.01M517.5 45.0h.01M527.5 45.8h.01M531.9 47.2h.01M531.8 55.0h.01M531.5 52.7h.01M510.9 56.2h.01M512.2 44.1h.01M513.0 39.6h.01M513.0 38.3h.01M525.7 51.3h.01M510.2 41.1h.01M517.2 37.6h.01M519.3 44.4h.01M519.3 43.1h.01M528.5 46.6h.01M532.2 48.7h.01M509.9 50.2h.01M517.5 42.7h.01M518.5 58.7h.01M519.8 43.9h.01M529.9 49.5h.01M510.3 38.7h.01M523.4 43.0h.01M513.6 40.1h.01M517.4 42.9h.01M509.2 58.5h.01M514.0 40.7h.01M528.5 50.4h.01M514.5 43.7h.01M514.7 38.0h.01M514.6 39.0h.01M509.9 37.8h.01M532.6 42.5h.01M509.7 43.4h.01M511.1 40.0h.01M508.2 46.3h.01M511.4 62.0h.01M517.7 51.4h.01M513.3 36.6h.01M529.2 48.8h.01M516.6 43.5h.01M526.3 44.4h.01M516.2 59.4h.01M523.4 43.0h.01M527.3 61.0h.01M523.3 44.2h.01M522.3 40.9h.01M527.1 42.9h.01M511.8 52.8h.01M531.1 49.8h.01M522.1 39.8h.01M513.1 48.9h.01M518.5 41.7h.01M517.0 36.3h.01M510.5 60.5h.01M507.5 56.0h.01M517.8 38.7h.01M508.9 55.4h.01M514.8 55.5h.01M512.3 40.7h.01M522.1 47.5h.01M517.3 46.9h.01M511.3 36.4h.01M519.0 46.6h.01M518.6 37.0h.01M519.4 45.4h.01M508.8 41.4h.01M517.7 43.9h.01M512.6 40.7h.01M514.5 37.3h.01M512.6 52.9h.01M529.0 43.4h.01M513.6 41.9h.01M522.6 47.2h.01M516.7 45.1h.01M527.2 57.6h.01M533.8 45.4h.01M532.0 45.0h.01M511.5 37.9h.01M527.0 53.2h.01M514.2 46.1h.01M511.0 37.3h.01M524.9 48.0h.01M513.5 54.4h.01M512.3 35.9h.01M511.0 62.3h.01M510.6 44.4h.01M525.5 46.9h.01M518.2 40.3h.01M514.3 44.6h.01M532.8 41.8h.01M520.0 45.2h.01M507.4 54.9h.01M509.6 62.0h.01M512.5 53.1h.01M507.9 62.2h.01M527.5 43.1h.01M513.4 38.2h.01M508.4 61.0h.01M517.3 41.8h.01M530.9 46.2h.01M526.2 51.1h.01M511.3 45.2h.01M515.2 37.4h.01M515.6 39.0h.01M508.6 60.5h.01M508.9 56.5h.01M512.3 54.9h.01M512.8 57.9h.01M509.7 44.2h.01M508.4 62.0h.01M532.7 50.0h.01M522.6 46.9h.01M517.4 37.4h.01M514.6 43.2h.01M520.4 40.4h.01M520.5 47.2h.01M514.8 41.2h.01M516.3 43.1h.01M516.0 57.4h.01M511.2 44.9h.01M511.0 50.4h.01M507.2 55.1h.01M513.4 43.7h.01M511.2 49.0h.01M522.4 45.2h.01M514.9 46.8h.01M509.7 42.7h.01M522.5 43.9h.01M533.5 43.6h.01M516.6 44.4h.01M530.5 45.0h.01M530.2 50.5h.01M521.2 52.2h.01M510.9 39.6h.01M533.2 42.4h.01M517.6 51.5h.01M511.1 48.1h.01M531.1 46.5h.01M532.2 46.9h.01M522.0 40.7h.01M513.2 42.3h.01M527.0 43.6h.01M526.5 44.2h.01M528.9 47.8h.01M530.7 44.0h.01M517.4 44.3h.01M520.1 46.9h.01M509.3 49.4h.01M517.9 42.8h.01M507.5 60.6h.01M516.9 43.7h.01M512.7 47.9h.01M511.6 47.0h.01M507.7 43.4h.01M528.7 42.9h.01M513.1 40.2h.01M513.9 48.0h.01M516.7 48.7h.01M515.2 46.5h.01M529.8 45.6h.01M525.9 51.7h.01M529.4 42.7h.01M524.1 43.6h.01M507.0 61.1h.01M522.5 61.1h.01M523.0 41.2h.01M522.4 45.0h.01M516.2 55.6h.01M508.7 39.2h.01M524.5 48.4h.01M517.0 40.7h.01M519.8 54.0h.01M519.1 38.4h.01M510.3 37.3h.01M524.4 47.1h.01M527.0 53.2h.01M519.5 43.8h.01M528.9 51.9h.01M520.6 44.1h.01M527.6 53.6h.01M529.3 48.4h.01M526.3 44.1h.01M508.0 46.2h.01M524.9 51.9h.01M526.1 42.8h.01M515.1 36.2h.01M524.8 50.4h.01M517.3 58.9h.01M518.1 47.8h.01M526.7 49.0h.01M510.3 47.1h.01M523.1 44.5h.01M508.5 43.5h.01M524.6 51.5h.01M508.0 55.5h.01M515.8 53.1h.01M510.8 46.2h.01M516.0 39.9h.01M516.4 37.2h.01M514.3 40.9h.01M530.4 41.4h.01M508.0 56.9h.01M512.6 39.2h.01M516.0 47.6h.01M508.0 60.4h.01M522.8 49.5h.01M510.0 43.5h.01M510.9 59.0h.01M508.2 44.1h.01M530.0 42.5h.01M508.7 39.8h.01M509.1 53.7h.01M508.7 43.8h.01M520.3 38.6h.01M517.3 40.9h.01M521.1 40.9h.01M518.5 48.9h.01M515.7 38.6h.01M516.1 37.5h.01M512.3 56.3h.01M510.4 57.0h.01M530.3 58.2h.01M528.0 44.5h.01M508.6 59.0h.01M533.8 40.9h.01M508.6 44.9h.01M513.8 38.9h.01M510.3 46.5h.01M533.3 44.7h.01M522.5 43.6h.01M511.5 40.4h.01M510.7 58.1h.01M523.6 57.9h.01M508.8 50.3h.01M523.2 45.1h.01M510.5 56.9h.01M520.2 45.8h.01M512.5 38.2h.01M511.4 56.8h.01M514.9 44.6h.01M512.3 53.9h.01M521.9 59.7h.01M520.5 43.5h.01M527.1 51.7h.01M512.9 57.5h.01M513.9 57.4h.01M522.2 49.1h.01M507.1 61.0h.01M526.7 48.5h.01M525.5 45.9h.01M518.8 50.8h.01M516.1 58.6h.01M532.8 47.5h.01M515.1 52.9h.01M510.5 40.3h.01M509.7 59.0h.01M507.9 56.8h.01M514.4 48.5h.01M510.2 60.1h.01M514.4 55.3h.01M507.6 47.4h.01M508.6 50.5h.01M516.0 41.3h.01M525.1 45.7h.01M509.2 44.0h.01M524.3 46.0h.01M509.2 45.1h.01M531.9 41.5h.01M507.4 53.2h.01M518.7 51.7h.01M512.2 44.8h.01M507.8 41.6h.01M523.0 45.1h.01M515.7 46.5h.01M532.9 43.2h.01M514.0 39.6h.01M531.5 44.1h.01M524.7 46.2h.01M520.6 45.9h.01M509.0 59.2h.01M519.3 38.1h.01M512.9 57.3h.01M514.0 41.9h.01M521.5 49.8h.01M507.9 52.1h.01M510.7 51.3h.01M508.9 44.0h.01M511.2 50.5h.01M516.0 37.6h.01M515.9 38.5h.01M526.3 50.1h.01M509.5 47.0h.01M514.1 35.5h.01M512.1 56.4h.01M507.1 53.5h.01M521.7 48.1h.01M509.3 58.5h.01M519.4 54.7h.01M521.8 41.0h.01M508.3 61.0h.01M527.6 46.8h.01M514.3 40.3h.01M523.1 44.7h.01M518.1 50.8h.01M519.4 50.3h.01M521.4 43.4h.01M507.6 43.1h.01M531.7 42.7h.01M509.7 41.3h.01M529.7 53.6h.01M527.1 53.7h.01M511.4 54.3h.01M516.9 41.8h.01M519.3 41.3h.01M508.0 56.0h.01M528.8 43.7h.01M509.2 58.1h.01M523.7 44.7h.01M507.8 42.0h.01M525.7 49.7h.01M510.1 60.6h.01M514.5 61.9h.01M513.5 57.9h.01M517.1 59.0h.01M521.9 46.4h.01M520.1 44.5h.01M519.7 45.8h.01M509.2 54.2h.01M513.2 37.6h.01M510.4 48.7h.01M508.9 49.1h.01M522.5 52.7h.01M515.3 44.1h.01M521.6 41.6h.01M521.8 51.3h.01M519.1 47.5h.01M519.5 43.4h.01M511.5 59.0h.01M513.9 50.2h.01M509.1 54.2h.01M516.3 61.6h.01M514.3 46.4h.01M510.5 54.7h.01M526.4 43.3h.01M521.6 43.6h.01M512.2 52.1h.01M530.8 43.8h.01M508.5 56.8h.01M511.9 41.0h.01M529.2 42.4h.01M523.9 45.0h.01M511.9 52.2h.01M520.5 43.5h.01M522.1 44.3h.01M522.9 43.4h.01M515.5 39.9h.01M507.4 57.6h.01M521.8 56.1h.01M521.9 48.7h.01M521.2 45.8h.01M510.9 54.8h.01M523.7 45.2h.01M517.1 55.9h.01M511.2 44.3h.01M519.0 40.0h.01M524.9 48.9h.01M509.8 37.6h.01M523.4 45.3h.01M511.9 57.3h.01M522.3 41.9h.01M530.2 44.0h.01M508.0 49.9h.01M524.2 46.3h.01M510.3 53.2h.01M517.3 50.2h.01M509.6 40.3h.01M528.5 49.1h.01M510.4 37.6h.01M513.6 39.5h.01M523.0 45.8h.01M509.8 49.7h.01M531.2 52.8h.01M523.0 45.2h.01M515.6 40.5h.01M507.3 56.8h.01M523.5 44.2h.01M509.5 51.0h.01M524.2 47.5h.01M511.3 48.3h.01M529.3 60.7h.01M518.8 39.0h.01M520.1 46.0h.01M523.7 51.8h.01M518.3 47.8h.01M507.4 49.6h.01M511.3 52.3h.01M517.4 41.4h.01M517.0 42.6h.01M507.7 60.8h.01M519.6 40.6h.01M507.5 43.9h.01M507.4 49.6h.01M528.5 50.0h.01M507.7 59.8h.01M530.8 46.0h.01M519.3 38.4h.01M511.6 38.3h.01M528.9 45.3h.01M520.4 40.1h.01M509.5 50.6h.01M512.8 41.3h.01M534.0 44.7h.01M508.8 55.7h.01M510.9 37.1h.01M511.7 39.0h.01M516.9 54.2h.01M530.6 45.2h.01M508.2 56.1h.01M516.6 53.6h.01M510.5 53.0h.01M528.9 48.3h.01M511.6 38.7h.01M511.8 49.4h.01M518.0 55.0h.01M509.7 54.4h.01M507.4 62.2h.01M523.3 54.8h.01M513.7 45.8h.01M509.9 46.0h.01M534.1 49.2h.01M528.2 51.7h.01M524.5 45.0h.01M511.7 37.1h.01M519.4 54.6h.01M519.3 51.5h.01M514.5 43.6h.01M512.6 37.2h.01M507.1 62.3h.01M516.6 40.5h.01M515.3 45.3h.01M507.5 47.1h.01M515.7 40.4h.01M506.6 61.4h.01M508.9 55.4h.01M521.3 47.0h.01M531.4 46.4h.01M519.7 37.2h.01M510.3 40.9h.01M519.1 48.3h.01M520.0 38.0h.01M522.0 49.7h.01M516.3 45.7h.01M517.8 36.7h.01M508.6 60.8h.01M526.4 49.9h.01M522.8 45.3h.01M531.4 45.4h.01M515.6 53.1h.01M524.6 50.9h.01M523.5 48.1h.01M527.9 57.8h.01M515.1 39.2h.01M507.4 54.7h.01M533.8 49.8h.01M508.3 42.7h.01M508.1 52.3h.01M509.3 45.6h.01M508.8 57.6h.01M515.8 60.4h.01M520.0 40.3h.01M529.6 50.9h.01M518.7 41.9h.01M518.9 49.9h.01M529.3 47.0h.01M510.8 55.2h.01M518.7 40.0h.01M523.3 50.9h.01M517.2 45.4h.01M527.8 55.8h.01M531.1 43.2h.01M510.5 45.5h.01M530.8 51.9h.01M531.4 44.7h.01M524.9 47.2h.01M528.1 47.7h.01M512.7 60.8h.01M507.6 60.8h.01M510.5 54.5h.01M519.2 49.1h.01M524.8 58.5h.01M512.9 43.2h.01M511.8 53.8h.01M525.8 44.7h.01M509.4 47.0h.01M519.4 56.7h.01M516.1 46.4h.01M509.5 46.8h.01M525.2 52.2h.01M510.7 45.7h.01M515.1 39.1h.01M533.9 47.0h.01M511.3 61.6h.01M509.1 48.9h.01M514.8 55.1h.01M530.1 41.2h.01M516.8 58.8h.01M518.2 43.4h.01M520.7 44.5h.01M507.5 50.2h.01M531.7 43.0h.01M527.1 53.5h.01M509.7 60.1h.01" stroke="#d8173c" stroke-width="0.85" stroke-linecap="square"/>
<text x="482.40" y="84.70" font-size="3.60" font-weight="bold" fill="#555" text-anchor="middle" stroke="#555" stroke-width="0.2" >-10</text>
<text x="505.00" y="84.70" font-size="3.60" font-weight="bold" fill="#555" text-anchor="middle" stroke="#555" stroke-width="0.2" >0</text>
<text x="527.80" y="84.70" font-size="3.60" font-weight="bold" fill="#555" text-anchor="middle" stroke="#555" stroke-width="0.2" >10</text>
<text x="463.20" y="22.30" font-size="3.60" font-weight="bold" fill="#555" text-anchor="end" stroke="#555" stroke-width="0.2" >5</text>
<text x="463.20" y="33.60" font-size="3.60" font-weight="bold" fill="#555" text-anchor="end" stroke="#555" stroke-width="0.2" >4</text>
<text x="463.20" y="44.80" font-size="3.60" font-weight="bold" fill="#555" text-anchor="end" stroke="#555" stroke-width="0.2" >3</text>
<text x="463.20" y="56.10" font-size="3.60" font-weight="bold" fill="#555" text-anchor="end" stroke="#555" stroke-width="0.2" >2</text>
<text x="463.20" y="67.30" font-size="3.60" font-weight="bold" fill="#555" text-anchor="end" stroke="#555" stroke-width="0.2" >1</text>
<text x="463.20" y="78.50" font-size="3.60" font-weight="bold" fill="#555" text-anchor="end" stroke="#555" stroke-width="0.2" >0</text>
<text x="543.20" y="21.50" font-size="4.60" font-weight="bold" fill="#111" text-anchor="end" stroke="#111" stroke-width="0.2" >Human</text>
<text x="480.80" y="90.90" font-size="5.74" font-weight="bold" fill="#000" stroke="#000" stroke-width="0.2" >log2(FoldChange)</text>
<rect x="380" y="85.1" width="78.2" height="64.0" fill="#fff" stroke="#cfcfcf" stroke-width="0.8"/>
<g stroke="#e3e3e3" stroke-width="0.5" stroke-dasharray="0.6 2.0">
<line x1="400.0" y1="85.1" x2="400.0" y2="149.1"/>
<line x1="411.6" y1="85.1" x2="411.6" y2="149.1"/>
<line x1="423.3" y1="85.1" x2="423.3" y2="149.1"/>
<line x1="436.0" y1="85.1" x2="436.0" y2="149.1"/>
<line x1="449.0" y1="85.1" x2="449.0" y2="149.1"/>
<line x1="380" y1="92.4" x2="458.2" y2="92.4"/>
<line x1="380" y1="105.5" x2="458.2" y2="105.5"/>
<line x1="380" y1="118.5" x2="458.2" y2="118.5"/>
<line x1="380" y1="132.7" x2="458.2" y2="132.7"/>
<line x1="380" y1="145.8" x2="458.2" y2="145.8"/>
</g>
<g stroke="#777" stroke-width="0.6" stroke-dasharray="0.7 2.6">
<line x1="380" y1="136.7" x2="458.2" y2="136.7"/>
<line x1="421.5" y1="85.1" x2="421.5" y2="149.1"/>
<line x1="425.2" y1="85.1" x2="425.2" y2="149.1"/>
</g>
<path d="M423.8 143.1h.01M423.0 137.3h.01M419.1 142.2h.01M414.8 138.5h.01M421.0 140.6h.01M418.8 142.7h.01M425.3 143.1h.01M415.7 139.1h.01M423.7 138.8h.01M430.7 137.4h.01M429.1 138.9h.01M421.4 144.9h.01M424.7 140.0h.01M423.3 145.2h.01M418.5 142.2h.01M426.5 143.3h.01M422.8 138.2h.01M424.9 138.2h.01M429.3 139.5h.01M415.6 140.0h.01M421.5 143.5h.01M423.8 140.4h.01M425.0 142.4h.01M432.5 136.6h.01M419.9 136.5h.01M424.2 138.7h.01M421.1 144.2h.01M424.2 143.2h.01M421.5 139.7h.01M431.2 137.3h.01M419.3 136.6h.01M428.9 140.1h.01M420.5 143.3h.01M426.0 141.8h.01M422.8 140.1h.01M418.5 141.3h.01M426.4 141.3h.01M426.0 137.7h.01M424.2 138.7h.01M417.8 137.3h.01M418.5 142.7h.01M421.8 140.0h.01M429.1 137.1h.01M416.6 136.8h.01M419.5 143.8h.01M425.1 143.2h.01M427.3 137.8h.01M415.6 137.2h.01M432.8 137.1h.01M419.2 142.3h.01M422.0 138.2h.01M425.4 137.3h.01M425.6 143.8h.01M422.9 139.8h.01M426.7 138.4h.01M426.4 142.9h.01M416.1 140.5h.01M423.8 142.0h.01M430.0 138.9h.01M424.7 141.3h.01M421.0 139.7h.01M427.0 142.1h.01M416.5 138.1h.01M417.0 136.8h.01M418.7 143.2h.01M415.8 140.0h.01M424.3 139.5h.01M424.6 138.9h.01M418.5 142.1h.01M420.2 142.3h.01M430.1 137.5h.01M416.7 140.1h.01M417.0 140.7h.01M419.2 136.6h.01M420.7 138.3h.01M430.0 138.3h.01M416.6 140.5h.01M420.2 139.3h.01M419.8 137.3h.01M418.0 139.3h.01M427.2 137.5h.01M423.3 136.8h.01M429.4 138.6h.01M425.7 142.9h.01M426.6 139.6h.01M423.9 140.4h.01M428.0 141.4h.01M421.2 145.0h.01M427.3 138.9h.01M424.9 140.5h.01M422.3 138.9h.01M421.0 138.6h.01M416.1 138.3h.01M417.4 138.3h.01M426.1 139.6h.01M424.7 141.3h.01M420.4 141.1h.01M421.3 138.6h.01M422.3 145.3h.01M420.4 141.7h.01M418.9 141.2h.01M425.8 141.2h.01M423.3 145.2h.01M419.8 138.6h.01M419.5 139.0h.01M421.5 139.4h.01M421.5 137.5h.01M422.4 137.8h.01M428.2 140.2h.01M426.9 142.7h.01M426.4 141.6h.01M424.2 137.3h.01M420.9 141.3h.01M416.8 138.2h.01M422.1 141.7h.01M425.4 138.8h.01M427.0 140.3h.01M419.6 142.6h.01M427.3 142.3h.01M420.9 143.2h.01M423.0 138.0h.01M423.1 141.0h.01M416.0 139.4h.01M433.8 136.6h.01M422.0 145.2h.01M422.4 138.7h.01M416.2 140.3h.01M431.4 137.4h.01M422.5 143.3h.01M417.7 139.4h.01M421.5 140.2h.01M429.8 138.4h.01M425.8 137.1h.01M419.3 138.4h.01M432.5 136.8h.01M424.0 138.8h.01M427.9 137.0h.01M423.4 138.5h.01M426.7 140.2h.01M415.9 136.5h.01M420.0 143.4h.01M413.2 136.5h.01M418.1 137.2h.01M429.1 136.5h.01M425.5 141.0h.01M416.5 140.4h.01M430.9 138.3h.01M432.9 137.5h.01M420.5 143.4h.01M420.5 144.5h.01" stroke="#808080" stroke-width="0.7" stroke-linecap="square"/>
<path d="M416.5 136.8L422.2 136.8L423.3 141.0L424.5 136.8L431.0 136.8L426.0 141.5L423.5 145.6L422.5 145.6L419.0 141.0Z" fill="#8f8f8f"/>
<path d="M406.5 119.1h.01M413.4 104.1h.01M415.9 100.8h.01M395.3 104.0h.01M393.5 92.4h.01M416.5 115.5h.01M399.9 120.7h.01M399.5 102.6h.01M389.4 98.9h.01M391.4 107.9h.01M392.5 106.3h.01M393.9 101.5h.01M413.1 128.9h.01M404.0 94.6h.01M416.5 112.6h.01M397.9 110.4h.01M406.8 94.9h.01M418.0 132.4h.01M399.1 108.8h.01M413.5 130.3h.01M404.7 123.4h.01M391.7 110.0h.01M396.8 112.9h.01M407.2 104.9h.01M391.3 100.0h.01M399.0 97.9h.01M418.7 128.6h.01M411.5 116.5h.01M412.4 125.3h.01M414.5 130.7h.01M408.7 98.3h.01M403.5 91.8h.01M406.3 118.7h.01M396.5 107.8h.01M394.5 95.4h.01M412.2 110.8h.01M412.3 126.2h.01M409.5 121.0h.01M416.8 104.3h.01M398.8 107.9h.01M387.5 103.0h.01M397.7 122.3h.01M415.3 116.9h.01M397.6 100.7h.01M419.4 136.9h.01M398.2 115.7h.01M388.5 100.9h.01M415.2 115.7h.01M416.6 123.9h.01M408.4 119.0h.01M390.0 106.4h.01M415.6 105.3h.01M417.2 126.7h.01M406.1 121.4h.01M391.8 95.4h.01M410.8 123.9h.01M411.8 103.5h.01M397.9 115.6h.01M388.5 98.8h.01M392.5 93.8h.01M403.8 108.0h.01M405.2 112.2h.01M417.0 124.4h.01M410.1 117.4h.01M395.2 105.0h.01M398.9 92.4h.01M399.5 119.1h.01M411.3 133.2h.01M404.4 101.9h.01M404.1 112.4h.01M410.5 129.3h.01M390.6 104.1h.01M409.5 113.8h.01M408.3 120.8h.01M408.4 113.9h.01M406.1 93.6h.01M397.7 110.9h.01M389.8 104.0h.01M395.4 112.7h.01M412.9 129.8h.01M404.8 124.0h.01M405.4 93.5h.01M398.8 121.3h.01M413.9 99.1h.01M410.6 110.3h.01M411.0 126.3h.01M410.0 127.4h.01M400.5 88.4h.01M416.4 130.5h.01M409.5 108.0h.01M397.5 97.9h.01M392.3 116.6h.01M410.1 124.5h.01M410.4 101.2h.01M384.7 100.9h.01M398.0 105.7h.01M414.9 135.8h.01M407.0 107.1h.01M415.0 134.4h.01M386.8 109.8h.01M398.0 98.1h.01M402.9 100.2h.01M410.5 135.1h.01M409.1 133.3h.01M401.2 116.6h.01M400.7 97.8h.01M399.7 87.8h.01M391.4 93.1h.01M412.6 99.0h.01M401.0 112.5h.01M387.8 101.3h.01M402.5 90.4h.01M397.8 89.4h.01M390.8 116.0h.01M402.5 101.3h.01M391.9 93.0h.01M414.4 107.3h.01M412.9 116.8h.01M397.3 115.2h.01M409.4 94.1h.01M397.4 117.4h.01M396.7 91.5h.01M395.6 101.6h.01M388.6 110.4h.01M409.4 123.3h.01M403.8 104.0h.01M415.0 121.1h.01M416.7 130.4h.01M416.2 117.7h.01M404.6 102.1h.01M417.1 125.2h.01M405.9 99.4h.01M393.7 110.5h.01M409.8 111.6h.01M415.5 99.3h.01M386.8 108.2h.01M413.2 121.9h.01M406.1 91.8h.01M412.6 108.2h.01M394.2 118.9h.01M389.4 101.2h.01M407.5 113.3h.01M415.1 135.5h.01M413.3 136.6h.01M390.9 97.1h.01M397.7 93.8h.01M403.8 92.3h.01M420.1 127.5h.01M415.4 125.2h.01M403.4 92.2h.01M417.3 126.3h.01M413.3 120.9h.01M400.5 101.0h.01M400.4 108.1h.01M389.8 114.5h.01M396.8 115.6h.01M397.5 88.1h.01M415.5 107.1h.01M394.4 94.3h.01M414.7 98.8h.01M413.8 116.8h.01M406.1 92.0h.01M415.6 121.5h.01M385.6 100.0h.01M392.4 109.1h.01M395.8 100.3h.01M408.4 132.7h.01M386.4 102.8h.01M393.7 90.0h.01M384.7 101.7h.01M394.3 95.5h.01M397.1 117.3h.01M414.4 133.9h.01M403.2 95.5h.01M400.4 118.5h.01M410.5 100.7h.01M417.1 110.6h.01M397.0 98.3h.01M401.9 110.9h.01M401.5 109.8h.01" stroke="#1d3570" stroke-width="0.75" stroke-linecap="square"/>
<path d="M444.6 113.3h.01M434.4 121.0h.01M436.5 129.8h.01M453.5 115.7h.01M444.3 113.2h.01M431.9 113.9h.01M432.7 136.4h.01M446.5 103.9h.01M441.7 114.9h.01M434.1 110.6h.01M435.9 109.3h.01M451.8 109.6h.01M434.3 136.3h.01M435.5 107.8h.01M432.7 112.8h.01M433.0 106.6h.01M440.9 98.7h.01M430.8 104.5h.01M446.5 115.7h.01M443.9 109.1h.01M441.7 126.4h.01M453.1 104.4h.01M446.6 98.5h.01M450.0 115.4h.01M440.1 107.1h.01M428.5 129.1h.01M433.5 115.8h.01M446.3 104.3h.01M453.5 102.0h.01M454.0 118.8h.01M446.2 121.5h.01M440.9 129.1h.01M433.4 126.2h.01M436.6 101.5h.01M443.0 126.3h.01M434.2 111.6h.01M436.8 112.1h.01M453.6 108.5h.01M436.6 133.6h.01M437.8 118.0h.01M442.9 122.5h.01M428.9 136.3h.01M430.9 110.9h.01M448.4 118.9h.01M444.1 101.1h.01M442.3 102.7h.01M437.3 130.1h.01M428.1 125.5h.01M451.0 98.3h.01M435.7 130.9h.01M434.9 126.2h.01M428.8 131.2h.01M439.0 127.8h.01M447.9 98.8h.01M435.4 104.0h.01M440.7 113.9h.01M431.6 136.4h.01M437.5 135.1h.01M430.9 125.5h.01M454.4 115.9h.01M429.1 134.2h.01M430.0 125.0h.01M435.1 124.0h.01M434.1 125.5h.01M438.0 125.8h.01M428.4 119.1h.01M442.0 120.1h.01M445.4 123.2h.01M441.2 124.1h.01M445.1 112.4h.01M444.6 117.5h.01M442.9 126.8h.01M442.7 103.7h.01M448.1 102.7h.01M443.6 98.1h.01M446.2 100.3h.01M454.5 103.4h.01M439.1 104.0h.01M448.3 107.9h.01M446.2 107.1h.01M434.5 101.0h.01M434.8 132.3h.01M447.0 115.6h.01M446.1 121.9h.01M436.3 110.9h.01M443.1 109.8h.01M435.2 120.2h.01M437.1 112.3h.01M440.9 107.7h.01M432.6 106.0h.01M444.2 115.7h.01M452.3 100.6h.01M432.2 134.2h.01M445.0 100.1h.01M439.2 132.3h.01M431.6 132.6h.01M447.6 103.5h.01M429.1 130.3h.01M448.0 101.4h.01M443.6 109.6h.01M452.2 116.5h.01M452.6 114.6h.01M428.4 115.3h.01M440.9 113.7h.01M435.6 107.9h.01M433.4 136.8h.01M455.6 111.3h.01M441.2 111.0h.01M439.6 103.1h.01M450.8 120.6h.01M440.6 99.2h.01M430.7 109.8h.01M428.7 120.0h.01M432.5 105.1h.01M447.2 102.3h.01M438.0 126.9h.01M438.4 104.3h.01M437.5 116.1h.01M445.3 99.2h.01M443.3 109.2h.01M435.0 110.8h.01M434.0 125.0h.01M442.8 113.2h.01M438.6 122.4h.01M442.8 119.1h.01M443.3 115.4h.01M436.2 131.1h.01M438.2 99.9h.01M435.7 111.1h.01M437.6 113.1h.01M433.4 134.6h.01M438.3 103.8h.01M449.4 117.9h.01M433.6 136.1h.01M445.4 120.2h.01M446.5 121.1h.01M453.2 111.2h.01M430.0 126.0h.01M438.5 101.9h.01M446.8 118.4h.01M443.3 117.1h.01M439.4 116.4h.01M430.8 112.3h.01M448.0 122.5h.01M450.9 100.2h.01M430.0 118.6h.01M433.0 101.2h.01M434.3 124.5h.01M430.8 118.1h.01M429.2 126.7h.01" stroke="#d8173c" stroke-width="0.75" stroke-linecap="square"/>
<path d="M419.3 117.0h.01M414.7 107.4h.01M417.5 116.7h.01M418.9 127.5h.01M419.2 135.9h.01M397.2 105.9h.01M408.1 98.4h.01M417.9 116.6h.01M411.7 108.3h.01M416.3 120.7h.01M403.4 99.7h.01M417.0 114.6h.01M411.9 107.2h.01M409.9 108.3h.01M412.2 124.1h.01M411.5 122.0h.01M412.5 103.0h.01M410.6 101.0h.01M409.2 114.9h.01M412.6 111.0h.01M419.1 134.0h.01M417.5 136.2h.01M408.3 100.8h.01M418.5 121.0h.01M402.6 113.5h.01M418.4 120.9h.01M420.3 135.7h.01M415.7 129.5h.01M418.6 127.7h.01M417.9 118.4h.01M413.0 108.4h.01M408.1 101.8h.01M418.1 132.9h.01M410.5 111.3h.01M412.5 113.6h.01M410.4 109.5h.01M416.1 116.5h.01M400.5 111.0h.01M416.7 125.0h.01M411.7 105.1h.01M413.0 104.6h.01M418.0 119.2h.01M402.9 98.0h.01M411.1 110.7h.01M408.0 101.9h.01M403.9 103.7h.01M415.2 113.4h.01M419.5 121.9h.01M413.7 108.9h.01M418.8 124.2h.01M415.1 108.5h.01M408.1 123.9h.01M412.1 104.7h.01M419.0 112.6h.01M413.4 106.1h.01M414.0 114.3h.01M412.9 102.6h.01M398.4 110.7h.01M414.1 117.0h.01M414.4 132.9h.01M415.3 114.2h.01M413.1 112.3h.01M410.0 111.0h.01M409.8 102.7h.01M420.4 135.8h.01M407.0 105.3h.01M405.6 107.3h.01M411.5 103.3h.01M411.3 108.8h.01M412.0 113.9h.01M398.8 106.9h.01M420.2 127.5h.01M420.3 127.2h.01M414.9 117.1h.01M416.1 111.0h.01M415.4 122.9h.01M418.5 115.2h.01M412.2 124.1h.01M415.2 113.8h.01M408.1 107.6h.01M418.8 135.7h.01M419.5 121.6h.01M407.3 106.5h.01M406.0 106.1h.01M398.3 107.4h.01M408.9 112.5h.01M411.6 101.1h.01M416.5 109.5h.01M421.2 133.5h.01M409.3 106.2h.01M416.8 134.2h.01M405.9 103.2h.01M403.1 109.6h.01M414.1 106.3h.01M419.5 118.9h.01M418.8 118.9h.01M412.6 116.2h.01M417.4 111.1h.01M409.8 102.3h.01M420.2 124.7h.01M405.8 110.7h.01M401.0 108.8h.01M419.5 130.1h.01M414.2 122.9h.01M405.9 102.3h.01M420.6 134.3h.01M397.0 105.1h.01M416.9 113.7h.01M400.2 101.0h.01M417.1 126.8h.01M415.9 121.1h.01M403.0 113.1h.01M409.6 123.4h.01M417.5 110.4h.01M414.3 114.0h.01M414.5 114.8h.01M413.3 106.1h.01M418.9 116.2h.01M411.3 120.9h.01M418.1 112.2h.01M415.7 130.5h.01M410.5 105.0h.01M406.7 99.2h.01M418.0 115.8h.01M409.5 114.2h.01M408.0 113.7h.01M419.1 130.3h.01M419.0 123.5h.01M419.0 113.4h.01M414.3 121.6h.01M418.0 121.4h.01M415.9 122.1h.01M402.5 99.8h.01M418.9 121.2h.01M417.1 133.0h.01M415.8 114.7h.01M416.6 110.5h.01M412.8 112.4h.01M416.0 114.0h.01M418.2 119.9h.01M416.2 131.9h.01M413.2 112.2h.01M401.8 114.6h.01M404.0 105.4h.01M414.5 109.2h.01M419.5 130.5h.01M400.2 112.4h.01M416.5 125.2h.01M418.7 125.9h.01M405.2 96.6h.01M415.1 107.6h.01M416.4 124.7h.01M411.6 107.6h.01M403.8 103.5h.01M396.7 99.8h.01M413.2 117.7h.01M417.3 127.9h.01M397.0 101.1h.01M415.3 115.1h.01M416.3 123.9h.01M416.4 115.5h.01M399.5 105.1h.01M406.8 98.9h.01M414.2 105.4h.01M418.6 117.7h.01M404.9 98.6h.01M417.0 116.9h.01M401.7 106.6h.01M418.9 133.7h.01M413.2 120.9h.01M414.9 127.7h.01M415.3 109.5h.01M418.4 128.8h.01M415.2 123.9h.01M414.9 106.7h.01M415.1 108.4h.01M409.3 114.3h.01M421.3 134.5h.01M416.3 106.8h.01M417.9 117.8h.01M406.3 103.5h.01M418.5 130.8h.01M399.9 113.6h.01M402.0 100.4h.01M414.7 109.2h.01M415.6 122.2h.01M412.5 105.8h.01M420.4 135.7h.01M399.6 112.5h.01M407.2 103.6h.01M419.2 133.5h.01M410.0 103.8h.01M417.2 115.3h.01M413.3 118.0h.01M417.2 127.2h.01M420.0 128.5h.01M419.5 125.7h.01M398.8 98.1h.01M416.0 119.2h.01M403.3 103.4h.01M419.0 114.0h.01M416.8 107.8h.01M404.0 102.4h.01M416.4 122.8h.01M401.2 98.9h.01M415.9 118.4h.01M414.9 116.6h.01M407.8 104.5h.01M416.3 112.8h.01M409.9 100.3h.01M407.1 101.9h.01M412.3 101.9h.01M403.1 110.5h.01M421.5 136.7h.01M404.4 96.0h.01M414.3 115.9h.01M420.7 134.1h.01M417.6 133.0h.01M415.6 109.4h.01M414.2 114.6h.01M417.8 122.0h.01M407.6 110.0h.01M416.9 108.4h.01M404.9 108.4h.01M413.3 107.2h.01M408.5 105.0h.01M417.1 107.9h.01M417.8 119.1h.01M418.1 127.6h.01M414.1 125.6h.01M420.8 129.8h.01M415.0 108.8h.01M418.2 112.1h.01M416.7 131.6h.01M418.6 125.1h.01M398.3 104.1h.01M413.8 107.8h.01M420.3 124.1h.01M416.9 127.4h.01M414.9 119.6h.01M419.6 120.4h.01M414.8 110.0h.01M414.4 108.4h.01M420.5 130.6h.01M418.0 112.6h.01M408.1 104.6h.01M412.2 103.8h.01M403.9 98.7h.01M413.4 106.8h.01M398.9 99.0h.01M417.0 108.6h.01M409.0 107.5h.01M412.4 116.2h.01M418.1 122.0h.01M410.6 106.4h.01M412.9 107.7h.01M413.9 116.5h.01M417.4 136.1h.01M416.0 115.8h.01M410.3 103.4h.01M417.5 135.4h.01M402.7 103.6h.01M409.9 103.3h.01M413.7 126.4h.01M408.9 110.0h.01M401.6 103.4h.01M413.6 104.2h.01M407.5 105.9h.01M400.1 108.7h.01M409.6 124.2h.01M410.6 117.6h.01M412.3 120.6h.01M411.8 102.8h.01M417.5 118.0h.01M418.8 113.5h.01M415.2 116.2h.01M420.1 123.6h.01M406.9 103.6h.01M413.4 104.4h.01M413.6 108.3h.01M416.9 122.4h.01M420.9 130.0h.01M417.9 124.9h.01M410.9 101.6h.01M415.0 131.2h.01M418.6 115.7h.01M412.0 102.4h.01M420.9 132.2h.01M403.3 104.1h.01M405.3 105.9h.01M415.5 129.9h.01M414.6 111.0h.01M416.1 107.9h.01M409.9 109.9h.01M418.5 124.2h.01M413.2 110.4h.01M416.0 131.2h.01M415.1 134.3h.01M419.4 126.9h.01M407.4 110.7h.01M417.9 133.0h.01M420.7 135.3h.01M418.9 135.9h.01M414.4 126.8h.01M410.2 102.7h.01M415.8 124.4h.01M411.7 101.4h.01M409.8 107.0h.01M420.7 135.8h.01M417.8 124.9h.01M399.1 97.8h.01M410.0 105.8h.01M419.5 131.0h.01M404.8 118.6h.01M414.4 106.5h.01M409.1 120.4h.01M419.2 136.8h.01M412.7 104.6h.01M408.7 117.7h.01M416.4 120.6h.01M417.8 121.1h.01M418.2 118.1h.01M408.2 112.9h.01M418.4 122.1h.01M403.8 109.5h.01M400.9 101.7h.01M411.2 114.1h.01M408.3 115.8h.01M416.9 120.6h.01M417.7 127.2h.01M416.6 116.3h.01M415.8 106.0h.01M417.9 119.6h.01M398.3 103.2h.01M418.4 115.4h.01M418.6 115.0h.01M413.3 121.3h.01M419.5 133.3h.01M411.9 119.0h.01M401.3 98.3h.01M415.4 119.5h.01M420.1 135.4h.01M417.7 112.3h.01M413.3 107.2h.01M409.4 103.7h.01M415.3 112.3h.01M412.8 103.8h.01M404.1 99.3h.01M410.7 106.8h.01M419.4 126.7h.01M408.8 110.9h.01M415.7 114.2h.01M407.6 106.7h.01M415.0 109.4h.01M401.7 108.7h.01M408.6 103.0h.01M413.0 107.2h.01M417.3 120.7h.01M420.1 125.3h.01M414.5 110.8h.01M419.8 123.6h.01M402.4 105.2h.01M416.4 117.7h.01M415.5 133.1h.01M418.5 136.2h.01M409.4 106.3h.01M416.0 130.6h.01M414.2 126.7h.01M420.2 132.4h.01M413.3 104.4h.01M399.0 100.1h.01M415.6 125.6h.01M417.3 117.5h.01M414.5 107.8h.01M415.5 128.0h.01M413.2 132.0h.01M419.3 113.8h.01M399.2 106.3h.01M414.5 104.9h.01M419.2 115.0h.01M408.4 121.9h.01M412.8 118.6h.01M418.4 113.3h.01M417.6 126.7h.01M418.9 135.7h.01M418.8 115.3h.01M417.9 118.4h.01M416.2 107.9h.01M420.8 134.7h.01M412.7 116.5h.01M419.2 118.8h.01M413.7 130.0h.01M418.0 121.1h.01M414.5 104.7h.01M406.9 100.8h.01M415.7 109.2h.01M418.7 111.2h.01M419.2 135.7h.01M416.9 108.7h.01M396.4 101.7h.01M405.6 100.6h.01M403.7 96.6h.01M418.8 116.1h.01M404.5 104.4h.01M407.6 97.9h.01M411.3 126.9h.01M418.9 122.0h.01M416.1 119.7h.01M408.1 105.2h.01M418.6 127.3h.01M420.0 134.6h.01M418.2 117.7h.01M412.9 118.4h.01M398.4 110.6h.01M416.1 124.3h.01M401.1 103.3h.01M412.7 102.2h.01M418.1 114.0h.01M414.5 114.0h.01M418.8 118.0h.01M399.2 103.6h.01M412.5 120.3h.01M413.6 122.3h.01M408.2 116.7h.01M407.1 105.2h.01M419.9 121.1h.01M419.0 136.8h.01M406.7 103.9h.01M417.9 135.8h.01M411.3 117.3h.01M409.1 101.5h.01M418.2 112.1h.01M405.0 98.4h.01M418.3 117.1h.01M403.3 103.6h.01M420.5 136.7h.01M411.3 106.7h.01M417.1 109.8h.01M416.6 121.4h.01M419.0 113.0h.01M412.0 103.3h.01M417.3 111.3h.01M412.4 104.8h.01M406.3 107.9h.01M415.2 109.4h.01M409.2 100.6h.01M399.5 105.4h.01M410.8 119.6h.01M420.5 125.6h.01M420.6 130.5h.01M409.7 115.1h.01M418.8 136.6h.01M413.1 119.6h.01M420.5 128.8h.01M418.6 135.9h.01M397.3 107.5h.01M418.7 119.4h.01M412.5 113.5h.01M410.6 109.4h.01M403.9 108.7h.01M414.8 114.9h.01M410.9 119.4h.01M408.6 123.0h.01M413.2 121.7h.01M417.6 115.0h.01M411.1 100.9h.01M418.7 113.9h.01M414.3 113.3h.01M407.6 107.5h.01M408.6 99.9h.01M415.5 108.7h.01M418.0 130.4h.01M401.6 108.3h.01M412.7 102.4h.01M416.1 111.2h.01M412.9 105.9h.01M408.0 114.7h.01M416.0 106.8h.01M414.8 107.8h.01M417.6 126.4h.01M419.6 118.5h.01M401.6 109.6h.01M416.3 107.1h.01M417.1 114.9h.01M415.7 121.3h.01M407.2 113.2h.01M407.1 101.5h.01M420.9 134.8h.01M416.7 112.1h.01M414.4 109.9h.01M408.7 104.7h.01M416.9 132.9h.01M410.6 102.7h.01M407.5 103.6h.01M402.3 118.3h.01M408.9 102.8h.01M412.8 110.3h.01M404.7 105.3h.01M416.9 115.3h.01M403.1 107.5h.01M397.2 99.5h.01M417.4 120.4h.01M417.7 118.1h.01M405.0 109.9h.01M412.4 129.6h.01M399.2 110.6h.01M419.4 132.3h.01M407.6 104.5h.01M414.9 127.9h.01M407.2 101.0h.01M400.7 110.9h.01M412.3 103.8h.01M411.6 104.1h.01M410.5 110.2h.01M413.3 110.8h.01M411.3 127.0h.01M408.6 106.0h.01M417.5 122.5h.01M416.7 115.5h.01M415.7 112.0h.01M415.6 116.0h.01M416.4 118.8h.01M417.8 116.8h.01M407.5 102.1h.01M399.4 103.2h.01M410.4 106.8h.01M416.7 110.6h.01M409.8 109.4h.01M401.1 107.0h.01M402.5 113.3h.01M405.9 109.9h.01M419.9 133.9h.01M413.0 114.7h.01M414.9 131.2h.01M416.2 108.9h.01M406.5 103.3h.01M420.2 136.9h.01M412.8 107.0h.01M405.9 96.9h.01M416.8 111.3h.01M412.6 108.9h.01M415.9 122.7h.01M411.4 100.4h.01M412.5 111.2h.01M403.5 98.1h.01M407.0 107.6h.01M406.6 103.4h.01M415.0 117.7h.01M418.2 131.7h.01M413.6 117.2h.01M416.4 112.4h.01M420.7 132.5h.01M412.5 110.1h.01M414.0 105.5h.01M405.7 107.5h.01M412.1 124.8h.01M419.1 122.9h.01M417.2 125.9h.01M409.7 125.4h.01M417.4 133.6h.01M417.7 136.6h.01M415.0 106.2h.01M419.9 130.1h.01M418.6 115.7h.01M415.1 111.6h.01M409.0 106.4h.01M405.1 112.8h.01M420.3 130.6h.01M419.3 127.4h.01M414.2 107.6h.01M420.7 132.4h.01M415.7 105.8h.01M413.7 116.6h.01M410.4 119.3h.01M412.3 111.4h.01M418.8 131.9h.01M419.5 118.3h.01M397.2 107.2h.01M411.3 122.6h.01M420.1 130.3h.01M414.3 125.3h.01M419.0 126.6h.01M406.8 110.8h.01M399.0 101.1h.01M412.6 131.7h.01M409.3 104.5h.01M418.5 127.6h.01M407.6 108.9h.01M416.6 116.3h.01M410.8 106.4h.01M417.1 112.0h.01M414.9 108.7h.01M416.5 111.9h.01M416.6 127.5h.01M418.0 127.7h.01M417.3 115.1h.01M417.0 132.1h.01M417.3 131.5h.01M415.8 110.6h.01M404.9 97.5h.01M419.1 120.0h.01M402.0 98.5h.01M414.8 107.6h.01M416.4 126.5h.01M403.6 113.3h.01M416.8 134.6h.01M408.4 99.2h.01M415.2 108.4h.01M418.4 110.6h.01M412.0 116.7h.01M412.6 110.8h.01M414.8 107.5h.01M403.5 101.9h.01M409.9 119.0h.01M417.7 129.9h.01M409.0 100.4h.01M404.4 101.9h.01M416.7 133.8h.01M420.4 131.0h.01M409.9 104.5h.01M402.2 105.9h.01M419.5 127.2h.01M407.1 121.0h.01M415.2 115.5h.01M420.2 124.2h.01M402.5 106.8h.01M414.2 106.2h.01M402.8 98.5h.01M408.2 102.3h.01M414.3 105.0h.01M413.9 128.5h.01M413.8 110.7h.01M411.1 105.0h.01M411.7 119.6h.01M409.4 109.2h.01M418.7 122.7h.01M411.9 111.8h.01M413.1 114.3h.01M418.1 113.2h.01M413.4 106.1h.01M403.1 106.9h.01M411.8 100.6h.01M398.8 105.3h.01M417.1 118.7h.01M408.3 103.7h.01M417.6 110.3h.01M417.7 124.3h.01M407.8 104.1h.01M412.4 107.3h.01M410.7 127.2h.01M412.9 112.2h.01M410.0 115.1h.01M420.2 129.3h.01M406.9 103.7h.01M410.9 105.0h.01M409.8 108.7h.01M397.7 109.5h.01M417.8 122.9h.01M399.9 113.3h.01M419.8 135.8h.01M398.8 105.8h.01M415.9 109.9h.01M415.2 133.6h.01M406.7 111.5h.01M413.1 108.9h.01M417.2 122.5h.01M415.4 121.7h.01M414.4 126.5h.01M402.6 103.1h.01M413.1 104.5h.01M411.4 101.7h.01M415.8 108.0h.01M407.7 109.0h.01M410.6 110.5h.01M410.8 104.1h.01M405.0 107.4h.01M412.1 115.1h.01M417.2 125.9h.01M412.4 105.5h.01M410.0 118.5h.01M407.4 100.6h.01M402.0 96.5h.01M412.3 106.5h.01M415.9 112.0h.01M418.4 130.4h.01M419.6 124.1h.01M421.0 131.1h.01M414.4 122.2h.01M412.1 110.6h.01M404.1 99.8h.01M411.9 115.8h.01M414.7 123.4h.01M408.6 107.9h.01M414.5 111.6h.01M406.8 105.7h.01M414.7 132.8h.01M421.2 135.0h.01M415.6 105.6h.01M415.4 108.8h.01M412.8 110.2h.01M419.7 123.5h.01M416.5 127.6h.01M407.7 100.8h.01M419.4 130.4h.01M413.1 102.7h.01M407.9 121.7h.01M410.0 100.0h.01M410.4 112.4h.01M407.6 103.1h.01M416.0 126.2h.01M407.5 110.8h.01M415.5 105.9h.01M416.4 113.3h.01M417.4 127.6h.01M408.6 124.9h.01M415.8 132.3h.01M420.3 137.0h.01M401.6 117.5h.01M418.5 130.0h.01M413.1 105.5h.01M418.2 109.8h.01M410.1 107.6h.01M402.6 97.7h.01M414.0 124.5h.01M416.1 119.3h.01M410.3 106.6h.01M408.3 100.7h.01M414.8 109.9h.01M408.0 105.5h.01M416.1 120.0h.01M410.6 126.7h.01M416.9 135.9h.01M414.8 129.9h.01M410.4 105.7h.01M418.0 112.1h.01M410.0 103.5h.01M417.4 134.0h.01M415.2 126.5h.01M409.6 99.6h.01M417.2 113.9h.01M418.5 119.2h.01M419.2 130.4h.01M414.7 120.0h.01M397.6 101.7h.01M405.7 121.3h.01M416.7 115.3h.01M416.2 106.9h.01M420.0 134.9h.01M409.5 128.4h.01M419.9 129.0h.01M414.2 113.0h.01M414.6 105.9h.01M401.8 108.7h.01M407.9 99.6h.01M418.3 137.0h.01M413.1 106.3h.01M412.3 105.7h.01M412.9 102.2h.01M418.0 129.9h.01M407.4 102.9h.01M417.3 109.2h.01M416.4 112.2h.01M408.3 104.0h.01M420.4 130.2h.01M404.5 108.6h.01M417.9 114.2h.01M416.4 133.8h.01M418.6 120.9h.01M418.5 136.3h.01M411.7 103.7h.01M419.0 119.2h.01M418.6 124.6h.01M417.8 130.7h.01M409.6 105.0h.01M412.4 108.7h.01M409.2 101.3h.01M419.2 118.6h.01M420.1 122.8h.01M402.2 106.0h.01M416.4 112.3h.01M416.1 134.5h.01M415.7 126.9h.01M411.2 101.3h.01M410.0 115.8h.01M413.4 110.2h.01M399.9 111.1h.01M411.5 108.7h.01M411.2 103.6h.01M412.2 103.1h.01M410.2 105.1h.01M420.1 130.8h.01M416.3 134.5h.01M403.9 107.5h.01M420.9 131.1h.01M417.3 120.4h.01M415.3 128.0h.01M411.0 103.9h.01M411.3 107.0h.01M415.5 120.6h.01M408.7 111.3h.01M402.1 101.8h.01M420.9 135.5h.01M419.7 134.6h.01M411.0 105.4h.01M414.2 112.0h.01M416.0 134.1h.01M414.6 132.4h.01M418.7 128.8h.01M406.1 99.4h.01M417.5 128.3h.01M416.1 134.2h.01M406.8 111.9h.01M404.3 108.4h.01M406.2 122.6h.01M404.6 121.4h.01M417.7 117.7h.01M416.1 118.2h.01M406.7 109.3h.01M412.3 110.8h.01M407.5 103.9h.01M417.1 127.6h.01M417.6 124.6h.01M414.8 109.3h.01M415.5 108.8h.01M418.9 114.2h.01M416.1 126.6h.01M407.8 108.3h.01M396.3 102.3h.01M405.7 98.3h.01M416.6 112.5h.01M401.0 99.1h.01M409.2 103.7h.01M413.4 126.1h.01M412.0 128.2h.01M419.6 126.9h.01M419.8 131.3h.01M416.6 110.4h.01M404.9 99.9h.01M404.9 115.6h.01M412.8 124.8h.01M416.3 116.6h.01M403.2 108.4h.01M413.2 106.5h.01M417.5 110.9h.01M418.2 124.8h.01M417.8 125.2h.01M418.4 126.5h.01M418.4 131.9h.01M420.4 134.4h.01M415.8 106.3h.01M419.1 124.5h.01M404.6 105.0h.01M419.2 119.3h.01M418.3 111.3h.01M414.1 116.7h.01M415.4 105.3h.01M410.8 106.6h.01M409.7 104.3h.01M409.4 104.2h.01M405.4 101.3h.01M412.1 107.4h.01M410.4 104.4h.01M420.2 129.6h.01M410.9 106.6h.01M415.6 113.3h.01M417.1 135.0h.01M420.6 129.4h.01M419.6 133.3h.01M406.0 101.4h.01M407.0 98.7h.01M415.6 125.2h.01M419.2 116.2h.01M416.6 129.7h.01M416.3 118.3h.01M411.2 109.4h.01M413.7 120.5h.01M409.2 100.8h.01M417.2 118.0h.01M402.5 106.6h.01M408.2 112.7h.01M419.9 133.3h.01M408.7 108.8h.01M416.5 116.8h.01M419.3 116.8h.01M411.2 102.6h.01M407.6 107.5h.01M400.8 107.4h.01M416.0 107.8h.01M418.2 123.2h.01M416.9 111.7h.01M408.2 102.2h.01M420.4 133.8h.01M408.4 100.8h.01M409.8 117.3h.01M413.3 104.4h.01M415.0 120.1h.01M405.1 109.7h.01M420.6 135.0h.01M412.0 128.2h.01M411.4 104.3h.01M417.8 124.7h.01M406.6 100.7h.01M417.1 127.5h.01M405.8 98.4h.01M409.1 101.4h.01M408.9 101.4h.01M415.8 107.4h.01M398.5 109.1h.01M411.3 121.2h.01M414.4 122.9h.01M402.2 100.2h.01M413.6 129.7h.01M417.3 122.3h.01M406.3 114.0h.01M420.8 129.7h.01M413.9 114.1h.01M410.9 112.9h.01M406.2 104.0h.01M409.1 99.8h.01M418.7 135.0h.01M416.2 114.1h.01M415.2 107.1h.01M412.1 128.2h.01M409.6 114.1h.01M407.7 112.8h.01M418.8 118.9h.01M402.9 101.3h.01M405.0 107.7h.01M407.9 116.4h.01M420.4 128.6h.01M418.6 111.1h.01M414.1 110.8h.01M405.2 106.1h.01M415.6 112.4h.01M412.1 120.8h.01M411.8 108.7h.01M404.3 105.8h.01M417.9 129.4h.01M419.4 115.2h.01M406.9 111.2h.01M406.0 108.4h.01M416.7 133.9h.01M420.0 127.9h.01M406.9 104.0h.01M418.3 110.0h.01M414.6 107.6h.01M415.4 127.5h.01M414.3 107.7h.01M413.3 123.2h.01M417.7 133.7h.01M408.1 106.9h.01M407.6 104.0h.01M418.5 115.5h.01M404.9 99.0h.01M417.2 109.4h.01M416.3 117.3h.01M415.5 121.3h.01M413.7 108.6h.01M416.9 109.2h.01M412.9 124.2h.01M409.4 104.3h.01M414.0 106.9h.01M416.5 111.7h.01M413.8 113.3h.01M418.5 116.4h.01M408.8 112.4h.01M416.4 131.7h.01M414.3 112.3h.01M420.9 134.3h.01M407.1 120.4h.01M417.2 117.1h.01M415.4 114.6h.01M406.5 110.6h.01M410.7 108.9h.01M418.5 122.8h.01M418.3 131.5h.01M414.3 120.6h.01M419.5 136.3h.01M419.0 127.9h.01M417.9 120.2h.01M410.2 104.5h.01M417.4 116.6h.01M418.3 110.7h.01M411.8 121.2h.01M410.6 116.3h.01M416.5 130.4h.01M410.0 103.0h.01M420.6 134.0h.01M409.4 100.9h.01M418.8 118.4h.01M410.6 119.9h.01M418.8 122.8h.01M410.5 119.1h.01M409.6 103.6h.01M419.4 126.5h.01M404.8 110.5h.01M417.1 125.8h.01M406.1 123.8h.01M417.4 124.5h.01M402.4 105.3h.01M411.9 103.9h.01M417.8 121.2h.01M407.6 100.5h.01M410.1 106.4h.01M409.0 110.2h.01M418.7 112.6h.01M411.9 117.7h.01M405.3 99.2h.01M413.5 122.1h.01M407.1 103.1h.01M417.3 115.8h.01M411.1 115.6h.01M413.8 106.2h.01M415.6 124.4h.01M414.7 106.1h.01M408.0 122.2h.01M416.4 110.2h.01M410.8 118.4h.01M412.6 115.9h.01M409.4 119.3h.01M419.1 122.4h.01M407.4 114.6h.01M412.5 105.0h.01M414.3 127.7h.01M417.4 127.9h.01M410.9 108.1h.01M411.3 106.0h.01M408.6 101.8h.01M420.1 129.4h.01M415.2 118.9h.01M417.6 111.9h.01M409.0 105.2h.01M420.5 126.8h.01M403.7 112.3h.01M399.3 111.9h.01M408.5 101.1h.01M419.1 120.5h.01M413.3 120.2h.01M406.9 106.7h.01M414.6 129.4h.01M414.1 112.0h.01M414.8 106.5h.01M413.8 117.6h.01M413.3 110.9h.01M419.2 112.8h.01M419.6 118.2h.01M401.2 109.9h.01M407.9 110.4h.01M419.7 133.7h.01M419.5 119.1h.01M414.3 107.1h.01M418.0 122.0h.01M417.3 113.2h.01M412.3 123.4h.01M407.1 102.9h.01M413.7 104.6h.01M418.6 132.8h.01M420.3 127.6h.01M412.5 108.7h.01M404.9 101.7h.01M412.5 117.6h.01M410.5 103.1h.01M415.3 120.9h.01M419.0 121.5h.01M406.3 105.5h.01M403.0 106.7h.01M408.7 103.9h.01M419.0 125.2h.01M416.9 121.9h.01M398.5 99.8h.01M418.4 130.0h.01M414.4 114.1h.01M420.9 131.8h.01M419.1 113.8h.01M418.6 116.2h.01M415.0 133.7h.01M420.0 136.1h.01M419.4 130.5h.01M397.7 106.5h.01M412.8 108.9h.01M418.0 130.9h.01M420.4 134.9h.01M415.9 115.1h.01M410.4 106.1h.01M416.1 123.1h.01M405.0 96.9h.01M411.6 104.7h.01M415.6 111.2h.01M415.6 129.4h.01M409.4 103.3h.01M416.7 108.5h.01M415.6 109.1h.01M415.6 108.2h.01M410.5 124.7h.01M407.4 105.7h.01M410.1 104.4h.01M419.9 132.4h.01M403.6 103.8h.01M415.0 108.0h.01M410.6 104.9h.01M413.1 112.3h.01M418.1 120.2h.01M406.6 108.3h.01M416.4 108.6h.01M419.1 135.1h.01M415.0 117.2h.01M411.8 100.9h.01M396.3 100.7h.01M418.2 121.5h.01M417.3 120.8h.01M405.4 116.7h.01M419.4 132.5h.01M409.1 108.0h.01M419.6 135.7h.01M415.5 131.0h.01M419.5 125.0h.01M412.2 130.2h.01M414.0 104.5h.01M406.3 107.1h.01M414.1 114.5h.01M418.8 116.3h.01M419.2 129.8h.01M415.7 118.2h.01M412.6 125.2h.01M420.5 134.2h.01M417.9 112.8h.01M408.1 105.1h.01M419.7 136.4h.01M413.1 117.8h.01M415.1 105.4h.01M419.7 133.2h.01M414.2 105.1h.01M419.8 123.4h.01M416.2 107.0h.01M414.9 107.7h.01M416.4 124.0h.01M417.1 124.6h.01M414.6 108.6h.01M405.6 101.2h.01M410.6 107.5h.01M411.4 119.3h.01M403.8 109.5h.01M405.6 101.4h.01M420.3 128.5h.01M410.4 99.6h.01M413.3 108.5h.01M403.5 96.6h.01M417.0 132.6h.01M416.4 113.2h.01M408.8 107.5h.01M405.3 104.5h.01M411.4 106.3h.01M417.0 124.8h.01M409.8 99.9h.01M405.4 101.4h.01M415.7 110.7h.01M416.9 122.4h.01M413.0 107.1h.01M398.7 111.6h.01M407.0 117.2h.01M414.2 127.9h.01M410.7 104.1h.01M397.2 101.7h.01M399.3 107.3h.01M410.6 111.8h.01M420.8 131.6h.01M414.4 106.0h.01M418.7 135.4h.01M416.7 130.2h.01M420.6 132.5h.01M410.1 115.5h.01M410.1 122.2h.01M418.9 132.1h.01M410.9 104.4h.01M404.2 102.1h.01M411.4 129.8h.01M412.0 119.9h.01M412.6 106.0h.01M416.8 114.0h.01M418.6 121.7h.01M396.8 103.1h.01M415.9 124.5h.01M407.7 98.9h.01M413.1 114.5h.01M419.1 113.2h.01M416.5 110.4h.01M407.5 98.8h.01M410.0 107.1h.01M415.8 124.4h.01M414.5 132.5h.01M417.4 110.4h.01M412.9 107.5h.01M408.8 108.3h.01M415.5 130.1h.01M414.0 123.5h.01M421.3 134.0h.01M402.9 105.2h.01M413.5 125.1h.01M420.3 135.5h.01M415.6 113.7h.01M409.1 114.2h.01M413.5 115.6h.01M407.6 117.8h.01M415.5 119.4h.01M417.5 116.4h.01M414.0 108.7h.01M409.6 102.9h.01M406.2 115.4h.01M415.7 112.4h.01M416.7 120.8h.01M417.3 116.5h.01M400.9 109.2h.01M418.4 133.4h.01M419.5 123.8h.01M412.2 112.2h.01M418.9 135.7h.01M418.4 111.8h.01M420.0 126.2h.01M419.9 133.8h.01M419.7 121.0h.01M409.8 113.2h.01M416.8 108.3h.01M414.5 126.6h.01M415.9 130.1h.01M403.1 100.5h.01M406.2 107.3h.01M416.8 130.9h.01M420.4 129.9h.01M411.0 116.5h.01M417.0 109.4h.01M415.8 114.6h.01M416.6 109.6h.01M414.3 109.7h.01M418.7 111.0h.01M415.8 127.9h.01M419.0 124.2h.01M410.9 104.4h.01M400.2 101.7h.01M398.4 108.7h.01M401.7 101.3h.01M415.0 117.1h.01M409.3 106.0h.01M398.5 110.8h.01M413.4 119.2h.01M414.0 123.8h.01M418.6 132.0h.01M419.5 118.6h.01M413.3 113.0h.01M410.3 113.6h.01M400.9 115.7h.01M400.0 103.5h.01M420.7 136.3h.01M408.9 111.0h.01M419.2 128.5h.01M399.7 103.7h.01M416.3 113.1h.01M400.1 105.3h.01M413.8 122.7h.01M418.1 112.3h.01M419.7 119.6h.01M418.4 115.2h.01M418.5 124.9h.01M416.5 107.4h.01M415.7 123.0h.01M402.4 118.8h.01M418.8 117.3h.01M398.9 100.7h.01M420.4 136.5h.01M405.9 99.8h.01M402.6 107.8h.01M419.4 136.8h.01M410.4 104.1h.01M418.1 121.9h.01M414.0 121.0h.01M419.7 118.0h.01M418.4 127.4h.01M419.3 129.7h.01M406.6 105.7h.01M405.8 103.4h.01M400.9 97.6h.01M417.4 114.3h.01M416.1 117.1h.01M413.2 122.0h.01M421.1 132.1h.01M414.3 129.9h.01M412.4 104.8h.01M417.3 114.8h.01M414.2 109.2h.01M420.0 128.6h.01M403.9 107.6h.01M410.1 99.4h.01M410.6 119.9h.01M408.7 102.4h.01M413.8 113.6h.01M415.8 113.2h.01M408.2 104.9h.01M421.2 135.0h.01M409.2 100.2h.01M403.4 102.7h.01M403.4 120.6h.01M410.2 103.5h.01M418.3 130.5h.01M397.4 104.5h.01M416.6 113.1h.01M413.9 132.8h.01M417.9 119.6h.01M414.3 115.5h.01M406.9 98.3h.01M418.1 121.1h.01M418.0 115.3h.01M414.6 111.7h.01M415.0 116.7h.01M407.7 105.4h.01M411.8 111.7h.01M414.7 109.0h.01M406.4 101.1h.01M412.1 107.8h.01M417.8 112.5h.01M406.9 98.8h.01M413.6 125.5h.01M421.2 136.7h.01M409.5 116.9h.01M418.6 120.2h.01M419.7 119.7h.01M414.3 121.8h.01M407.7 115.9h.01M402.0 100.8h.01M414.0 122.9h.01M419.9 120.5h.01M408.9 104.1h.01M411.0 116.6h.01M412.4 125.1h.01M411.4 107.9h.01M418.3 117.8h.01M413.0 111.5h.01M416.5 118.8h.01M420.9 132.1h.01M405.4 109.9h.01M411.5 108.8h.01M412.5 116.7h.01M413.2 128.4h.01M409.2 104.7h.01M415.0 133.2h.01M401.1 107.4h.01M410.6 106.9h.01M399.4 105.2h.01M418.6 124.8h.01M408.2 101.1h.01M415.9 117.3h.01M413.1 117.2h.01M416.3 123.1h.01M419.1 116.3h.01M402.7 111.7h.01M417.5 127.3h.01M402.6 110.2h.01M420.8 134.3h.01M410.7 112.4h.01M408.0 108.5h.01M417.1 129.4h.01M397.8 102.5h.01M416.4 130.8h.01M409.2 102.4h.01M419.9 121.0h.01M412.0 124.5h.01M408.9 117.4h.01M408.8 102.4h.01M408.6 101.8h.01M408.4 102.2h.01M411.3 100.2h.01M416.7 120.8h.01M413.5 105.7h.01M408.3 121.9h.01M405.8 105.2h.01M415.0 106.4h.01M416.5 117.7h.01M408.4 99.5h.01M419.6 131.0h.01M421.2 135.9h.01M417.6 123.3h.01M400.9 103.3h.01M410.4 116.7h.01M415.9 115.5h.01M410.9 103.2h.01M406.9 117.0h.01M406.6 112.1h.01M420.6 130.6h.01M408.5 114.3h.01M415.7 108.0h.01M406.5 97.4h.01M417.9 110.9h.01M417.8 121.2h.01M413.4 126.0h.01M416.6 124.3h.01M417.9 129.7h.01M404.2 105.0h.01M416.1 121.0h.01M414.5 106.6h.01M407.1 112.1h.01M411.3 117.9h.01M415.3 117.4h.01M418.7 134.3h.01M419.2 117.7h.01M416.1 115.6h.01M417.3 120.9h.01M420.7 132.9h.01M413.6 132.5h.01M409.3 105.5h.01M415.1 104.9h.01M410.3 109.1h.01M408.3 106.4h.01M418.0 124.5h.01M413.7 130.3h.01M418.5 129.8h.01M419.9 125.2h.01M416.0 111.6h.01M419.0 114.0h.01M414.8 112.2h.01M406.0 104.4h.01M418.0 132.1h.01M415.4 134.6h.01M417.3 109.3h.01M415.3 110.9h.01M411.4 117.4h.01M412.5 106.1h.01M399.4 107.5h.01M418.7 110.7h.01M396.6 101.5h.01M402.7 108.9h.01M406.6 103.7h.01M417.5 120.9h.01M416.0 133.6h.01M413.5 112.6h.01M408.8 113.4h.01M409.7 99.8h.01M415.2 120.4h.01M399.5 102.8h.01M419.0 130.6h.01M413.0 118.9h.01M420.8 135.2h.01M411.5 103.4h.01M419.5 127.6h.01M408.8 104.5h.01M418.7 116.5h.01M408.7 104.2h.01M403.3 106.6h.01M414.1 107.9h.01M410.4 103.6h.01M411.9 102.9h.01M397.4 100.2h.01M416.5 127.2h.01M412.4 105.3h.01M420.3 129.9h.01M416.1 109.5h.01M411.8 112.4h.01M400.3 106.2h.01M419.0 122.9h.01M396.7 105.0h.01M411.3 108.2h.01M415.4 112.4h.01M412.5 108.0h.01M420.2 127.5h.01M409.8 105.0h.01M406.0 115.2h.01M408.8 103.8h.01M413.3 104.5h.01M400.0 97.7h.01M420.0 127.1h.01M418.0 114.0h.01M411.7 114.5h.01M411.9 118.6h.01M413.4 127.8h.01M421.1 134.9h.01M414.7 109.0h.01M407.5 101.0h.01M416.6 120.7h.01M418.9 114.8h.01M417.5 117.7h.01M420.4 128.6h.01M420.1 123.2h.01M409.8 101.8h.01M416.9 123.8h.01M420.3 124.4h.01M411.3 112.2h.01M412.3 107.0h.01M401.7 108.5h.01M407.9 107.9h.01M412.7 103.4h.01M412.2 101.2h.01M411.2 105.7h.01M411.8 115.7h.01M404.5 97.4h.01M411.7 107.8h.01M413.8 105.9h.01M416.0 107.3h.01M419.6 119.3h.01M412.8 110.6h.01M420.3 134.8h.01M420.3 131.9h.01M416.9 115.5h.01M420.3 134.0h.01M410.1 104.0h.01M416.6 112.3h.01M419.1 126.5h.01M406.7 106.5h.01M416.1 123.2h.01M412.8 110.5h.01M407.1 101.7h.01M412.3 113.1h.01M419.0 132.0h.01M418.5 134.4h.01M405.9 105.0h.01M414.4 113.3h.01M411.0 102.2h.01M413.3 126.4h.01M419.0 133.0h.01M418.4 115.7h.01M414.2 128.8h.01M418.8 130.2h.01M412.3 122.5h.01M411.4 111.7h.01M421.0 136.8h.01M413.4 108.4h.01M411.7 105.9h.01M405.6 97.2h.01M406.8 104.5h.01M415.1 126.4h.01M407.6 104.9h.01M416.6 128.5h.01M405.7 103.3h.01M416.4 119.8h.01M409.5 101.3h.01M416.2 109.1h.01M417.6 109.9h.01M418.4 127.1h.01M410.0 128.5h.01M420.5 128.7h.01M420.3 123.5h.01M416.6 132.6h.01M409.8 101.8h.01M419.9 124.7h.01M407.3 100.6h.01M420.5 136.6h.01M420.3 128.4h.01M407.8 123.5h.01M416.1 117.7h.01M415.0 113.8h.01M418.2 111.2h.01M417.7 127.8h.01M406.7 104.8h.01M409.7 104.1h.01M400.7 99.3h.01M404.1 105.0h.01M418.2 131.3h.01M410.7 107.6h.01M420.2 135.8h.01M413.6 118.3h.01M412.1 125.1h.01M419.4 128.8h.01M413.4 118.3h.01M415.2 130.7h.01M415.2 107.0h.01M403.0 105.2h.01M415.4 119.9h.01M415.4 110.7h.01M417.4 120.6h.01M414.1 108.0h.01M404.4 106.5h.01M409.7 118.0h.01M419.4 135.9h.01M410.9 109.9h.01M405.5 99.5h.01M417.7 113.5h.01M411.9 108.3h.01M406.4 108.0h.01M410.6 102.5h.01M416.0 125.7h.01M416.0 129.0h.01M414.4 118.9h.01M416.0 127.4h.01M414.6 130.7h.01M416.7 114.0h.01M399.3 103.7h.01M417.5 113.1h.01M406.3 106.6h.01M402.8 111.6h.01M410.0 100.3h.01M417.7 113.5h.01M415.4 134.7h.01M414.9 109.8h.01M418.0 113.8h.01M401.0 96.7h.01M413.1 127.2h.01M419.4 128.2h.01M414.9 111.8h.01M409.2 111.6h.01M408.5 105.6h.01M413.1 114.0h.01M409.7 103.2h.01M412.4 112.1h.01M413.5 103.7h.01" stroke="#1d3570" stroke-width="0.85" stroke-linecap="square"/>
<path d="M443.0 116.0h.01M437.2 113.1h.01M446.5 113.6h.01M434.1 109.8h.01M427.4 125.5h.01M431.7 117.6h.01M434.0 112.0h.01M436.6 107.7h.01M428.9 118.1h.01M435.1 110.0h.01M431.8 126.5h.01M441.1 104.9h.01M446.3 115.0h.01M434.0 113.0h.01M436.7 110.3h.01M430.5 121.3h.01M450.7 108.0h.01M428.4 111.4h.01M434.2 111.3h.01M440.1 109.1h.01M439.4 110.7h.01M434.8 124.6h.01M433.7 115.4h.01M427.1 125.8h.01M444.9 104.1h.01M442.1 108.0h.01M433.1 120.4h.01M428.8 112.1h.01M435.0 103.8h.01M436.0 125.5h.01M431.6 113.9h.01M427.4 121.6h.01M431.8 109.1h.01M427.6 133.0h.01M444.5 120.4h.01M438.9 109.9h.01M448.9 105.8h.01M431.1 110.9h.01M441.2 110.3h.01M427.1 131.1h.01M428.4 131.3h.01M433.4 131.4h.01M443.8 111.5h.01M447.2 104.8h.01M428.6 118.9h.01M439.0 109.4h.01M435.2 123.2h.01M430.4 115.8h.01M440.7 108.3h.01M429.5 132.3h.01M428.2 135.1h.01M426.8 130.1h.01M439.3 106.9h.01M439.2 109.3h.01M428.8 118.5h.01M427.2 134.6h.01M435.0 124.6h.01M431.7 135.8h.01M432.7 127.9h.01M441.0 115.1h.01M451.3 107.1h.01M450.3 109.8h.01M430.5 120.7h.01M427.2 128.2h.01M437.1 132.6h.01M434.3 110.8h.01M443.2 119.9h.01M429.7 127.3h.01M450.5 104.2h.01M432.1 123.6h.01M428.2 130.5h.01M433.5 111.7h.01M448.2 105.1h.01M436.7 111.5h.01M438.2 117.7h.01M436.4 112.5h.01M431.5 111.2h.01M441.4 104.6h.01M436.2 129.6h.01M426.8 132.7h.01M431.0 135.6h.01M440.8 110.4h.01M433.0 129.7h.01M432.4 123.4h.01M429.2 121.0h.01M442.1 105.7h.01M426.7 129.3h.01M448.5 115.1h.01M436.0 117.7h.01M437.5 109.6h.01M430.0 123.3h.01M427.8 124.5h.01M434.1 113.3h.01M437.6 110.5h.01M432.1 107.1h.01M431.6 114.6h.01M448.4 111.1h.01M436.7 109.2h.01M450.8 110.2h.01M436.0 121.4h.01M432.9 126.9h.01M444.3 106.0h.01M450.5 106.1h.01M432.1 111.9h.01M430.0 116.0h.01M442.6 127.7h.01M434.2 113.2h.01M432.6 128.6h.01M452.2 109.2h.01M435.4 105.4h.01M434.7 132.3h.01M431.2 130.2h.01M438.1 110.9h.01M431.0 115.3h.01M434.1 118.6h.01M429.9 122.1h.01M442.6 111.0h.01M434.2 127.0h.01M445.9 105.4h.01M429.8 115.3h.01M427.0 133.1h.01M430.0 126.5h.01M433.1 111.9h.01M431.2 121.1h.01M428.6 124.8h.01M448.0 111.1h.01M435.9 131.9h.01M435.8 107.8h.01M445.7 115.3h.01M429.1 125.1h.01M448.3 114.9h.01M434.8 131.5h.01M438.0 115.1h.01M445.0 104.5h.01M428.3 133.0h.01M426.7 136.2h.01M436.2 110.3h.01M447.5 119.1h.01M439.0 108.5h.01M451.8 106.2h.01M447.0 107.2h.01M450.9 105.1h.01M428.9 121.2h.01M426.1 136.2h.01M430.7 120.4h.01M433.1 126.4h.01M435.7 129.9h.01M428.0 127.7h.01M439.0 117.7h.01M441.2 108.6h.01M436.3 112.1h.01M443.9 106.7h.01M445.2 108.7h.01M444.2 106.6h.01M443.9 110.3h.01M448.6 105.9h.01M448.5 106.3h.01M439.6 108.4h.01M449.7 104.3h.01M431.1 111.4h.01M430.3 129.0h.01M437.0 117.6h.01M432.7 110.5h.01M429.8 125.2h.01M434.1 136.0h.01M435.1 112.6h.01M434.7 132.9h.01M437.0 114.2h.01M430.0 122.4h.01M444.0 106.8h.01M427.9 124.2h.01M449.2 109.4h.01M440.5 115.1h.01M430.0 131.1h.01M429.0 135.1h.01M436.7 105.0h.01M430.0 117.1h.01M449.0 105.7h.01M440.3 107.4h.01M431.5 109.9h.01M444.6 106.1h.01M443.7 119.9h.01M428.5 117.0h.01M430.8 128.5h.01M444.2 121.8h.01M442.6 115.8h.01M427.9 121.1h.01M449.8 114.4h.01M428.3 113.3h.01M448.5 102.0h.01M432.4 126.2h.01M426.7 131.0h.01M443.1 108.8h.01M438.7 126.5h.01M440.5 119.5h.01M427.4 130.7h.01M442.9 115.1h.01M440.7 109.7h.01M450.8 109.9h.01M431.7 129.7h.01M443.7 117.5h.01M442.5 110.2h.01M434.4 108.7h.01M439.3 110.7h.01M437.6 106.2h.01M445.4 114.6h.01M445.8 105.3h.01M442.5 108.3h.01M427.9 128.3h.01M428.3 115.4h.01M433.6 111.2h.01M435.0 112.1h.01M449.7 103.5h.01M441.8 116.4h.01M433.5 110.0h.01M434.7 117.2h.01M444.6 114.3h.01M441.2 109.3h.01M427.7 121.4h.01M438.0 112.0h.01M442.7 112.8h.01M440.7 113.7h.01M432.2 118.7h.01M448.3 104.8h.01M431.3 120.1h.01M427.8 117.4h.01M442.6 115.0h.01M446.2 108.8h.01M451.0 112.3h.01M449.7 109.9h.01M432.1 110.5h.01M431.1 127.8h.01M445.2 106.5h.01M426.1 136.5h.01M428.5 122.5h.01M452.4 103.3h.01M443.2 115.6h.01M431.8 133.7h.01M441.4 111.4h.01M445.8 108.3h.01M449.7 103.9h.01M445.9 110.1h.01M439.1 111.7h.01M430.1 122.9h.01M450.0 113.4h.01M429.5 117.5h.01M429.3 129.0h.01M434.2 120.3h.01M429.7 113.4h.01M436.9 110.2h.01M437.1 132.9h.01M427.9 130.1h.01M428.8 122.4h.01M442.8 106.2h.01M442.6 109.9h.01M442.8 116.4h.01M433.8 122.6h.01M438.3 109.0h.01M436.9 106.9h.01M436.5 105.8h.01M446.1 106.6h.01M427.3 123.2h.01M427.2 130.4h.01M431.5 108.1h.01M446.6 107.9h.01M433.8 119.1h.01M431.3 134.5h.01M440.3 115.1h.01M437.1 116.9h.01M427.9 117.8h.01M433.2 123.3h.01M430.0 122.5h.01M439.9 114.2h.01M443.7 116.9h.01M436.1 114.3h.01M447.8 103.0h.01M433.2 107.7h.01M447.3 104.6h.01M432.4 109.4h.01M429.7 130.1h.01M431.6 129.2h.01M442.4 116.0h.01M449.3 111.1h.01M428.9 136.7h.01M443.2 110.7h.01M429.1 115.4h.01M430.6 114.8h.01M428.1 120.2h.01M430.0 121.3h.01M430.5 132.7h.01M440.5 115.3h.01M429.4 136.7h.01M435.5 113.4h.01M447.8 109.4h.01M436.1 131.4h.01M432.4 136.1h.01M428.0 121.9h.01M440.4 114.5h.01M436.6 113.6h.01M442.5 115.7h.01M448.5 108.8h.01M442.7 106.4h.01M435.9 109.9h.01M450.6 103.3h.01M434.2 116.3h.01M438.3 106.0h.01M435.8 111.2h.01M439.2 115.7h.01M433.1 120.4h.01M427.5 127.9h.01M436.5 133.2h.01M433.7 109.5h.01M449.8 107.1h.01M440.8 111.4h.01M440.3 118.6h.01M436.0 110.5h.01M428.2 124.8h.01M432.8 112.8h.01M442.8 105.5h.01M432.7 106.9h.01M438.5 133.6h.01M429.8 124.0h.01M436.6 116.5h.01M445.8 111.5h.01M452.2 103.5h.01M433.0 109.8h.01M442.8 111.3h.01M447.3 115.5h.01M431.0 115.9h.01M431.9 125.2h.01M449.6 105.0h.01M427.3 126.4h.01M439.6 114.9h.01M432.4 109.7h.01M427.1 136.9h.01M437.4 128.3h.01M440.7 108.1h.01M433.1 105.4h.01M439.7 112.0h.01M439.9 116.6h.01M449.0 108.8h.01M434.7 110.9h.01M430.7 116.1h.01M437.6 109.5h.01M432.1 123.9h.01M442.2 110.1h.01M444.3 116.7h.01M432.9 110.0h.01M427.9 119.8h.01M439.9 104.6h.01M433.4 115.8h.01M426.2 135.5h.01M445.0 122.8h.01M431.4 117.2h.01M435.0 113.0h.01M445.3 111.7h.01M427.9 132.0h.01M435.0 132.1h.01M426.6 134.3h.01M444.4 109.0h.01M438.7 111.0h.01M431.7 107.9h.01M432.5 118.8h.01M441.0 120.8h.01M434.9 111.9h.01M431.5 115.6h.01M450.1 101.3h.01M448.6 109.3h.01M446.8 105.2h.01M433.9 111.3h.01M433.7 116.1h.01M432.7 129.2h.01M443.6 116.5h.01M441.8 105.7h.01M430.2 128.7h.01M449.7 101.4h.01M430.8 117.2h.01M432.3 124.0h.01M442.0 113.7h.01M430.9 114.8h.01M431.2 117.9h.01M432.8 132.6h.01M429.4 118.4h.01M436.8 130.1h.01M446.8 106.7h.01M429.3 130.1h.01M432.0 109.8h.01M448.3 109.9h.01M437.6 115.0h.01M441.1 107.0h.01M449.6 105.1h.01M427.7 136.1h.01M434.9 114.5h.01M448.7 116.0h.01M427.4 130.1h.01M447.9 104.3h.01M446.9 110.1h.01M432.2 112.1h.01M446.8 106.1h.01M427.6 134.9h.01M434.3 134.5h.01M447.6 113.2h.01M432.6 124.5h.01M428.2 114.6h.01M434.8 115.1h.01M442.0 116.3h.01M433.8 109.7h.01M441.0 113.0h.01M428.2 120.9h.01M430.1 116.3h.01M446.0 117.6h.01M431.7 135.8h.01M439.3 117.6h.01M429.7 114.8h.01M434.3 107.1h.01M432.3 122.5h.01M439.2 119.5h.01M436.8 113.3h.01M440.3 113.3h.01M446.9 107.6h.01M448.3 110.5h.01M437.0 114.5h.01M435.0 111.0h.01M434.6 111.4h.01M429.6 133.9h.01M449.6 104.4h.01M432.6 115.8h.01M439.1 105.5h.01M435.5 120.4h.01M442.1 110.9h.01M431.8 117.0h.01M428.3 126.6h.01M447.0 105.3h.01M441.0 117.0h.01M444.1 121.5h.01M446.4 113.1h.01M428.1 127.3h.01M431.2 122.3h.01M439.2 114.1h.01M445.0 106.0h.01M434.8 110.9h.01M433.2 117.9h.01M435.7 108.7h.01M446.9 111.4h.01M443.2 110.0h.01M432.7 117.7h.01M442.1 110.6h.01M427.7 128.5h.01M428.5 130.3h.01M441.0 128.2h.01M442.7 107.5h.01M436.7 108.0h.01M429.5 135.1h.01M431.2 135.5h.01M435.2 111.0h.01M441.6 110.3h.01M449.1 105.5h.01M434.0 108.5h.01M443.7 104.6h.01M429.4 115.4h.01M430.2 114.8h.01M430.6 109.8h.01M433.8 116.8h.01M433.1 135.4h.01M450.8 100.7h.01M430.1 124.0h.01M439.1 118.5h.01M428.6 122.9h.01M442.7 114.0h.01M430.3 117.8h.01M440.2 108.6h.01M434.8 108.0h.01M450.4 106.7h.01M446.4 122.3h.01M428.7 118.1h.01M444.8 113.5h.01M427.5 123.4h.01M442.4 111.3h.01M441.2 113.2h.01M437.4 113.8h.01M449.1 106.3h.01M444.7 111.1h.01M432.4 107.9h.01M430.8 112.0h.01M432.9 107.6h.01M436.8 116.7h.01M447.8 105.5h.01M427.4 136.6h.01M430.0 123.3h.01M445.8 116.4h.01M428.2 117.7h.01M427.3 127.9h.01M445.7 113.1h.01M432.7 113.3h.01M444.2 108.9h.01M433.6 115.3h.01M438.0 122.3h.01M449.8 105.8h.01M434.5 110.9h.01M434.9 127.8h.01M449.6 112.0h.01M430.0 114.7h.01M447.5 108.6h.01M450.1 108.2h.01M431.4 134.3h.01M437.4 112.9h.01M442.5 105.9h.01M442.0 115.7h.01M430.3 113.5h.01M440.3 116.2h.01M451.7 107.4h.01M430.4 127.7h.01M446.3 119.8h.01M441.9 116.5h.01M438.7 111.4h.01M439.4 106.2h.01M442.1 109.9h.01M428.9 123.2h.01M441.1 118.9h.01M440.3 108.1h.01M435.2 105.5h.01M439.2 112.8h.01M430.7 129.8h.01M440.9 106.9h.01M445.6 103.9h.01M436.9 111.5h.01M437.3 114.1h.01M430.6 134.2h.01M426.7 132.8h.01M444.1 110.0h.01M447.6 104.7h.01M441.0 108.7h.01M448.0 110.3h.01M448.2 104.3h.01M433.0 113.3h.01M432.8 123.2h.01M438.3 108.5h.01M427.1 133.4h.01M441.5 121.1h.01M444.4 124.9h.01M438.7 109.6h.01M448.3 101.8h.01M427.6 126.7h.01M430.8 119.5h.01M449.4 107.4h.01M443.6 108.5h.01M429.7 122.6h.01M439.6 107.2h.01M431.6 125.6h.01M430.8 114.0h.01M430.6 129.0h.01M436.3 110.8h.01M429.5 110.5h.01M435.1 125.4h.01M447.8 115.1h.01M433.0 136.4h.01M451.7 110.6h.01M427.9 135.8h.01M432.8 134.9h.01M430.2 125.4h.01M449.8 105.4h.01M427.3 134.6h.01M440.8 117.4h.01M428.3 130.0h.01M436.6 114.1h.01M429.2 117.2h.01M432.1 112.5h.01M429.3 115.4h.01M446.9 107.0h.01M439.4 113.0h.01M438.6 128.0h.01M428.1 125.7h.01M432.2 122.2h.01M448.3 102.7h.01M436.2 109.5h.01M433.9 109.6h.01M444.5 107.4h.01M433.7 106.2h.01M450.2 106.4h.01M445.7 107.0h.01M445.3 106.3h.01M426.7 131.0h.01M434.3 109.2h.01M443.9 117.2h.01M434.0 112.2h.01M443.5 117.8h.01M441.0 109.4h.01M438.1 118.1h.01M430.1 118.1h.01M449.1 115.9h.01M441.5 121.7h.01M438.5 130.7h.01M432.0 130.3h.01M427.4 132.4h.01M445.0 112.4h.01M432.9 120.3h.01M442.0 112.6h.01M431.0 117.4h.01M431.0 129.6h.01M444.0 112.9h.01M435.0 108.0h.01M433.7 105.1h.01M429.1 129.2h.01M446.7 120.1h.01M443.4 111.8h.01M436.0 105.5h.01M432.1 110.5h.01M439.9 106.8h.01M444.4 108.7h.01M428.8 132.7h.01M430.7 130.9h.01M441.8 104.9h.01M430.5 116.7h.01M432.0 123.3h.01M426.9 128.7h.01M444.1 118.6h.01M429.8 118.5h.01M430.2 122.6h.01M431.3 132.1h.01M434.3 113.0h.01M426.9 136.3h.01M450.5 113.7h.01M428.0 118.4h.01M428.5 112.8h.01M426.3 134.5h.01M448.2 120.2h.01M436.6 107.2h.01M428.7 129.9h.01M429.3 131.6h.01M429.2 125.3h.01M441.4 129.5h.01M438.0 107.3h.01M449.6 114.8h.01M427.1 135.9h.01M430.2 110.0h.01M432.7 115.5h.01M440.1 112.3h.01M446.9 106.5h.01M427.7 130.4h.01M443.6 115.9h.01M432.4 112.2h.01M440.5 104.7h.01M451.8 99.7h.01M427.3 127.2h.01M429.7 123.0h.01M446.7 112.9h.01M449.1 110.1h.01M430.2 134.3h.01M446.8 109.0h.01M426.7 131.0h.01M444.9 109.3h.01M434.7 125.0h.01M426.5 136.2h.01M451.2 103.5h.01M434.6 108.4h.01M443.0 109.7h.01M446.4 106.9h.01M440.2 124.4h.01M433.5 119.0h.01M432.8 126.2h.01M443.3 112.9h.01M434.9 130.1h.01M440.2 125.1h.01M435.5 123.9h.01M440.5 130.5h.01M429.7 117.1h.01M439.6 104.3h.01M433.2 133.5h.01M447.2 110.6h.01M427.1 126.0h.01M429.8 115.6h.01M428.6 118.9h.01M448.8 112.8h.01M447.9 113.2h.01M431.7 126.3h.01M429.4 128.6h.01M441.1 116.0h.01M437.2 123.6h.01M429.5 124.7h.01M439.6 109.4h.01M431.6 131.7h.01M430.2 120.5h.01M433.4 111.4h.01M438.5 118.7h.01M433.2 111.6h.01M433.5 117.6h.01M442.4 107.6h.01M427.6 126.2h.01M431.9 125.6h.01M430.1 110.4h.01M452.6 106.1h.01M448.6 106.2h.01M437.3 116.8h.01M428.4 121.7h.01M432.3 112.6h.01M432.1 107.3h.01M449.6 108.9h.01M429.5 116.6h.01M432.5 106.4h.01M439.7 120.7h.01M427.2 130.6h.01M449.4 108.8h.01M437.8 126.6h.01M447.3 114.9h.01M432.0 108.3h.01M442.6 104.7h.01M443.7 109.5h.01M428.2 129.3h.01M427.6 123.3h.01M441.1 105.8h.01M431.2 113.5h.01M444.5 110.9h.01M428.7 111.6h.01M450.1 107.5h.01M429.6 114.0h.01M438.6 110.2h.01M447.9 103.0h.01M448.2 106.5h.01M427.0 131.1h.01M430.4 111.2h.01M438.5 113.1h.01M429.4 113.4h.01M428.5 123.0h.01M429.1 122.4h.01M435.4 104.6h.01M429.0 112.7h.01M452.1 108.2h.01M442.2 115.8h.01M428.8 115.6h.01M450.1 104.9h.01M426.2 135.0h.01M436.5 117.6h.01M447.0 114.4h.01M435.1 130.0h.01M430.0 120.9h.01M434.7 119.0h.01M431.4 117.4h.01M450.5 105.2h.01M433.5 113.8h.01M432.5 115.2h.01M427.8 117.3h.01M437.0 114.1h.01M448.1 107.9h.01M432.5 112.2h.01M442.5 118.7h.01M439.9 108.3h.01M429.5 111.3h.01M435.3 120.3h.01M432.4 118.4h.01M433.3 131.1h.01M450.8 111.0h.01M449.7 108.8h.01M443.6 108.0h.01M438.6 114.4h.01M433.5 118.0h.01M428.1 125.3h.01M432.2 133.7h.01M449.7 112.5h.01M446.9 106.8h.01M430.8 122.7h.01M443.6 105.8h.01M436.0 105.4h.01M434.8 118.6h.01M449.3 103.7h.01M441.6 115.9h.01M435.1 128.8h.01M441.3 110.4h.01M431.4 121.4h.01M427.3 131.1h.01M443.3 109.0h.01M437.8 112.0h.01M427.2 129.6h.01M436.9 114.3h.01M440.1 108.4h.01M436.7 111.1h.01M438.3 112.4h.01M435.9 137.0h.01M430.7 114.9h.01M445.5 113.3h.01M431.1 124.5h.01M441.4 107.7h.01M431.5 113.0h.01M431.8 114.6h.01M451.6 104.9h.01M430.9 120.3h.01M445.0 105.5h.01M426.6 135.0h.01M443.8 120.5h.01M441.2 104.4h.01M449.8 109.3h.01M438.0 112.6h.01M427.9 119.7h.01M429.5 132.5h.01M450.1 109.4h.01M429.2 120.2h.01M428.0 118.6h.01M439.5 107.4h.01M426.5 135.3h.01M444.6 105.7h.01M442.4 106.1h.01M429.8 127.1h.01M448.4 105.8h.01M449.4 104.6h.01M432.6 110.0h.01M440.9 113.0h.01M427.0 133.8h.01M439.3 108.4h.01M430.4 123.4h.01M442.6 108.7h.01M427.0 125.6h.01M450.0 104.8h.01M437.1 112.6h.01M441.2 106.6h.01M427.9 117.9h.01M431.2 116.7h.01M436.1 121.4h.01M450.0 115.1h.01M447.5 105.5h.01M443.5 107.7h.01M428.7 111.8h.01M446.8 104.0h.01M443.2 108.9h.01M430.5 119.0h.01M442.5 105.8h.01M429.8 118.9h.01M438.2 114.9h.01M441.3 105.6h.01M434.0 108.3h.01M444.8 105.5h.01M431.3 109.7h.01M425.9 136.7h.01M443.5 127.0h.01M442.1 105.1h.01M435.9 123.3h.01M428.8 116.8h.01M434.3 115.2h.01M434.7 123.3h.01M430.7 135.6h.01M436.7 129.2h.01M433.3 111.9h.01M428.1 122.3h.01M430.3 124.7h.01M435.8 119.5h.01M430.9 131.9h.01M443.0 113.9h.01M443.8 109.8h.01M430.9 120.8h.01M429.8 134.6h.01M433.5 107.7h.01M433.1 123.9h.01M435.0 111.7h.01M430.9 123.6h.01M434.1 118.6h.01M442.9 113.4h.01M428.0 126.7h.01M446.6 103.1h.01M426.6 133.1h.01M431.7 128.9h.01M440.0 106.9h.01M444.5 107.0h.01M427.9 115.8h.01M437.8 109.6h.01M429.4 113.7h.01M440.9 117.0h.01M432.0 111.2h.01M436.4 127.5h.01M427.9 133.2h.01M428.3 116.1h.01M440.4 112.4h.01M428.4 128.2h.01M427.7 118.1h.01M431.9 110.0h.01M445.0 108.7h.01M451.8 105.1h.01M447.7 105.1h.01M442.2 125.5h.01M430.7 112.2h.01M447.8 110.9h.01M450.0 102.4h.01M436.2 104.0h.01M440.6 112.0h.01M446.2 104.6h.01M426.8 135.2h.01M429.3 123.1h.01M446.5 108.6h.01M427.8 136.2h.01M433.2 124.7h.01M439.3 112.3h.01M436.0 129.7h.01M429.9 111.6h.01M435.3 115.0h.01M427.6 119.5h.01M431.5 114.2h.01M427.9 136.4h.01M443.2 106.2h.01M452.6 105.9h.01M450.5 103.4h.01M447.6 109.5h.01M441.8 109.5h.01M427.1 125.4h.01M431.7 107.3h.01M442.0 120.4h.01M432.3 108.8h.01M438.3 130.9h.01M431.9 112.1h.01M451.0 106.9h.01M435.0 122.9h.01M443.8 105.0h.01M450.3 103.7h.01M429.7 114.5h.01M446.7 105.3h.01M448.0 108.6h.01M438.8 132.7h.01M431.4 113.9h.01M426.2 134.8h.01M431.3 111.6h.01M450.1 106.1h.01M447.9 102.0h.01M451.8 107.9h.01M434.6 124.5h.01M428.4 117.3h.01M437.8 112.2h.01M446.1 104.3h.01M427.8 121.8h.01M439.8 104.2h.01M432.8 133.9h.01M441.8 107.4h.01M449.0 109.3h.01M446.9 112.2h.01M439.5 110.2h.01M447.5 109.8h.01M435.9 115.4h.01M436.2 108.5h.01M432.0 123.9h.01M436.5 122.0h.01M443.3 116.1h.01M451.0 104.2h.01M426.4 135.8h.01M441.1 111.4h.01M432.7 113.0h.01M447.0 113.1h.01M429.7 130.3h.01M430.0 119.6h.01M443.6 111.1h.01M432.2 124.7h.01M442.3 115.6h.01M438.2 113.1h.01M451.1 109.8h.01M437.2 128.5h.01M434.7 112.9h.01M434.3 121.6h.01M446.3 108.2h.01M435.1 127.9h.01M426.4 135.9h.01M447.0 103.4h.01M436.8 111.5h.01M427.9 128.3h.01M428.1 122.2h.01M437.2 111.0h.01M436.7 121.4h.01M448.0 105.7h.01M433.8 113.2h.01M434.3 124.1h.01M430.5 123.8h.01M441.7 112.5h.01M444.2 108.6h.01M441.2 109.4h.01M444.2 105.4h.01M449.3 112.0h.01M427.4 130.9h.01M431.8 128.2h.01M443.9 111.1h.01M429.4 130.7h.01M437.7 115.7h.01M440.4 119.9h.01M429.9 127.3h.01M434.3 109.2h.01M440.5 127.8h.01M448.1 107.6h.01M450.1 108.8h.01M427.6 119.6h.01M439.2 104.9h.01M428.2 120.0h.01M428.7 131.6h.01M430.3 120.3h.01M429.5 134.1h.01M447.5 105.9h.01M435.8 114.3h.01M447.8 104.3h.01M431.2 132.4h.01M447.5 106.3h.01M442.5 111.1h.01M433.3 111.0h.01M430.8 108.9h.01M439.7 111.5h.01M428.3 114.2h.01M439.2 107.9h.01M446.0 108.2h.01M432.9 105.6h.01M441.8 107.9h.01M429.2 126.9h.01M441.1 111.5h.01M448.8 112.2h.01M443.7 106.8h.01M441.2 121.3h.01M445.6 105.4h.01M441.0 104.5h.01M443.1 111.6h.01M427.9 123.4h.01M432.1 125.9h.01M429.6 126.0h.01M448.6 112.2h.01M437.0 110.6h.01M440.9 114.3h.01M439.8 131.6h.01M440.9 119.8h.01M449.0 113.6h.01M440.1 110.1h.01M441.7 122.8h.01M451.4 107.6h.01M444.6 108.0h.01M430.0 121.6h.01M445.5 111.3h.01M431.5 126.3h.01M450.1 106.9h.01M436.2 133.1h.01M426.2 136.0h.01M433.5 115.8h.01M436.2 110.9h.01M451.5 100.8h.01M431.3 131.2h.01M443.7 105.5h.01M449.0 106.5h.01M451.9 104.5h.01M432.0 121.4h.01M447.7 103.0h.01M437.1 113.6h.01M431.4 124.1h.01M434.0 106.3h.01M437.7 131.7h.01M441.9 109.1h.01M435.2 109.1h.01M431.6 113.0h.01M445.1 112.9h.01M430.6 112.9h.01M444.7 104.8h.01M428.7 133.2h.01M450.9 110.4h.01M426.1 136.9h.01M435.1 104.1h.01M435.7 121.8h.01M441.4 107.5h.01M429.7 117.8h.01M448.8 102.4h.01M431.2 123.3h.01M426.4 136.8h.01M450.6 112.4h.01M448.4 103.0h.01M431.9 130.4h.01M442.1 109.0h.01M428.9 124.6h.01M432.2 117.9h.01M434.4 133.6h.01M428.6 135.9h.01M442.0 109.8h.01M450.8 103.2h.01M429.7 119.6h.01M435.5 112.4h.01M436.8 110.4h.01M445.5 121.0h.01M428.5 123.9h.01M432.8 135.1h.01M432.8 110.6h.01M450.8 106.2h.01M429.9 132.3h.01M435.1 117.4h.01M434.8 125.1h.01M440.4 112.1h.01M443.8 109.8h.01M430.6 131.8h.01M447.7 116.1h.01M443.9 105.4h.01M442.2 128.5h.01M440.0 112.8h.01M437.0 120.5h.01M432.4 106.8h.01M452.4 104.2h.01M433.1 120.4h.01M435.9 119.4h.01M449.1 110.0h.01M435.9 112.1h.01M446.6 116.0h.01M432.6 133.3h.01M446.5 104.1h.01M428.5 133.0h.01M432.4 116.5h.01M432.1 135.9h.01M433.2 111.9h.01M443.6 111.6h.01M428.2 127.0h.01M430.0 119.1h.01M450.3 102.3h.01M449.3 109.6h.01M430.4 133.8h.01M427.4 126.2h.01M441.5 127.9h.01M432.6 108.6h.01M430.1 130.9h.01M444.4 106.4h.01M443.5 114.0h.01M444.3 114.3h.01M445.6 105.6h.01M450.3 108.0h.01M441.3 116.8h.01M443.9 108.2h.01M427.2 135.3h.01M445.6 104.8h.01M449.4 115.5h.01M438.3 114.9h.01M445.3 109.0h.01M428.8 112.3h.01M449.6 116.5h.01M447.0 116.1h.01M442.3 113.9h.01M449.5 101.0h.01M430.0 121.2h.01M441.3 110.3h.01M431.6 122.5h.01M440.2 128.7h.01M437.2 113.3h.01M448.3 104.4h.01M436.5 119.5h.01M443.6 114.8h.01M427.9 130.5h.01M449.8 111.7h.01M444.0 107.3h.01M435.9 106.2h.01M438.0 124.7h.01M429.8 123.8h.01M428.2 123.0h.01M438.1 105.1h.01M429.4 113.7h.01M440.2 111.9h.01M431.5 136.0h.01M445.5 108.0h.01M428.9 126.3h.01M428.8 134.6h.01M443.8 116.8h.01M429.0 131.6h.01M433.5 114.9h.01M439.1 107.2h.01M450.2 105.7h.01M427.5 124.6h.01M428.3 121.3h.01M436.1 108.9h.01M430.8 121.9h.01M446.8 110.9h.01M439.4 110.6h.01M452.8 107.2h.01M443.5 111.3h.01M444.1 121.7h.01M430.4 127.0h.01M427.7 118.9h.01M441.7 108.0h.01M447.3 121.9h.01M445.6 117.1h.01M450.3 104.0h.01M444.3 117.1h.01M432.7 107.7h.01M437.0 132.1h.01M428.6 131.0h.01M428.7 131.9h.01M430.2 126.6h.01M449.4 107.7h.01M441.5 118.2h.01M436.5 113.3h.01M439.2 108.5h.01M427.7 132.4h.01M443.0 109.3h.01M446.5 122.0h.01M450.7 113.4h.01M434.1 112.3h.01M440.1 111.2h.01M435.8 108.8h.01M439.6 109.2h.01M450.1 108.9h.01M449.0 104.5h.01M427.2 127.5h.01M428.9 136.5h.01M429.1 112.8h.01M434.4 115.9h.01M429.1 114.4h.01M430.9 133.6h.01M430.3 131.4h.01M434.7 109.0h.01M442.6 104.9h.01M439.3 117.2h.01M430.1 132.1h.01M431.4 112.0h.01M440.9 105.9h.01M428.0 116.3h.01M431.6 121.0h.01M439.6 114.5h.01M432.3 109.1h.01M450.0 103.7h.01M440.7 114.3h.01M434.4 131.0h.01M429.4 134.3h.01M429.4 117.2h.01M430.1 109.7h.01M443.2 113.5h.01M428.5 128.9h.01M427.8 120.6h.01M433.7 115.7h.01M433.2 119.2h.01M428.3 130.8h.01M430.8 134.9h.01M428.7 128.8h.01M434.0 115.1h.01M438.1 109.2h.01M432.7 111.7h.01M441.9 129.0h.01M426.6 131.3h.01M433.9 124.2h.01M434.7 134.2h.01M429.3 123.3h.01M448.0 103.4h.01M440.2 113.6h.01M429.1 133.0h.01M429.7 127.9h.01M442.3 116.4h.01M447.7 115.9h.01M428.6 114.7h.01M431.5 121.2h.01M427.2 122.9h.01M445.7 112.8h.01M431.7 107.3h.01M447.7 102.6h.01M430.9 116.2h.01M446.4 111.2h.01M439.4 110.8h.01M430.0 123.0h.01M434.2 108.2h.01M434.7 131.4h.01M434.2 112.0h.01M431.9 134.6h.01M437.6 111.7h.01M440.1 113.4h.01M440.1 106.4h.01M444.6 115.5h.01M451.6 104.1h.01M433.5 130.7h.01M451.4 108.2h.01M438.6 109.0h.01M430.2 126.1h.01M445.6 109.7h.01M430.7 125.1h.01M440.8 106.4h.01M435.5 126.7h.01M449.1 114.0h.01M430.0 122.1h.01M430.0 119.5h.01M429.1 123.2h.01M430.1 110.6h.01M428.0 127.9h.01M435.8 119.9h.01M435.9 105.1h.01M428.9 127.6h.01M433.6 120.0h.01M433.4 128.1h.01M433.2 111.5h.01M428.1 134.0h.01M435.2 135.3h.01M436.7 118.0h.01M447.6 106.9h.01M427.9 134.0h.01M450.9 101.8h.01M450.3 110.2h.01M429.8 122.4h.01M428.9 118.1h.01M430.4 109.6h.01M440.4 113.0h.01M446.8 107.3h.01M427.4 127.1h.01M428.9 114.7h.01M433.1 130.4h.01M445.3 113.0h.01M438.7 107.4h.01M448.7 112.3h.01M446.5 117.4h.01M440.8 104.2h.01M435.6 126.9h.01M443.8 108.4h.01M434.9 131.4h.01M438.2 111.7h.01M446.0 105.6h.01M427.2 129.3h.01M432.7 114.4h.01M446.3 107.7h.01M443.7 106.8h.01M430.5 132.5h.01M449.1 106.3h.01M431.6 107.3h.01M431.6 109.7h.01M430.3 136.2h.01M427.4 132.8h.01M437.4 126.9h.01M436.9 113.8h.01M429.7 125.8h.01M430.7 118.8h.01M436.4 113.8h.01M447.1 108.8h.01M437.2 133.8h.01M434.6 119.6h.01M448.9 105.2h.01M432.6 132.8h.01M434.5 107.3h.01M430.2 109.4h.01M426.8 133.5h.01M436.4 109.8h.01M445.4 109.8h.01M432.6 108.8h.01M427.0 131.1h.01M434.9 116.1h.01M432.8 111.7h.01M430.4 109.5h.01M427.7 120.0h.01M439.2 114.5h.01M434.7 129.0h.01M449.1 110.1h.01M436.4 122.5h.01M450.3 112.9h.01M431.3 110.7h.01M432.1 118.9h.01M450.4 113.0h.01M432.5 108.6h.01M428.8 123.2h.01M432.7 111.7h.01M434.0 130.9h.01M428.7 129.0h.01M428.2 123.4h.01M430.5 121.5h.01M451.7 108.3h.01M443.1 109.9h.01M432.3 112.3h.01M446.4 121.7h.01M436.0 117.0h.01M442.8 115.8h.01M431.8 121.9h.01M444.2 111.0h.01M439.2 126.3h.01M434.2 121.2h.01M436.2 107.1h.01M437.0 112.0h.01M441.9 104.7h.01M451.1 109.4h.01M446.1 111.4h.01M439.0 110.6h.01M431.8 131.5h.01M430.8 112.2h.01M450.8 104.8h.01M432.2 136.3h.01M444.3 122.8h.01M449.6 110.3h.01M446.2 104.3h.01M438.0 121.6h.01M446.6 114.9h.01M435.2 115.4h.01M432.4 117.8h.01M441.1 111.4h.01M448.8 108.0h.01M449.4 106.9h.01M443.4 105.5h.01M440.0 109.7h.01M430.2 111.5h.01M434.9 134.1h.01M432.8 108.0h.01M430.4 108.8h.01M430.9 111.9h.01M431.0 114.4h.01M447.9 105.0h.01M428.2 116.9h.01M445.3 115.1h.01M448.0 110.0h.01M434.7 115.7h.01M438.8 112.6h.01M431.0 110.6h.01M433.5 107.2h.01M438.3 110.0h.01M428.0 133.4h.01M439.8 106.4h.01M450.3 110.0h.01M438.5 112.1h.01M441.5 108.7h.01M437.0 113.9h.01M444.5 111.9h.01M433.6 110.6h.01M439.1 114.5h.01M440.5 110.4h.01M441.1 105.0h.01M442.8 118.9h.01M442.4 111.6h.01M450.8 113.3h.01M452.1 107.0h.01M438.6 106.3h.01M434.5 110.6h.01M431.8 136.6h.01M437.5 111.0h.01M433.0 108.2h.01M435.3 112.6h.01M445.4 113.7h.01M432.2 119.2h.01M448.4 108.3h.01M432.6 121.7h.01M445.9 119.2h.01M448.5 103.2h.01M436.3 113.2h.01M439.9 110.5h.01M430.8 132.5h.01M441.4 116.0h.01M427.4 132.5h.01M432.6 122.7h.01M438.5 110.9h.01M442.8 107.3h.01M441.5 115.0h.01M428.8 118.9h.01M438.3 117.6h.01M437.5 108.3h.01M442.3 106.3h.01M441.0 107.2h.01M435.0 113.1h.01M431.2 124.7h.01M428.9 113.3h.01M451.2 110.0h.01M448.6 104.4h.01M427.2 129.6h.01M432.2 126.6h.01M430.2 124.1h.01M439.2 110.0h.01M433.4 122.0h.01M427.6 126.5h.01M446.1 106.6h.01M438.3 115.6h.01M435.1 125.1h.01M427.4 131.9h.01M438.0 129.6h.01M430.4 116.7h.01M442.6 104.7h.01M437.3 110.6h.01M452.7 106.0h.01M427.1 126.1h.01M434.3 116.2h.01M431.9 115.5h.01M431.5 110.8h.01M444.1 110.1h.01M435.4 107.4h.01M441.2 112.6h.01M439.8 124.4h.01M439.3 113.3h.01M439.1 110.3h.01M428.2 115.4h.01M432.3 106.9h.01M449.2 108.0h.01M426.7 132.8h.01M433.3 114.7h.01M442.9 105.3h.01M433.2 114.8h.01M447.5 104.4h.01M442.9 121.2h.01M430.1 116.8h.01M428.7 117.2h.01M443.6 114.4h.01M432.0 128.7h.01M430.2 124.5h.01M435.0 121.3h.01M429.1 131.3h.01M433.1 131.7h.01M449.5 101.5h.01M439.9 110.1h.01M446.4 104.0h.01M449.5 105.5h.01M437.4 107.8h.01M434.3 114.3h.01M451.8 107.9h.01M438.3 131.6h.01M447.0 109.3h.01M427.7 124.5h.01M432.0 134.3h.01M437.1 109.6h.01M451.5 99.7h.01M433.2 112.8h.01M436.3 110.4h.01M446.4 112.7h.01M428.9 115.4h.01M441.1 109.5h.01M428.4 135.1h.01M437.9 109.6h.01M427.8 126.4h.01M434.7 112.9h.01M450.5 106.4h.01" stroke="#d8173c" stroke-width="0.85" stroke-linecap="square"/>
<text x="400.00" y="153.70" font-size="3.60" font-weight="bold" fill="#555" text-anchor="middle" stroke="#555" stroke-width="0.2" >-10</text>
<text x="423.30" y="153.70" font-size="3.60" font-weight="bold" fill="#555" text-anchor="middle" stroke="#555" stroke-width="0.2" >0</text>
<text x="449.00" y="153.70" font-size="3.60" font-weight="bold" fill="#555" text-anchor="middle" stroke="#555" stroke-width="0.2" >10</text>
<text x="379.00" y="93.40" font-size="3.60" font-weight="bold" fill="#555" text-anchor="end" stroke="#555" stroke-width="0.2" >8</text>
<text x="379.00" y="106.70" font-size="3.60" font-weight="bold" fill="#555" text-anchor="end" stroke="#555" stroke-width="0.2" >6</text>
<text x="379.00" y="120.00" font-size="3.60" font-weight="bold" fill="#555" text-anchor="end" stroke="#555" stroke-width="0.2" >4</text>
<text x="379.00" y="134.00" font-size="3.60" font-weight="bold" fill="#555" text-anchor="end" stroke="#555" stroke-width="0.2" >2</text>
<text x="379.00" y="147.10" font-size="3.60" font-weight="bold" fill="#555" text-anchor="end" stroke="#555" stroke-width="0.2" >0</text>
<text x="457.50" y="90.60" font-size="4.60" font-weight="bold" fill="#111" text-anchor="end" stroke="#111" stroke-width="0.2" >Bovine</text>
<text x="398.92" y="159.00" font-size="5.48" font-weight="bold" fill="#000" stroke="#000" stroke-width="0.2" >log2(FoldChange)</text>
<text transform="translate(372.8,92.4) rotate(-90)" font-size="6.8" font-weight="bold" text-anchor="middle" stroke="#000" stroke-width="0.2">−log10 (Pvalue)</text>
<text transform="translate(4.22,171.10) scale(0.9,1)" font-size="16.2" font-weight="bold" fill="#1a1212">D</text>
<text x="24.68" y="183.00" font-size="7.90" font-weight="bold" fill="#000" stroke="#000" stroke-width="0.2" >Overlapping up-regulated genes</text>
<text x="55.67" y="191.30" font-size="7.90" font-weight="bold" fill="#000" stroke="#000" stroke-width="0.2" >EPSCs VS FFs</text>
<circle cx="58.2" cy="240.7" r="37.4" fill="#72a878"/>
<circle cx="106.8" cy="240.4" r="37.8" fill="#a6c9e6"/>
<circle cx="82.3" cy="281.4" r="37.4" fill="#eba3a4"/>
<clipPath id="cgD"><circle cx="58.2" cy="240.7" r="37.4"/></clipPath>
<clipPath id="cbD"><circle cx="106.8" cy="240.4" r="37.8"/></clipPath>
<g clip-path="url(#cgD)"><circle cx="106.8" cy="240.4" r="37.8" fill="#609ea6"/><circle cx="82.3" cy="281.4" r="37.4" fill="#b9836e"/></g>
<g clip-path="url(#cbD)"><circle cx="82.3" cy="281.4" r="37.4" fill="#cc93ab"/></g>
<g clip-path="url(#cgD)"><g clip-path="url(#cbD)"><circle cx="82.3" cy="281.4" r="37.4" fill="#a98587"/></g></g>
<text x="19.32" y="203.30" font-size="7.18" font-weight="bold" fill="#3b8a57" stroke="#3b8a57" stroke-width="0.2" >Bovine</text>
<text x="123.01" y="203.30" font-size="7.33" font-weight="bold" fill="#5d9bd5" stroke="#5d9bd5" stroke-width="0.2" >Human</text>
<text x="73.80" y="328.20" font-size="7.41" font-weight="bold" fill="#5d9bd5" stroke="#5d9bd5" stroke-width="0.2" >Mouse</text>
<text x="35.79" y="222.00" font-size="7.30" font-weight="bold" fill="#111" stroke="#111" stroke-width="0.2" >1962</text>
<text x="76.35" y="228.40" font-size="7.93" font-weight="bold" fill="#111" stroke="#111" stroke-width="0.2" >665</text>
<text x="114.79" y="222.00" font-size="7.29" font-weight="bold" fill="#111" stroke="#111" stroke-width="0.2" >1853</text>
<text x="76.20" y="254.90" font-size="8.17" font-weight="bold" fill="#f2e21b" stroke="#f2e21b" stroke-width="0.2" >711</text>
<text x="54.88" y="273.00" font-size="7.16" font-weight="bold" fill="#111" stroke="#111" stroke-width="0.2" >612</text>
<text x="100.99" y="273.00" font-size="6.97" font-weight="bold" fill="#111" stroke="#111" stroke-width="0.2" >682</text>
<text x="74.79" y="308.70" font-size="7.42" font-weight="bold" fill="#111" stroke="#111" stroke-width="0.2" >1888</text>
<text transform="translate(182.02,171.40) scale(0.9,1)" font-size="16.2" font-weight="bold" fill="#1a1212">E</text>
<text x="210.78" y="183.70" font-size="7.89" font-weight="bold" fill="#000" stroke="#000" stroke-width="0.2" >Overlapping down-regulated genes</text>
<text x="250.16" y="192.40" font-size="7.94" font-weight="bold" fill="#000" stroke="#000" stroke-width="0.2" >EPSCs VS FFs</text>
<circle cx="251" cy="241.5" r="37.5" fill="#72a878"/>
<circle cx="299.8" cy="241.4" r="37.2" fill="#a6c9e6"/>
<circle cx="275.7" cy="282.3" r="37.3" fill="#eba3a4"/>
<clipPath id="cgE"><circle cx="251" cy="241.5" r="37.5"/></clipPath>
<clipPath id="cbE"><circle cx="299.8" cy="241.4" r="37.2"/></clipPath>
<g clip-path="url(#cgE)"><circle cx="299.8" cy="241.4" r="37.2" fill="#609ea6"/><circle cx="275.7" cy="282.3" r="37.3" fill="#b9836e"/></g>
<g clip-path="url(#cbE)"><circle cx="275.7" cy="282.3" r="37.3" fill="#cc93ab"/></g>
<g clip-path="url(#cgE)"><g clip-path="url(#cbE)"><circle cx="275.7" cy="282.3" r="37.3" fill="#a98587"/></g></g>
<text x="212.10" y="203.80" font-size="7.39" font-weight="bold" fill="#3b8a57" stroke="#3b8a57" stroke-width="0.2" >Bovine</text>
<text x="317.12" y="203.80" font-size="7.18" font-weight="bold" fill="#5d9bd5" stroke="#5d9bd5" stroke-width="0.2" >Human</text>
<text x="266.60" y="328.20" font-size="7.37" font-weight="bold" fill="#5d9bd5" stroke="#5d9bd5" stroke-width="0.2" >Mouse</text>
<text x="229.31" y="223.60" font-size="7.06" font-weight="bold" fill="#111" stroke="#111" stroke-width="0.2" >1413</text>
<text x="269.47" y="229.60" font-size="8.11" font-weight="bold" fill="#111" stroke="#111" stroke-width="0.2" >284</text>
<text x="307.73" y="223.60" font-size="7.40" font-weight="bold" fill="#111" stroke="#111" stroke-width="0.2" >597</text>
<text x="269.40" y="255.70" font-size="8.18" font-weight="bold" fill="#f2e21b" stroke="#f2e21b" stroke-width="0.2" >799</text>
<text x="248.31" y="272.70" font-size="7.06" font-weight="bold" fill="#111" stroke="#111" stroke-width="0.2" >1049</text>
<text x="294.08" y="272.70" font-size="7.36" font-weight="bold" fill="#111" stroke="#111" stroke-width="0.2" >325</text>
<text x="267.80" y="309.50" font-size="7.28" font-weight="bold" fill="#111" stroke="#111" stroke-width="0.2" >1948</text>
<text transform="translate(363.02,171.40) scale(0.9,1)" font-size="16.2" font-weight="bold" fill="#1a1212">F</text>
<ellipse cx="424.3" cy="253.3" rx="56.2" ry="52.6" fill="#a67fbf"/>
<ellipse cx="486.8" cy="253.3" rx="56" ry="52.6" fill="#8aaddd"/>
<clipPath id="cpvF"><ellipse cx="424.3" cy="253.3" rx="56.2" ry="52.6"/></clipPath>
<g clip-path="url(#cpvF)"><ellipse cx="486.8" cy="253.3" rx="56" ry="52.6" fill="#6b7fc1"/></g>
<ellipse cx="424.3" cy="253.3" rx="56.2" ry="52.6" fill="none" stroke="#000" stroke-width="1.65"/>
<ellipse cx="486.8" cy="253.3" rx="56" ry="52.6" fill="none" stroke="#000" stroke-width="1.65"/>
<text x="440.07" y="182.00" font-size="9.14" font-weight="bold" fill="#000" stroke="#000" stroke-width="0.2" >ATAC-seq</text>
<text x="387.31" y="194.00" font-size="8.39" font-weight="bold" fill="#000" stroke="#000" stroke-width="0.2" >human EPSCs</text>
<text x="466.66" y="318.90" font-size="8.41" font-weight="bold" fill="#000" stroke="#000" stroke-width="0.2" >human FFs</text>
<text x="398.32" y="259.00" font-size="12.36" font-weight="bold" fill="#000" stroke="#000" stroke-width="0.2" >3350</text>
<text x="439.43" y="257.80" font-size="13.85" font-weight="bold" fill="#f2e61b" stroke="#f2e61b" stroke-width="0.2" >1372</text>
<text x="485.93" y="258.20" font-size="11.96" font-weight="bold" fill="#000" stroke="#000" stroke-width="0.2" >3893</text>
<text x="405.14" y="298.50" font-size="12.11" font-weight="bold" fill="#e4142c" stroke="#e4142c" stroke-width="0.2" >1978</text>
<text x="477.89" y="299.00" font-size="11.76" font-weight="bold" fill="#e4142c" stroke="#e4142c" stroke-width="0.2" >2521</text>
<text transform="translate(4.62,348.30) scale(0.9,1)" font-size="16.2" font-weight="bold" fill="#1a1212">G</text>
<ellipse cx="58.2" cy="432.3" rx="50.5" ry="46.8" fill="#a67fbf"/>
<ellipse cx="130.4" cy="432.1" rx="51.9" ry="48" fill="#8aaddd"/>
<clipPath id="cpvG"><ellipse cx="58.2" cy="432.3" rx="50.5" ry="46.8"/></clipPath>
<g clip-path="url(#cpvG)"><ellipse cx="130.4" cy="432.1" rx="51.9" ry="48" fill="#6b7fc1"/></g>
<ellipse cx="58.2" cy="432.3" rx="50.5" ry="46.8" fill="none" stroke="#000" stroke-width="1.65"/>
<ellipse cx="130.4" cy="432.1" rx="51.9" ry="48" fill="none" stroke="#000" stroke-width="1.65"/>
<text x="43.00" y="362.20" font-size="7.41" font-weight="bold" fill="#8b4fb5" stroke="#8b4fb5" stroke-width="0.2" >RNA-seq</text>
<text x="2.21" y="371.00" font-size="7.28" font-weight="bold" fill="#8b4fb5" stroke="#8b4fb5" stroke-width="0.2" >Overlapping up-regulated genes</text>
<text x="33.61" y="378.60" font-size="7.25" font-weight="bold" fill="#8b4fb5" stroke="#8b4fb5" stroke-width="0.2" >EPSCs VS FFs</text>
<text x="35.03" y="438.40" font-size="11.02" font-weight="bold" fill="#000" stroke="#000" stroke-width="0.2" >711</text>
<text x="89.95" y="438.40" font-size="10.93" font-weight="bold" fill="#f2e61b" stroke="#f2e61b" stroke-width="0.2" >39</text>
<text x="129.11" y="438.40" font-size="11.08" font-weight="bold" fill="#000" stroke="#000" stroke-width="0.2" >1978</text>
<text x="93.41" y="490.30" font-size="7.31" font-weight="bold" fill="#1f7ec6" stroke="#1f7ec6" stroke-width="0.2" >EPSCs specific-genes</text>
<text transform="translate(181.12,348.00) scale(0.9,1)" font-size="16.2" font-weight="bold" fill="#1a1212">H</text>
<g stroke="#000" stroke-width="1.5">
<line x1="266.6" y1="382.6" x2="305.5" y2="391.6"/>
<line x1="266.6" y1="382.6" x2="235.5" y2="407.6"/>
<line x1="266.6" y1="382.6" x2="230" y2="440.2"/>
<line x1="266.6" y1="382.6" x2="256.9" y2="465.8"/>
<line x1="266.6" y1="382.6" x2="323.4" y2="447.9"/>
<line x1="305.5" y1="391.6" x2="235.5" y2="407.6"/>
<line x1="305.5" y1="391.6" x2="230" y2="440.2"/>
<line x1="305.5" y1="391.6" x2="256.9" y2="465.8"/>
<line x1="305.5" y1="391.6" x2="292.6" y2="468.6"/>
<line x1="305.5" y1="391.6" x2="323.4" y2="447.9"/>
<line x1="305.5" y1="391.6" x2="326.4" y2="420.4"/>
<line x1="235.5" y1="407.6" x2="230" y2="440.2"/>
<line x1="235.5" y1="407.6" x2="256.9" y2="465.8"/>
<line x1="230" y1="440.2" x2="256.9" y2="465.8"/>
<line x1="256.9" y1="465.8" x2="292.6" y2="468.6"/>
<line x1="256.9" y1="465.8" x2="323.4" y2="447.9"/>
<line x1="292.6" y1="468.6" x2="323.4" y2="447.9"/>
</g>
<circle cx="266.6" cy="382.6" r="9.1" fill="#e9595b"/>
<circle cx="305.5" cy="391.6" r="9.1" fill="#e9595b"/>
<circle cx="326.4" cy="420.4" r="9.1" fill="#e9595b"/>
<circle cx="323.4" cy="447.9" r="9.1" fill="#e9595b"/>
<circle cx="292.6" cy="468.6" r="9.1" fill="#e9595b"/>
<circle cx="256.9" cy="465.8" r="9.1" fill="#e9595b"/>
<circle cx="230" cy="440.2" r="9.1" fill="#e9595b"/>
<circle cx="235.5" cy="407.6" r="9.1" fill="#e9595b"/>
<text x="249.94" y="370.50" font-size="8.93" font-weight="bold" font-style="italic" fill="#111" stroke="#111" stroke-width="0.2" >NANOG</text>
<text x="195.34" y="402.40" font-size="9.11" font-weight="bold" font-style="italic" fill="#111" stroke="#111" stroke-width="0.2" >DPPA4</text>
<text x="300.64" y="380.70" font-size="9.12" font-weight="bold" font-style="italic" fill="#111" stroke="#111" stroke-width="0.2" >LIN28A</text>
<text x="336.99" y="423.10" font-size="9.01" font-weight="bold" font-style="italic" fill="#111" stroke="#111" stroke-width="0.2" >SNRPF</text>
<text x="198.94" y="457.60" font-size="9.03" font-weight="bold" font-style="italic" fill="#111" stroke="#111" stroke-width="0.2" >DPPA2</text>
<text x="326.49" y="464.00" font-size="8.74" font-weight="bold" font-style="italic" fill="#111" stroke="#111" stroke-width="0.2" >OTX2</text>
<text x="235.44" y="484.30" font-size="9.24" font-weight="bold" font-style="italic" fill="#111" stroke="#111" stroke-width="0.2" >FGF4</text>
<text x="278.48" y="489.60" font-size="8.81" font-weight="bold" font-style="italic" fill="#111" stroke="#111" stroke-width="0.2" >CLDN6</text>
<text transform="translate(364.42,348.00) scale(0.9,1)" font-size="16.2" font-weight="bold" fill="#1a1212">I</text>
<ellipse cx="467.4" cy="413.1" rx="57.6" ry="49.7" fill="#fff"/>
<path d="M411.65 412.60L411.76 410.02L412.03 407.45L412.46 404.90L413.05 402.37L413.79 399.87L414.69 397.41L415.74 395.00L416.94 392.64L418.28 390.33L419.77 388.10L421.39 385.93L423.14 383.84L425.02 381.84L427.02 379.92" fill="none" stroke="#f2a08e" stroke-width="1.6"/>
<path d="M427.02 379.92L429.16 378.09L431.40 376.36L433.75 374.74L436.20 373.23L438.74 371.83L441.36 370.56L444.06 369.41L446.83 368.39L449.65 367.49L452.53 366.73L455.45 366.11L458.41 365.62L461.39 365.27L464.39 365.06L467.40 364.99" fill="none" stroke="#f2a08e" stroke-width="1.6"/>
<path d="M426.96 446.22L424.91 444.25L422.99 442.19L421.20 440.04L419.56 437.81L418.06 435.50L416.70 433.13L415.51 430.69L414.46 428.21L413.58 425.67L412.86 423.10L412.31 420.50L411.92 417.88L411.70 415.24L411.65 412.60" fill="none" stroke="#c2d5f0" stroke-width="1.6"/>
<path d="M465.07 461.17L462.01 460.98L458.97 460.66L455.95 460.18L452.97 459.57L450.03 458.82L447.15 457.92L444.32 456.90L441.57 455.73L438.89 454.45L436.30 453.03L433.81 451.50L431.41 449.85L429.13 448.08L426.96 446.22" fill="none" stroke="#7393d6" stroke-width="1.6"/>
<path d="M467.40 365.49L470.41 365.56L473.41 365.77L476.39 366.12L479.34 366.62L482.26 367.25L485.14 368.01L487.96 368.92L490.72 369.95L493.41 371.11L496.03 372.40L498.56 373.80L500.99 375.33L503.33 376.96L505.56 378.71L507.67 380.55L509.67 382.50" fill="none" stroke="#e47a57" stroke-width="3.4"/>
<path d="M509.67 382.50L511.47 384.45L513.16 386.49L514.71 388.59L516.14 390.77L517.43 393.01L518.58 395.30L519.59 397.64L520.46 400.03L521.18 402.45L521.76 404.90L522.18 407.37L522.45 409.86L522.57 412.35L522.54 414.85L522.36 417.35L522.03 419.83L521.54 422.29L520.91 424.73L520.13 427.14L519.20 429.50L518.13 431.83L516.92 434.10L515.58 436.31L514.10 438.46L512.49 440.54L510.76 442.54" fill="none" stroke="#96c37d" stroke-width="3.4"/>
<path d="M510.76 442.54L508.91 444.47L506.94 446.31L504.87 448.05L502.69 449.70L500.41 451.25L498.04 452.70L495.59 454.03L493.06 455.25L490.46 456.36L487.79 457.34L485.07 458.21L482.30 458.94L479.49 459.56L476.64 460.04L473.77 460.39L470.89 460.62L467.99 460.71L465.09 460.67" fill="none" stroke="#6f7fc2" stroke-width="3.4"/>
<ellipse cx="467.4" cy="413.1" rx="57.6" ry="49.7" fill="none" stroke="#000" stroke-width="1.35"/>
<path d="M465.14 459.53L462.32 459.36L459.51 459.07L456.73 458.65L453.97 458.10L451.25 457.43L448.57 456.64L445.95 455.72L443.39 454.69L440.89 453.55L438.46 452.29L436.12 450.93L433.86 449.46L431.69 447.89L429.62 446.22L427.66 444.46L425.81 442.62L424.07 440.69L422.45 438.69L420.95 436.62L419.58 434.48L418.35 432.29L417.25 430.04L416.29 427.74L415.47 425.41L414.79 423.04L414.26 420.64L413.87 418.22L413.63 415.79L413.54 413.35L413.60 410.91L413.81 408.47L414.17 406.05L414.67 403.65L415.32 401.27L416.11 398.93L417.04 396.62L418.11 394.37L419.32 392.16L420.66 390.01L422.13 387.92L423.73 385.91L425.44 383.96L427.28 382.10L429.22 380.33L431.26 378.64L433.41 377.05L435.65 375.56L437.98 374.18L440.39 372.90L442.87 371.73L445.42 370.67L448.04 369.74L450.70 368.92L453.41 368.22L456.17 367.65L458.95 367.21L461.75 366.89L464.57 366.69L467.40 366.63" fill="none" stroke="#000" stroke-width="1.0"/>
<path d="M467.40 367.13L470.23 367.19L473.04 367.39L475.85 367.71L478.62 368.16L481.37 368.74L484.08 369.44L486.74 370.26L489.34 371.21L491.89 372.27L494.36 373.45L496.76 374.74L499.08 376.14L501.30 377.64L503.44 379.24L505.47 380.93L507.39 382.72L509.20 384.59L510.89 386.55L512.47 388.58L513.91 390.67L515.22 392.83L516.40 395.05L517.44 397.32L518.34 399.63L519.10 401.98L519.71 404.36L520.17 406.77L520.49 409.19L520.65 411.62L520.67 414.06L520.53 416.50L520.25 418.93L519.82 421.34L519.24 423.72L518.51 426.08L517.64 428.40L516.63 430.68L515.48 432.91L514.20 435.08L512.78 437.19L511.24 439.23L509.57 441.20L507.78 443.09L505.88 444.90L503.87 446.61L501.76 448.23L499.55 449.76L497.26 451.18L494.87 452.49L492.41 453.69L489.88 454.78L487.29 455.75L484.64 456.60L481.94 457.33L479.20 457.93L476.43 458.41L473.63 458.76L470.82 458.98L468.00 459.07L465.17 459.03" fill="none" stroke="#000" stroke-width="1.3"/>
<line x1="413.55" y1="412.61" x2="409.80" y2="412.58" stroke="#000" stroke-width="0.9"/>
<line x1="428.40" y1="381.05" x2="425.69" y2="378.83" stroke="#000" stroke-width="0.9"/>
<line x1="428.33" y1="445.09" x2="425.62" y2="447.31" stroke="#000" stroke-width="0.9"/>
<line x1="465.14" y1="459.53" x2="464.99" y2="462.76" stroke="#000" stroke-width="0.9"/>
<line x1="467.40" y1="366.63" x2="467.40" y2="363.40" stroke="#000" stroke-width="0.9"/>
<line x1="508.66" y1="383.23" x2="511.52" y2="381.15" stroke="#000" stroke-width="0.9"/>
<line x1="509.72" y1="441.84" x2="512.67" y2="443.83" stroke="#000" stroke-width="0.9"/>
<path d="M430.49 444.51L428.50 442.66L426.63 440.73L424.89 438.70L423.29 436.59L421.82 434.41L420.50 432.17L419.33 429.86Q467.4 413.1 518.48 402.52L518.48 402.52L519.06 404.89L519.50 407.28L519.78 409.69L519.92 412.11L519.90 414.53L519.74 416.95L519.43 419.36L518.97 421.75Q467.4 413.1 430.49 444.51Z" fill="#6cbd33" stroke="#000" stroke-width="1.15" stroke-linejoin="round"/>
<path d="M448.15 454.63L445.35 453.58L442.63 452.39L439.99 451.07L437.45 449.61L435.02 448.03L432.69 446.33L430.49 444.51Q467.4 413.1 518.97 421.75L518.97 421.75L518.37 424.08L517.62 426.39L516.74 428.65L515.72 430.88L514.57 433.05L513.29 435.17L511.87 437.22L510.34 439.21L508.68 441.13Q467.4 413.1 448.15 454.63Z" fill="#6cbd33" stroke="#000" stroke-width="1.15" stroke-linejoin="round"/>
<path d="M415.57 412.16L415.70 409.82L415.97 407.49L416.38 405.18L416.93 402.89L417.62 400.62L418.44 398.39L419.40 396.20Q467.4 413.1 507.93 384.27L507.93 384.27L509.76 386.30L511.46 388.41L513.01 390.61L514.41 392.88L515.67 395.21L516.76 397.60L517.70 400.04L518.48 402.52Q467.4 413.1 415.57 412.16Z" fill="#6cbd33" stroke="#000" stroke-width="1.15" stroke-linejoin="round"/>
<path d="M419.33 429.86L418.37 427.62L417.54 425.34L416.85 423.03L416.31 420.69L415.92 418.33L415.67 415.95L415.56 413.57Q467.4 413.1 488.51 371.60L488.51 371.60L491.24 372.71L493.88 373.96L496.44 375.33L498.90 376.83L501.26 378.45L503.51 380.18L505.64 382.02L507.64 383.96Q467.4 413.1 419.33 429.86Z" fill="#e8202a" stroke="#000" stroke-width="1.15" stroke-linejoin="round"/>
<path d="M419.40 396.20L420.52 394.00L421.77 391.86L423.16 389.79L424.67 387.77L426.30 385.83L428.06 383.97L429.92 382.20Q467.4 413.1 467.40 367.77L467.40 367.77L470.50 367.85L473.59 368.09L476.66 368.48L479.70 369.03L482.70 369.74L485.64 370.59L488.51 371.60Q467.4 413.1 419.40 396.20Z" fill="#e8202a" stroke="#000" stroke-width="1.15" stroke-linejoin="round"/>
<path d="M465.23 457.79L462.31 457.61L459.41 457.30L456.53 456.84L453.69 456.24L450.89 455.50L448.15 454.63Q467.4 413.1 490.77 453.03L490.77 453.03L488.12 454.10L485.39 455.05L482.61 455.86L479.79 456.53L476.92 457.07L474.02 457.46L471.10 457.72L468.16 457.83L465.23 457.79Q467.4 413.1 465.23 457.79Z" fill="#2653a9" stroke="#000" stroke-width="1.15" stroke-linejoin="round"/>
<path d="M431.45 380.87L433.52 379.24L435.69 377.72L437.95 376.29L440.29 374.97L442.72 373.77L445.21 372.67L447.77 371.70L450.39 370.85L453.06 370.12L455.76 369.51L458.51 369.03L461.27 368.68L464.06 368.46L466.86 368.37Q467.4 413.1 508.68 441.13L508.68 441.13L506.85 443.03L504.90 444.84L502.84 446.56L500.67 448.18L498.41 449.69L496.05 451.09L493.61 452.38L491.09 453.56Q467.4 413.1 431.45 380.87Z" fill="#2653a9" stroke="#000" stroke-width="1.15" stroke-linejoin="round"/>
<text transform="translate(432.3,362.4) rotate(33)" font-size="5.9" font-weight="bold" font-style="italic" text-anchor="middle" fill="#222" stroke="#222" stroke-width="0.2">FGF4</text>
<text transform="translate(403.9,386.6) rotate(32)" font-size="5.9" font-weight="bold" font-style="italic" text-anchor="middle" fill="#222" stroke="#222" stroke-width="0.2">DPPA2</text>
<text x="392.89" y="439.80" font-size="6.04" font-weight="bold" font-style="italic" fill="#222" stroke="#222" stroke-width="0.2" >DPPA4</text>
<text x="422.80" y="464.60" font-size="5.69" font-weight="bold" font-style="italic" fill="#222" stroke="#222" stroke-width="0.2" >NANOG</text>
<text x="371.95" y="475.50" font-size="6.28" font-weight="bold" fill="#222" stroke="#222" stroke-width="0.2" >GO - Molecular Function</text>
<text x="455.65" y="475.60" font-size="6.26" font-weight="bold" fill="#222" stroke="#222" stroke-width="0.2" >GO - Biological Processes</text>
<rect x="376.4" y="482.1" width="6.5" height="6.2" fill="#66bb2e"/>
<text x="385.77" y="487.10" font-size="5.85" font-weight="bold" fill="#222" stroke="#222" stroke-width="0.2" >chromatin binding</text>
<rect x="441.8" y="480.0" width="6.6" height="6.2" fill="#e61e25"/>
<text x="451.69" y="483.60" font-size="5.87" font-weight="bold" fill="#222" stroke="#222" stroke-width="0.2" >system development</text>
<rect x="441.8" y="490.0" width="6.6" height="6.4" fill="#2553a8"/>
<text x="451.69" y="493.40" font-size="5.89" font-weight="bold" fill="#222" stroke="#222" stroke-width="0.2" >stem cell population maintenance</text>
</svg></body></html>
